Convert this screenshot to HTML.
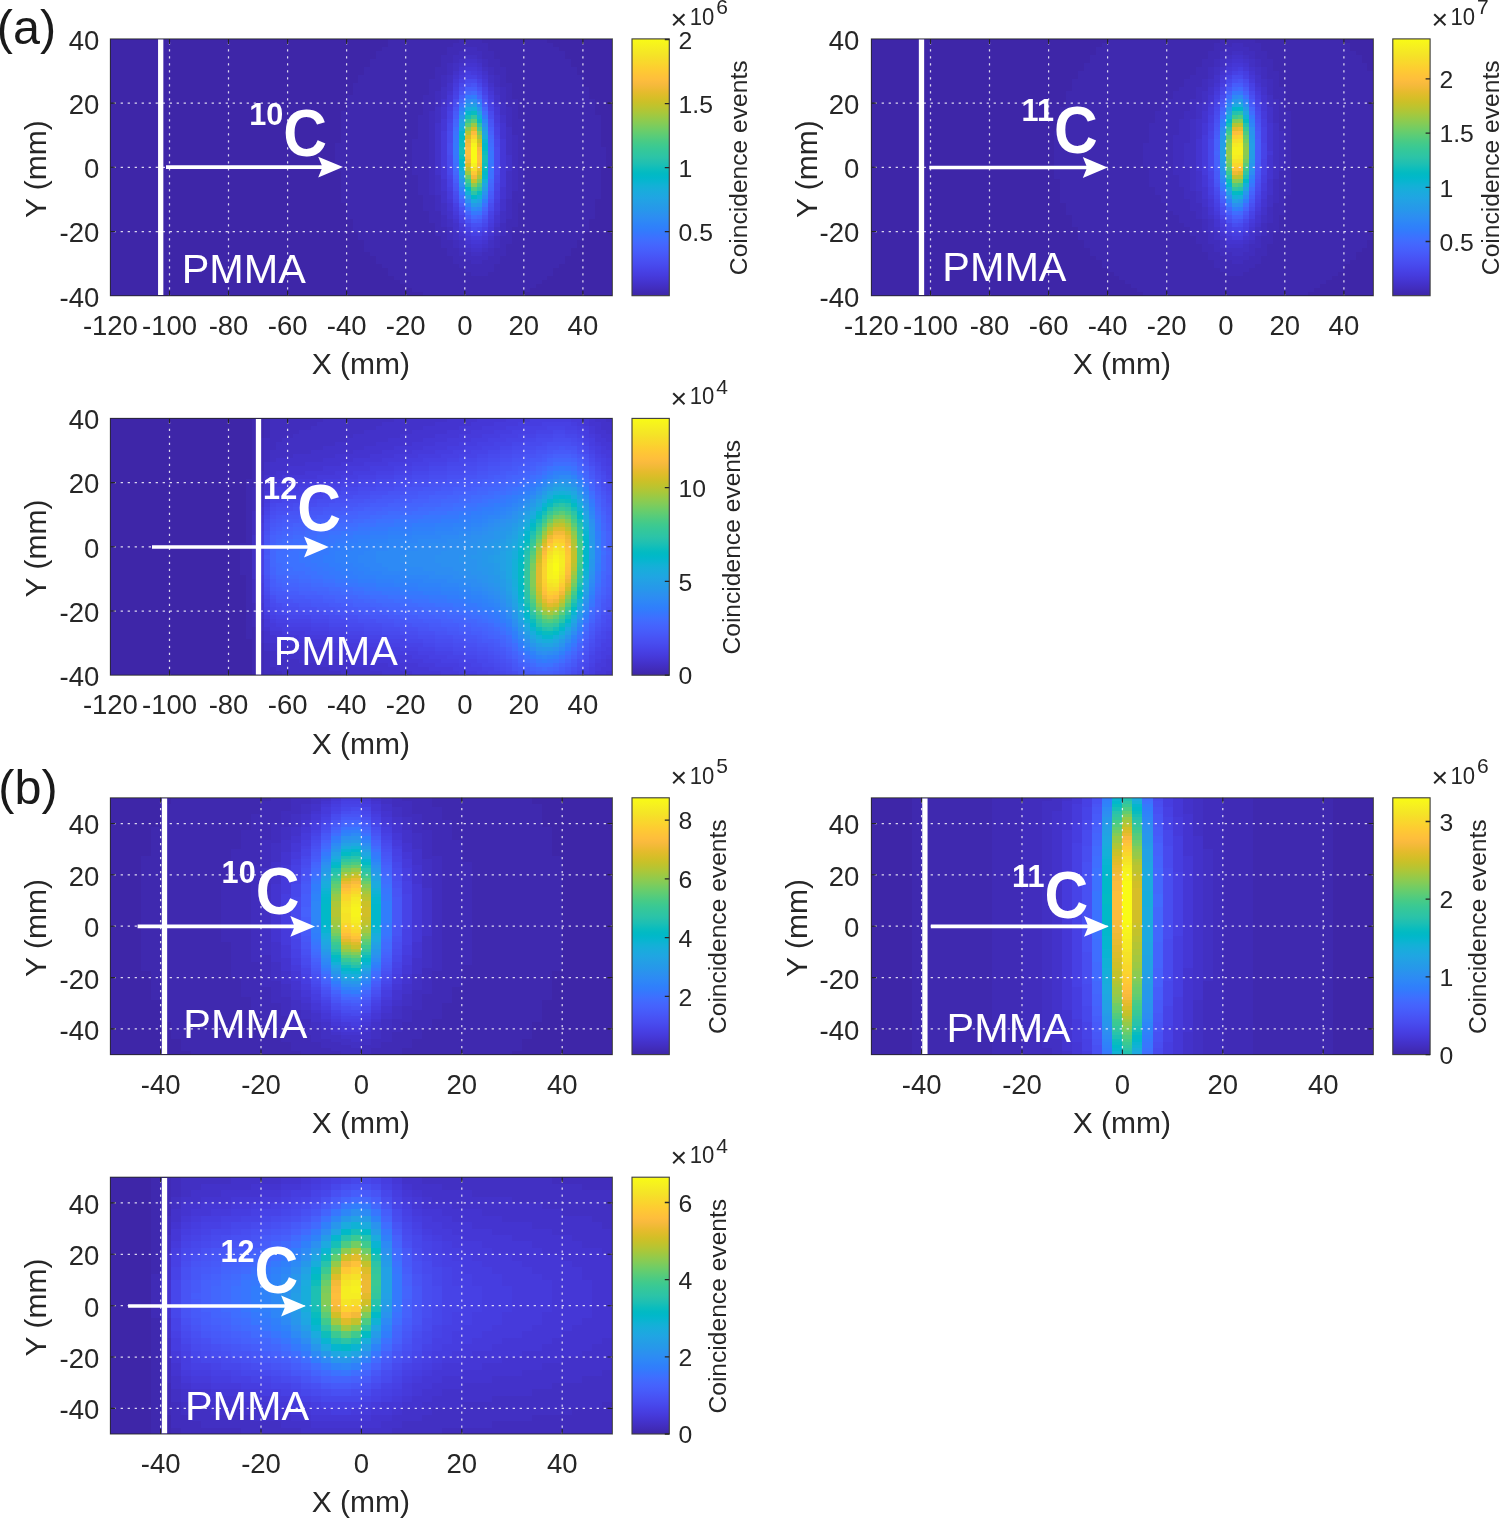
<!DOCTYPE html>
<html lang="en"><head><meta charset="utf-8"><title>PET images of 10C, 11C and 12C beams in PMMA</title>
<style>html,body{margin:0;padding:0;background:#fff}svg{display:block;font-family:'Liberation Sans', sans-serif}</style>
</head><body>
<svg width="1500" height="1519" viewBox="0 0 1500 1519">
<defs><linearGradient id="pg" x1="0" y1="1" x2="0" y2="0"><stop offset="0.0000" stop-color="#3e26a8"/><stop offset="0.0159" stop-color="#402ab4"/><stop offset="0.0317" stop-color="#422ec0"/><stop offset="0.0476" stop-color="#4332cb"/><stop offset="0.0635" stop-color="#4537d5"/><stop offset="0.0794" stop-color="#463cde"/><stop offset="0.0952" stop-color="#4741e5"/><stop offset="0.1111" stop-color="#4747eb"/><stop offset="0.1270" stop-color="#484df0"/><stop offset="0.1429" stop-color="#4852f4"/><stop offset="0.1587" stop-color="#4758f8"/><stop offset="0.1746" stop-color="#465efb"/><stop offset="0.1905" stop-color="#4563fd"/><stop offset="0.2063" stop-color="#4269fe"/><stop offset="0.2222" stop-color="#3e6fff"/><stop offset="0.2381" stop-color="#3875fe"/><stop offset="0.2540" stop-color="#327cfc"/><stop offset="0.2698" stop-color="#2f81fa"/><stop offset="0.2857" stop-color="#2e87f7"/><stop offset="0.3016" stop-color="#2d8cf3"/><stop offset="0.3175" stop-color="#2b91ef"/><stop offset="0.3333" stop-color="#2797eb"/><stop offset="0.3492" stop-color="#259be8"/><stop offset="0.3651" stop-color="#23a0e5"/><stop offset="0.3810" stop-color="#20a5e3"/><stop offset="0.3968" stop-color="#1ca9df"/><stop offset="0.4127" stop-color="#18addb"/><stop offset="0.4286" stop-color="#12b1d6"/><stop offset="0.4444" stop-color="#08b5d0"/><stop offset="0.4603" stop-color="#01b8ca"/><stop offset="0.4762" stop-color="#02bac3"/><stop offset="0.4921" stop-color="#0bbdbd"/><stop offset="0.5079" stop-color="#19bfb6"/><stop offset="0.5238" stop-color="#24c1ae"/><stop offset="0.5397" stop-color="#2cc4a7"/><stop offset="0.5556" stop-color="#31c69f"/><stop offset="0.5714" stop-color="#37c897"/><stop offset="0.5873" stop-color="#3fca8e"/><stop offset="0.6032" stop-color="#4acb84"/><stop offset="0.6190" stop-color="#57cc7a"/><stop offset="0.6349" stop-color="#64cd6f"/><stop offset="0.6508" stop-color="#72cd64"/><stop offset="0.6667" stop-color="#81cc59"/><stop offset="0.6825" stop-color="#8fcb4e"/><stop offset="0.6984" stop-color="#9dc943"/><stop offset="0.7143" stop-color="#abc739"/><stop offset="0.7302" stop-color="#b9c431"/><stop offset="0.7460" stop-color="#c5c22a"/><stop offset="0.7619" stop-color="#d1bf27"/><stop offset="0.7778" stop-color="#dcbd29"/><stop offset="0.7937" stop-color="#e6bb2d"/><stop offset="0.8095" stop-color="#f0ba36"/><stop offset="0.8254" stop-color="#f8ba3d"/><stop offset="0.8413" stop-color="#febe3c"/><stop offset="0.8571" stop-color="#fec338"/><stop offset="0.8730" stop-color="#fec934"/><stop offset="0.8889" stop-color="#fccf30"/><stop offset="0.9048" stop-color="#fad62d"/><stop offset="0.9206" stop-color="#f7dc2a"/><stop offset="0.9365" stop-color="#f5e327"/><stop offset="0.9524" stop-color="#f5e924"/><stop offset="0.9683" stop-color="#f6ef20"/><stop offset="0.9841" stop-color="#f7f51b"/><stop offset="1.0000" stop-color="#f9fb15"/></linearGradient></defs>
<rect width="1500" height="1519" fill="#fff"/>
<g id="p0">
<g shape-rendering="crispEdges">
<rect x="110.4" y="38.9" width="502" height="256.8" fill="#3e26a8"/>
<path fill="#3f29af" d="M388 38.9H459V43H388zM482 38.9H547V43H482zM388 43H453V47H388zM488 43H553V47H488zM382 47H447V51H382zM488 47H559V51H488zM376 51H447V55H376zM494 51H565V55H494zM376 55H441V59H376zM494 55H565V59H494zM370 59H441V63H370zM500 59H571V63H500zM370 63H441V67H370zM500 63H571V67H500zM364 67H435V71H364zM506 67H577V71H506zM364 71H435V75H364zM506 71H577V75H506zM358 75H435V79H358zM506 75H583V79H506zM358 79H429V83H358zM506 79H583V83H506zM353 83H429V87H353zM512 83H583V87H512zM353 87H429V91H353zM512 87H589V91H512zM353 91H429V95H353zM512 91H589V95H512zM347 95H423V99H347zM512 95H589V99H512zM347 99H423V103H347zM518 99H595V103H518zM347 103H423V107H347zM518 103H595V107H518zM347 107H423V111H347zM518 107H595V111H518zM341 111H423V115H341zM518 111H595V115H518zM341 115H418V119H341zM518 115H601V119H518zM341 119H418V123H341zM524 119H601V123H524zM341 123H418V127H341zM524 123H601V127H524zM341 127H418V131H341zM524 127H601V131H524zM341 131H418V135H341zM524 131H601V135H524zM341 135H418V139H341zM524 135H601V139H524zM341 139H412V143H341zM524 139H601V143H524zM335 143H412V147H335zM524 143H601V147H524zM335 147H412V151H335zM524 147H606V151H524zM335 151H412V155H335zM524 151H606V155H524zM335 155H412V159H335zM524 155H606V159H524zM335 159H412V163H335zM524 159H606V163H524zM335 163H412V167H335zM524 163H606V167H524zM335 167H412V171H335zM524 167H601V171H524zM341 171H412V175H341zM524 171H601V175H524zM341 175H418V179H341zM524 175H601V179H524zM341 179H418V183H341zM524 179H601V183H524zM341 183H418V187H341zM524 183H601V187H524zM341 187H418V191H341zM524 187H601V191H524zM341 191H418V195H341zM524 191H601V195H524zM341 195H423V199H341zM524 195H601V199H524zM341 199H423V203H341zM524 199H595V203H524zM347 203H423V207H347zM518 203H595V207H518zM347 207H423V211H347zM518 207H595V211H518zM347 211H429V215H347zM518 211H595V215H518zM347 215H429V219H347zM518 215H595V219H518zM353 219H429V223H353zM518 219H589V223H518zM353 223H435V227H353zM518 223H589V227H518zM353 227H435V232H353zM512 227H589V232H512zM358 232H435V236H358zM512 232H583V236H512zM358 236H441V240H358zM512 236H583V240H512zM364 240H441V244H364zM512 240H577V244H512zM364 244H441V248H364zM506 244H577V248H506zM364 248H447V252H364zM506 248H571V252H506zM370 252H447V256H370zM506 252H571V256H506zM376 256H453V260H376zM500 256H565V260H500zM376 260H453V264H376zM500 260H565V264H500zM382 264H459V268H382zM494 264H559V268H494zM388 268H465V272H388zM494 268H553V272H494zM388 272H471V276H388zM488 272H553V276H488zM394 276H547V280H394zM400 280H542V284H400zM406 284H536V288H406zM412 288H530V292H412zM423 292H524V295.7H423z"/>
<path fill="#402bb6" d="M459 38.9H482V43H459zM453 43H488V47H453zM447 47H465V51H447zM477 47H488V51H477zM447 51H459V55H447zM482 51H494V55H482zM441 55H453V59H441zM482 55H494V59H482zM441 59H453V63H441zM488 59H500V63H488zM441 63H447V67H441zM488 63H500V67H488zM435 67H447V71H435zM494 67H506V71H494zM435 71H447V75H435zM494 71H506V75H494zM435 75H441V79H435zM500 75H506V79H500zM429 79H441V83H429zM500 79H506V83H500zM429 83H441V87H429zM500 83H512V87H500zM429 87H441V91H429zM506 87H512V91H506zM429 91H435V95H429zM506 91H512V95H506zM423 95H435V99H423zM506 95H512V99H506zM423 99H435V103H423zM506 99H518V103H506zM423 103H435V107H423zM506 103H518V107H506zM423 107H435V111H423zM512 107H518V111H512zM423 111H429V115H423zM512 111H518V115H512zM418 115H429V119H418zM512 115H518V119H512zM418 119H429V123H418zM512 119H524V123H512zM418 123H429V127H418zM512 123H524V127H512zM418 127H429V131H418zM512 127H524V131H512zM418 131H429V135H418zM512 131H524V135H512zM418 135H429V139H418zM518 135H524V139H518zM412 139H429V143H412zM518 139H524V143H518zM412 143H429V147H412zM518 143H524V147H518zM412 147H429V151H412zM518 147H524V151H518zM412 151H429V155H412zM518 151H524V155H518zM412 155H429V159H412zM518 155H524V159H518zM412 159H429V163H412zM518 159H524V163H518zM412 163H429V167H412zM518 163H524V167H518zM412 167H429V171H412zM518 167H524V171H518zM412 171H429V175H412zM518 171H524V175H518zM418 175H429V179H418zM518 175H524V179H518zM418 179H429V183H418zM518 179H524V183H518zM418 183H429V187H418zM518 183H524V187H518zM418 187H429V191H418zM518 187H524V191H518zM418 191H429V195H418zM512 191H524V195H512zM423 195H435V199H423zM512 195H524V199H512zM423 199H435V203H423zM512 199H524V203H512zM423 203H435V207H423zM512 203H518V207H512zM423 207H435V211H423zM512 207H518V211H512zM429 211H441V215H429zM512 211H518V215H512zM429 215H441V219H429zM512 215H518V219H512zM429 219H441V223H429zM506 219H518V223H506zM435 223H441V227H435zM506 223H518V227H506zM435 227H447V232H435zM506 227H512V232H506zM435 232H447V236H435zM506 232H512V236H506zM441 236H447V240H441zM500 236H512V240H500zM441 240H453V244H441zM500 240H512V244H500zM441 244H453V248H441zM500 244H506V248H500zM447 248H459V252H447zM494 248H506V252H494zM447 252H459V256H447zM494 252H506V256H494zM453 256H465V260H453zM488 256H500V260H488zM453 260H471V264H453zM482 260H500V264H482zM459 264H494V268H459zM465 268H494V272H465zM471 272H488V276H471z"/>
<path fill="#412dbd" d="M465 47H477V51H465zM459 51H482V55H459zM453 55H465V59H453zM477 55H482V59H477zM453 59H459V63H453zM482 59H488V63H482zM447 63H453V67H447zM482 63H488V67H482zM447 67H453V71H447zM488 67H494V71H488zM447 71H453V75H447zM488 71H494V75H488zM441 75H447V79H441zM494 75H500V79H494zM441 79H447V83H441zM494 79H500V83H494zM441 83H447V87H441zM494 83H500V87H494zM500 87H506V91H500zM435 91H441V95H435zM500 91H506V95H500zM435 95H441V99H435zM500 95H506V99H500zM435 99H441V103H435zM500 99H506V103H500zM435 103H441V107H435zM506 107H512V111H506zM429 111H435V115H429zM506 111H512V115H506zM429 115H435V119H429zM506 115H512V119H506zM429 119H435V123H429zM506 119H512V123H506zM429 123H435V127H429zM506 123H512V127H506zM429 127H435V131H429zM429 131H435V135H429zM429 135H435V139H429zM512 135H518V139H512zM429 139H435V143H429zM512 139H518V143H512zM429 143H435V147H429zM512 143H518V147H512zM429 147H435V151H429zM512 147H518V151H512zM429 151H435V155H429zM512 151H518V155H512zM429 155H435V159H429zM512 155H518V159H512zM429 159H435V163H429zM512 159H518V163H512zM429 163H435V167H429zM512 163H518V167H512zM429 167H435V171H429zM512 167H518V171H512zM429 171H435V175H429zM512 171H518V175H512zM429 175H435V179H429zM512 175H518V179H512zM429 179H435V183H429zM512 179H518V183H512zM429 183H435V187H429zM512 183H518V187H512zM429 187H435V191H429zM512 187H518V191H512zM429 191H435V195H429zM435 195H441V199H435zM435 199H441V203H435zM506 199H512V203H506zM435 203H441V207H435zM506 203H512V207H506zM435 207H441V211H435zM506 207H512V211H506zM506 211H512V215H506zM441 215H447V219H441zM506 215H512V219H506zM441 219H447V223H441zM441 223H447V227H441zM500 223H506V227H500zM447 227H453V232H447zM500 227H506V232H500zM447 232H453V236H447zM500 232H506V236H500zM447 236H453V240H447zM494 236H500V240H494zM453 240H459V244H453zM494 240H500V244H494zM453 244H459V248H453zM494 244H500V248H494zM459 248H465V252H459zM488 248H494V252H488zM459 252H471V256H459zM482 252H494V256H482zM465 256H488V260H465zM471 260H482V264H471z"/>
<path fill="#4230c3" d="M465 55H477V59H465zM459 59H465V63H459zM477 59H482V63H477zM453 63H459V67H453zM453 67H459V71H453zM482 67H488V71H482zM447 75H453V79H447zM488 75H494V79H488zM447 79H453V83H447zM488 79H494V83H488zM441 87H447V91H441zM494 87H500V91H494zM441 91H447V95H441zM494 91H500V95H494zM441 95H447V99H441zM500 103H506V107H500zM435 107H441V111H435zM500 107H506V111H500zM435 111H441V115H435zM500 111H506V115H500zM435 115H441V119H435zM435 119H441V123H435zM506 127H512V131H506zM506 131H512V135H506zM506 135H512V139H506zM506 139H512V143H506zM506 143H512V147H506zM506 147H512V151H506zM506 151H512V155H506zM506 171H512V175H506zM435 175H441V179H435zM506 175H512V179H506zM435 179H441V183H435zM506 179H512V183H506zM435 183H441V187H435zM506 183H512V187H506zM435 187H441V191H435zM506 187H512V191H506zM435 191H441V195H435zM506 191H512V195H506zM506 195H512V199H506zM441 203H447V207H441zM441 207H447V211H441zM441 211H447V215H441zM500 211H506V215H500zM500 215H506V219H500zM447 219H453V223H447zM500 219H506V223H500zM447 223H453V227H447zM494 227H500V232H494zM453 232H459V236H453zM494 232H500V236H494zM453 236H459V240H453zM459 240H465V244H459zM488 240H494V244H488zM459 244H465V248H459zM488 244H494V248H488zM465 248H471V252H465zM482 248H488V252H482zM471 252H482V256H471z"/>
<path fill="#4332ca" d="M465 59H477V63H465zM459 63H465V67H459zM477 63H482V67H477zM453 71H459V75H453zM482 71H488V75H482zM447 83H453V87H447zM488 83H494V87H488zM447 87H453V91H447zM494 95H500V99H494zM441 99H447V103H441zM494 99H500V103H494zM441 103H447V107H441zM500 115H506V119H500zM500 119H506V123H500zM435 123H441V127H435zM435 127H441V131H435zM435 131H441V135H435zM435 135H441V139H435zM435 139H441V143H435zM435 143H441V147H435zM435 147H441V151H435zM435 151H441V155H435zM435 155H441V159H435zM506 155H512V159H506zM435 159H441V163H435zM506 159H512V163H506zM435 163H441V167H435zM506 163H512V167H506zM435 167H441V171H435zM506 167H512V171H506zM435 171H441V175H435zM441 191H447V195H441zM441 195H447V199H441zM441 199H447V203H441zM500 199H506V203H500zM500 203H506V207H500zM500 207H506V211H500zM447 211H453V215H447zM447 215H453V219H447zM453 223H459V227H453zM494 223H500V227H494zM453 227H459V232H453zM459 236H465V240H459zM488 236H494V240H488zM465 244H471V248H465zM482 244H488V248H482zM471 248H482V252H471z"/>
<path fill="#4434d0" d="M465 63H477V67H465zM459 67H465V71H459zM477 67H482V71H477zM453 75H459V79H453zM482 75H488V79H482zM488 87H494V91H488zM447 91H453V95H447zM494 103H500V107H494zM441 107H447V111H441zM441 111H447V115H441zM441 115H447V119H441zM500 123H506V127H500zM500 127H506V131H500zM500 131H506V135H500zM500 135H506V139H500zM441 179H447V183H441zM441 183H447V187H441zM441 187H447V191H441zM500 187H506V191H500zM500 191H506V195H500zM500 195H506V199H500zM447 203H453V207H447zM447 207H453V211H447zM494 215H500V219H494zM453 219H459V223H453zM494 219H500V223H494zM459 232H465V236H459zM488 232H494V236H488zM465 240H471V244H465zM482 240H488V244H482zM471 244H482V248H471z"/>
<path fill="#4537d6" d="M465 67H477V71H465zM459 71H465V75H459zM477 71H482V75H477zM453 79H459V83H453zM482 79H488V83H482zM488 91H494V95H488zM447 95H453V99H447zM447 99H453V103H447zM494 107H500V111H494zM494 111H500V115H494zM441 119H447V123H441zM441 123H447V127H441zM441 127H447V131H441zM500 139H506V143H500zM500 143H506V147H500zM500 147H506V151H500zM500 151H506V155H500zM500 155H506V159H500zM500 159H506V163H500zM500 163H506V167H500zM441 167H447V171H441zM500 167H506V171H500zM441 171H447V175H441zM500 171H506V175H500zM441 175H447V179H441zM500 175H506V179H500zM500 179H506V183H500zM500 183H506V187H500zM447 199H453V203H447zM494 211H500V215H494zM453 215H459V219H453zM459 227H465V232H459zM488 227H494V232H488zM465 236H471V240H465zM482 236H488V240H482zM471 240H482V244H471z"/>
<path fill="#463adb" d="M471 71H477V75H471zM459 75H465V79H459zM477 75H482V79H477zM453 83H459V87H453zM482 83H488V87H482zM488 95H494V99H488zM447 103H453V107H447zM494 115H500V119H494zM494 119H500V123H494zM441 131H447V135H441zM441 135H447V139H441zM441 139H447V143H441zM441 143H447V147H441zM441 147H447V151H441zM441 151H447V155H441zM441 155H447V159H441zM441 159H447V163H441zM441 163H447V167H441zM447 191H453V195H447zM447 195H453V199H447zM494 203H500V207H494zM494 207H500V211H494zM453 211H459V215H453zM459 223H465V227H459zM488 223H494V227H488zM465 232H471V236H465zM482 232H488V236H482zM471 236H482V240H471z"/>
<path fill="#463de0" d="M465 71H471V75H465zM453 87H459V91H453zM488 99H494V103H488zM447 107H453V111H447zM494 123H500V127H494zM447 187H453V191H447zM494 199H500V203H494zM453 207H459V211H453zM488 219H494V223H488z"/>
<path fill="#4740e4" d="M465 75H477V79H465zM459 79H465V83H459zM477 79H482V83H477zM482 87H488V91H482zM453 91H459V95H453zM488 103H494V107H488zM447 111H453V115H447zM447 115H453V119H447zM494 127H500V131H494zM494 131H500V135H494zM447 179H453V183H447zM447 183H453V187H447zM494 191H500V195H494zM494 195H500V199H494zM453 203H459V207H453zM488 215H494V219H488zM459 219H465V223H459zM465 227H471V232H465zM482 227H488V232H482zM471 232H482V236H471z"/>
<path fill="#4743e7" d="M482 91H488V95H482zM453 95H459V99H453zM488 107H494V111H488zM447 119H453V123H447zM494 135H500V139H494zM447 175H453V179H447zM494 183H500V187H494zM494 187H500V191H494zM488 211H494V215H488zM459 215H465V219H459z"/>
<path fill="#4747eb" d="M459 83H465V87H459zM477 83H482V87H477zM447 123H453V127H447zM447 127H453V131H447zM494 139H500V143H494zM494 143H500V147H494zM447 167H453V171H447zM447 171H453V175H447zM494 175H500V179H494zM494 179H500V183H494zM453 199H459V203H453zM465 223H471V227H465zM482 223H488V227H482zM477 227H482V232H477z"/>
<path fill="#484aee" d="M465 79H477V83H465zM482 95H488V99H482zM453 99H459V103H453zM488 111H494V115H488zM447 131H453V135H447zM447 135H453V139H447zM447 139H453V143H447zM494 147H500V151H494zM494 151H500V155H494zM447 155H453V159H447zM494 155H500V159H494zM447 159H453V163H447zM494 159H500V163H494zM447 163H453V167H447zM494 163H500V167H494zM494 167H500V171H494zM494 171H500V175H494zM453 195H459V199H453zM488 207H494V211H488zM459 211H465V215H459zM471 227H477V232H471z"/>
<path fill="#484df0" d="M459 87H465V91H459zM453 103H459V107H453zM488 115H494V119H488zM447 143H453V147H447zM447 147H453V151H447zM447 151H453V155H447zM453 191H459V195H453zM488 203H494V207H488zM482 219H488V223H482z"/>
<path fill="#4850f3" d="M465 83H471V87H465zM477 87H482V91H477zM482 99H488V103H482zM459 207H465V211H459zM465 219H471V223H465zM471 223H482V227H471z"/>
<path fill="#4854f5" d="M471 83H477V87H471zM459 91H465V95H459zM453 107H459V111H453zM488 119H494V123H488zM453 187H459V191H453zM488 199H494V203H488zM482 215H488V219H482z"/>
<path fill="#4757f7" d="M488 123H494V127H488zM453 183H459V187H453z"/>
<path fill="#475af9" d="M477 91H482V95H477zM482 103H488V107H482zM453 111H459V115H453zM488 195H494V199H488zM459 203H465V207H459zM465 215H471V219H465zM477 219H482V223H477z"/>
<path fill="#465dfb" d="M465 87H477V91H465zM459 95H465V99H459zM453 115H459V119H453zM488 127H494V131H488zM453 179H459V183H453zM488 191H494V195H488zM482 211H488V215H482zM471 219H477V223H471z"/>
<path fill="#4661fc" d="M488 131H494V135H488zM453 175H459V179H453z"/>
<path fill="#4464fd" d="M477 95H482V99H477zM482 107H488V111H482zM453 119H459V123H453zM488 187H494V191H488zM459 199H465V203H459zM465 211H471V215H465z"/>
<path fill="#4367fd" d="M465 91H471V95H465zM459 99H465V103H459zM453 123H459V127H453zM488 135H494V139H488zM453 171H459V175H453zM488 183H494V187H488zM482 207H488V211H482zM477 215H482V219H477z"/>
<path fill="#416bfe" d="M471 91H477V95H471zM488 139H494V143H488zM453 167H459V171H453zM488 179H494V183H488zM471 215H477V219H471z"/>
<path fill="#3f6eff" d="M482 111H488V115H482zM453 127H459V131H453zM488 143H494V147H488zM453 163H459V167H453zM459 195H465V199H459z"/>
<path fill="#3c72ff" d="M459 103H465V107H459zM453 131H459V135H453zM488 147H494V151H488zM453 159H459V163H453zM488 171H494V175H488zM488 175H494V179H488zM482 203H488V207H482zM465 207H471V211H465z"/>
<path fill="#3876fe" d="M477 99H482V103H477zM453 135H459V139H453zM453 139H459V143H453zM488 151H494V155H488zM453 155H459V159H453zM488 155H494V159H488zM488 163H494V167H488zM488 167H494V171H488zM477 211H482V215H477z"/>
<path fill="#3579fd" d="M465 95H471V99H465zM482 115H488V119H482zM453 143H459V147H453zM453 147H459V151H453zM453 151H459V155H453zM488 159H494V163H488zM459 191H465V195H459zM471 211H477V215H471z"/>
<path fill="#317dfc" d="M471 95H477V99H471zM482 199H488V203H482z"/>
<path fill="#3080fa" d="M459 107H465V111H459zM465 203H471V207H465z"/>
<path fill="#2e83f9" d="M477 103H482V107H477zM459 187H465V191H459z"/>
<path fill="#2e86f7" d="M482 119H488V123H482zM477 207H482V211H477z"/>
<path fill="#2d8af5" d="M465 99H471V103H465zM459 111H465V115H459zM482 195H488V199H482zM471 207H477V211H471z"/>
<path fill="#2d8df2" d="M471 99H477V103H471z"/>
<path fill="#2c90f0" d="M482 123H488V127H482zM459 183H465V187H459zM465 199H471V203H465z"/>
<path fill="#2a93ee" d="M477 107H482V111H477zM482 191H488V195H482z"/>
<path fill="#2896ec" d="M459 115H465V119H459zM477 203H482V207H477z"/>
<path fill="#2698ea" d="M465 103H471V107H465zM459 179H465V183H459z"/>
<path fill="#259be8" d="M482 127H488V131H482zM471 203H477V207H471z"/>
<path fill="#249ee6" d="M471 103H477V107H471zM482 187H488V191H482z"/>
<path fill="#23a1e5" d="M459 119H465V123H459zM465 195H471V199H465z"/>
<path fill="#21a3e3" d="M477 111H482V115H477zM482 131H488V135H482zM459 175H465V179H459zM477 199H482V203H477z"/>
<path fill="#1fa6e2" d="M482 183H488V187H482z"/>
<path fill="#1da9e0" d="M465 107H471V111H465zM459 123H465V127H459z"/>
<path fill="#1babde" d="M459 171H465V175H459zM471 199H477V203H471z"/>
<path fill="#18addb" d="M482 135H488V139H482z"/>
<path fill="#14b0d8" d="M471 107H477V111H471zM459 127H465V131H459zM482 179H488V183H482zM465 191H471V195H465z"/>
<path fill="#10b2d5" d="M477 115H482V119H477zM459 167H465V171H459zM477 195H482V199H477z"/>
<path fill="#0ab4d2" d="M482 139H488V143H482z"/>
<path fill="#05b6ce" d="M465 111H471V115H465zM459 131H465V135H459zM482 175H488V179H482z"/>
<path fill="#02b7cb" d="M482 143H488V147H482zM459 163H465V167H459z"/>
<path fill="#01b9c7" d="M482 171H488V175H482zM471 195H477V199H471z"/>
<path fill="#02bbc3" d="M459 135H465V139H459zM482 147H488V151H482zM459 159H465V163H459zM465 187H471V191H465z"/>
<path fill="#08bcbf" d="M471 111H477V115H471zM477 119H482V123H477zM459 139H465V143H459zM482 167H488V171H482zM477 191H482V195H477z"/>
<path fill="#0ebdbb" d="M459 143H465V147H459zM482 151H488V155H482zM459 155H465V159H459zM482 163H488V167H482z"/>
<path fill="#16bfb7" d="M465 115H471V119H465zM459 147H465V151H459zM459 151H465V155H459zM482 155H488V159H482zM482 159H488V163H482z"/>
<path fill="#28c3ab" d="M465 183H471V187H465z"/>
<path fill="#2cc4a6" d="M477 123H482V127H477zM471 191H477V195H471z"/>
<path fill="#30c5a2" d="M477 187H482V191H477z"/>
<path fill="#33c69d" d="M471 115H477V119H471z"/>
<path fill="#36c898" d="M465 119H471V123H465z"/>
<path fill="#3fca8e" d="M465 179H471V183H465z"/>
<path fill="#4ccb83" d="M477 127H482V131H477zM477 183H482V187H477zM471 187H477V191H471z"/>
<path fill="#5bcc77" d="M471 119H477V123H471zM465 123H471V127H465z"/>
<path fill="#6acd6a" d="M465 175H471V179H465z"/>
<path fill="#7bcc5d" d="M477 131H482V135H477zM477 179H482V183H477z"/>
<path fill="#8ccb50" d="M465 127H471V131H465zM471 183H477V187H471z"/>
<path fill="#9cc943" d="M471 123H477V127H471zM465 171H471V175H465z"/>
<path fill="#a4c83e" d="M477 135H482V139H477z"/>
<path fill="#acc738" d="M477 175H482V179H477z"/>
<path fill="#b4c533" d="M465 131H471V135H465z"/>
<path fill="#c3c22b" d="M465 167H471V171H465z"/>
<path fill="#cac129" d="M477 139H482V143H477zM471 179H477V183H471z"/>
<path fill="#d1bf27" d="M477 171H482V175H477z"/>
<path fill="#d7be28" d="M471 127H477V131H471zM465 135H471V139H465z"/>
<path fill="#ddbd29" d="M465 163H471V167H465z"/>
<path fill="#e3bb2c" d="M477 143H482V147H477z"/>
<path fill="#e9bb30" d="M477 167H482V171H477z"/>
<path fill="#eeba34" d="M465 139H471V143H465z"/>
<path fill="#f3ba39" d="M465 159H471V163H465zM471 175H477V179H471z"/>
<path fill="#f8ba3d" d="M465 143H471V147H465zM477 147H482V151H477zM477 163H482V167H477z"/>
<path fill="#fcbc3d" d="M471 131H477V135H471zM477 151H482V155H477zM465 155H471V159H465z"/>
<path fill="#febf3c" d="M465 147H471V151H465zM465 151H471V155H465zM477 155H482V159H477zM477 159H482V163H477z"/>
<path fill="#fec934" d="M471 171H477V175H471z"/>
<path fill="#fcd030" d="M471 135H477V139H471z"/>
<path fill="#f6df29" d="M471 167H477V171H471z"/>
<path fill="#f5e626" d="M471 139H477V143H471z"/>
<path fill="#f6f11f" d="M471 163H477V167H471z"/>
<path fill="#f7f41c" d="M471 143H477V147H471z"/>
<path fill="#f9fb15" d="M471 147H477V151H471zM471 151H477V155H471zM471 155H477V159H471zM471 159H477V163H471z"/>
</g>
<path d="M169.5 38.9V295.7M228.5 38.9V295.7M287.6 38.9V295.7M346.6 38.9V295.7M405.7 38.9V295.7M464.8 38.9V295.7M523.8 38.9V295.7M582.9 38.9V295.7M110.4 231.5H612.4M110.4 167.3H612.4M110.4 103.1H612.4" fill="none" stroke="#f2f0fa" stroke-opacity=".88" stroke-width="1.25" stroke-dasharray="2.3 4.7" stroke-dashoffset="3.75"/>
<path d="M169.5 295.7v-5M169.5 38.9v5M228.5 295.7v-5M228.5 38.9v5M287.6 295.7v-5M287.6 38.9v5M346.6 295.7v-5M346.6 38.9v5M405.7 295.7v-5M405.7 38.9v5M464.8 295.7v-5M464.8 38.9v5M523.8 295.7v-5M523.8 38.9v5M582.9 295.7v-5M582.9 38.9v5M110.4 231.5h5M612.4 231.5h-5M110.4 167.3h5M612.4 167.3h-5M110.4 103.1h5M612.4 103.1h-5" fill="none" stroke="#262626" stroke-width="1.1"/>
<rect x="110.4" y="38.9" width="502" height="256.8" fill="none" stroke="#262626" stroke-opacity=".8" stroke-width="1.1"/>
<g font-size="27.5" fill="#262626">
<text x="110.4" y="334.7" text-anchor="middle">-120</text>
<text x="169.5" y="334.7" text-anchor="middle">-100</text>
<text x="228.5" y="334.7" text-anchor="middle">-80</text>
<text x="287.6" y="334.7" text-anchor="middle">-60</text>
<text x="346.6" y="334.7" text-anchor="middle">-40</text>
<text x="405.7" y="334.7" text-anchor="middle">-20</text>
<text x="464.8" y="334.7" text-anchor="middle">0</text>
<text x="523.8" y="334.7" text-anchor="middle">20</text>
<text x="582.9" y="334.7" text-anchor="middle">40</text>
<text x="99.3" y="306.6" text-anchor="end">-40</text>
<text x="99.3" y="242.4" text-anchor="end">-20</text>
<text x="99.3" y="178.2" text-anchor="end">0</text>
<text x="99.3" y="114" text-anchor="end">20</text>
<text x="99.3" y="49.8" text-anchor="end">40</text>
</g>
<text x="360.9" y="374" text-anchor="middle" font-size="30" fill="#262626">X (mm)</text>
<text transform="translate(45.5 169.1) rotate(-90)" text-anchor="middle" font-size="30" fill="#262626">Y (mm)</text>
<path d="M160.7 39.6V295" stroke="#fff" stroke-width="5.3" fill="none"/>
<path d="M166 167.1H327.2" stroke="#fff" stroke-width="3.6" fill="none"/>
<path d="M343 167.1l-24.8 -10.4l4.3 10.4l-4.3 10.4z" fill="#fff"/>
<text transform="translate(283.3 156) scale(.92 1)" fill="#fff" font-weight="bold" font-size="65.8">C</text>
<text fill="#fff" font-weight="bold" font-size="31.6" text-anchor="end" transform="translate(283.3 124.6) scale(.97 1)">10</text>
<text x="181.7" y="283" fill="#fff" font-size="41.4">PMMA</text>
<rect x="632" y="38.9" width="37.3" height="256.8" fill="url(#pg)" stroke="#3c3c3c" stroke-width="1.1"/>
<g font-size="24.75" fill="#262626">
<text x="678.6" y="240.9">0.5</text>
<text x="678.6" y="176.8">1</text>
<text x="678.6" y="112.8">1.5</text>
<text x="678.6" y="48.7">2</text>
</g>
<path d="M669.3 231.7h-4.5M669.3 167.6h-4.5M669.3 103.6h-4.5M669.3 39.5h-4.5" fill="none" stroke="#262626" stroke-width="1.3"/>
<text fill="#262626" font-size="24"><tspan x="670.6" y="28.5" font-size="28.5">×</tspan><tspan x="689.7" y="24.8" textLength="24.6" lengthAdjust="spacingAndGlyphs">10</tspan><tspan x="716.3" y="14.3" font-size="21">6</tspan></text>
<text transform="translate(746.8 167.8) rotate(-90)" text-anchor="middle" font-size="24.6" fill="#262626">Coincidence events</text>
</g>
<g id="p1">
<g shape-rendering="crispEdges">
<rect x="871.4" y="38.9" width="502" height="256.8" fill="#3e26a8"/>
<path fill="#3f29af" d="M1108 38.9H1220V43H1108zM1255 38.9H1344V43H1255zM1102 43H1214V47H1102zM1261 43H1350V47H1261zM1096 47H1214V51H1096zM1261 47H1350V51H1261zM1096 51H1208V55H1096zM1267 51H1356V55H1267zM1090 55H1208V59H1090zM1267 55H1362V59H1267zM1090 59H1202V63H1090zM1273 59H1362V63H1273zM1084 63H1202V67H1084zM1273 63H1367V67H1273zM1084 67H1196V71H1084zM1273 67H1367V71H1273zM1078 71H1196V75H1078zM1279 71H1373.4V75H1279zM1078 75H1190V79H1078zM1279 75H1373.4V79H1279zM1072 79H1184V83H1072zM1279 79H1373.4V83H1279zM1072 83H1184V87H1072zM1279 83H1373.4V87H1279zM1072 87H1179V91H1072zM1285 87H1373.4V91H1285zM1066 91H1173V95H1066zM1285 91H1373.4V95H1285zM1066 95H1173V99H1066zM1285 95H1373.4V99H1285zM1066 99H1167V103H1066zM1285 99H1373.4V103H1285zM1066 103H1161V107H1066zM1285 103H1373.4V107H1285zM1060 107H1161V111H1060zM1285 107H1373.4V111H1285zM1060 111H1155V115H1060zM1291 111H1373.4V115H1291zM1060 115H1155V119H1060zM1291 115H1373.4V119H1291zM1060 119H1155V123H1060zM1291 119H1373.4V123H1291zM1060 123H1149V127H1060zM1291 123H1373.4V127H1291zM1060 127H1149V131H1060zM1291 127H1373.4V131H1291zM1054 131H1149V135H1054zM1291 131H1373.4V135H1291zM1054 135H1149V139H1054zM1291 135H1373.4V139H1291zM1054 139H1149V143H1054zM1291 139H1373.4V143H1291zM1054 143H1143V147H1054zM1291 143H1373.4V147H1291zM1054 147H1143V151H1054zM1291 147H1373.4V151H1291zM1054 151H1143V155H1054zM1291 151H1373.4V155H1291zM1054 155H1143V159H1054zM1291 155H1373.4V159H1291zM1054 159H1143V163H1054zM1291 159H1373.4V163H1291zM1054 163H1143V167H1054zM1291 163H1373.4V167H1291zM1054 167H1149V171H1054zM1291 167H1373.4V171H1291zM1054 171H1149V175H1054zM1291 171H1373.4V175H1291zM1054 175H1149V179H1054zM1291 175H1373.4V179H1291zM1060 179H1149V183H1060zM1291 179H1373.4V183H1291zM1060 183H1149V187H1060zM1291 183H1373.4V187H1291zM1060 187H1155V191H1060zM1291 187H1373.4V191H1291zM1060 191H1155V195H1060zM1291 191H1373.4V195H1291zM1060 195H1161V199H1060zM1285 195H1373.4V199H1285zM1060 199H1161V203H1060zM1285 199H1373.4V203H1285zM1066 203H1167V207H1066zM1285 203H1373.4V207H1285zM1066 207H1167V211H1066zM1285 207H1373.4V211H1285zM1066 211H1173V215H1066zM1285 211H1373.4V215H1285zM1072 215H1179V219H1072zM1279 215H1373.4V219H1279zM1072 219H1179V223H1072zM1279 219H1373.4V223H1279zM1072 223H1184V227H1072zM1279 223H1373.4V227H1279zM1078 227H1190V232H1078zM1279 227H1373.4V232H1279zM1078 232H1190V236H1078zM1273 232H1373.4V236H1273zM1078 236H1196V240H1078zM1273 236H1373.4V240H1273zM1084 240H1196V244H1084zM1273 240H1367V244H1273zM1084 244H1202V248H1084zM1267 244H1367V248H1267zM1090 248H1202V252H1090zM1267 248H1362V252H1267zM1090 252H1208V256H1090zM1267 252H1356V256H1267zM1096 256H1208V260H1096zM1261 256H1356V260H1261zM1102 260H1214V264H1102zM1261 260H1350V264H1261zM1102 264H1214V268H1102zM1255 264H1344V268H1255zM1108 268H1220V272H1108zM1249 268H1344V272H1249zM1114 272H1226V276H1114zM1243 272H1338V276H1243zM1119 276H1332V280H1119zM1125 280H1326V284H1125zM1131 284H1320V288H1131zM1137 288H1314V292H1137zM1143 292H1308V295.7H1143z"/>
<path fill="#402bb6" d="M1220 38.9H1255V43H1220zM1214 43H1232V47H1214zM1243 43H1261V47H1243zM1214 47H1226V51H1214zM1249 47H1261V51H1249zM1208 51H1220V55H1208zM1255 51H1267V55H1255zM1208 55H1220V59H1208zM1255 55H1267V59H1255zM1202 59H1214V63H1202zM1261 59H1273V63H1261zM1202 63H1214V67H1202zM1261 63H1273V67H1261zM1196 67H1208V71H1196zM1267 67H1273V71H1267zM1196 71H1208V75H1196zM1267 71H1279V75H1267zM1190 75H1208V79H1190zM1267 75H1279V79H1267zM1184 79H1202V83H1184zM1273 79H1279V83H1273zM1184 83H1202V87H1184zM1273 83H1279V87H1273zM1179 87H1196V91H1179zM1273 87H1285V91H1273zM1173 91H1196V95H1173zM1273 91H1285V95H1273zM1173 95H1196V99H1173zM1273 95H1285V99H1273zM1167 99H1190V103H1167zM1279 99H1285V103H1279zM1161 103H1190V107H1161zM1279 103H1285V107H1279zM1161 107H1190V111H1161zM1279 107H1285V111H1279zM1155 111H1184V115H1155zM1279 111H1291V115H1279zM1155 115H1184V119H1155zM1279 115H1291V119H1279zM1155 119H1179V123H1155zM1279 119H1291V123H1279zM1149 123H1179V127H1149zM1279 123H1291V127H1279zM1149 127H1179V131H1149zM1279 127H1291V131H1279zM1149 131H1179V135H1149zM1285 131H1291V135H1285zM1149 135H1173V139H1149zM1285 135H1291V139H1285zM1149 139H1173V143H1149zM1285 139H1291V143H1285zM1143 143H1173V147H1143zM1285 143H1291V147H1285zM1143 147H1173V151H1143zM1285 147H1291V151H1285zM1143 151H1173V155H1143zM1285 151H1291V155H1285zM1143 155H1173V159H1143zM1285 155H1291V159H1285zM1143 159H1173V163H1143zM1285 159H1291V163H1285zM1143 163H1173V167H1143zM1285 163H1291V167H1285zM1149 167H1173V171H1149zM1285 167H1291V171H1285zM1149 171H1173V175H1149zM1279 171H1291V175H1279zM1149 175H1179V179H1149zM1279 175H1291V179H1279zM1149 179H1179V183H1149zM1279 179H1291V183H1279zM1149 183H1179V187H1149zM1279 183H1291V187H1279zM1155 187H1184V191H1155zM1279 187H1291V191H1279zM1155 191H1184V195H1155zM1279 191H1291V195H1279zM1161 195H1184V199H1161zM1279 195H1285V199H1279zM1161 199H1190V203H1161zM1279 199H1285V203H1279zM1167 203H1190V207H1167zM1273 203H1285V207H1273zM1167 207H1190V211H1167zM1273 207H1285V211H1273zM1173 211H1196V215H1173zM1273 211H1285V215H1273zM1179 215H1196V219H1179zM1273 215H1279V219H1273zM1179 219H1202V223H1179zM1273 219H1279V223H1273zM1184 223H1202V227H1184zM1267 223H1279V227H1267zM1190 227H1202V232H1190zM1267 227H1279V232H1267zM1190 232H1208V236H1190zM1267 232H1273V236H1267zM1196 236H1208V240H1196zM1261 236H1273V240H1261zM1196 240H1208V244H1196zM1261 240H1273V244H1261zM1202 244H1214V248H1202zM1261 244H1267V248H1261zM1202 248H1214V252H1202zM1255 248H1267V252H1255zM1208 252H1220V256H1208zM1255 252H1267V256H1255zM1208 256H1226V260H1208zM1249 256H1261V260H1249zM1214 260H1232V264H1214zM1243 260H1261V264H1243zM1214 264H1255V268H1214zM1220 268H1249V272H1220zM1226 272H1243V276H1226z"/>
<path fill="#412dbd" d="M1232 43H1243V47H1232zM1226 47H1249V51H1226zM1220 51H1232V55H1220zM1243 51H1255V55H1243zM1220 55H1226V59H1220zM1249 55H1255V59H1249zM1214 59H1220V63H1214zM1255 59H1261V63H1255zM1214 63H1220V67H1214zM1255 63H1261V67H1255zM1208 67H1214V71H1208zM1261 67H1267V71H1261zM1208 71H1214V75H1208zM1261 71H1267V75H1261zM1208 75H1214V79H1208zM1261 75H1267V79H1261zM1202 79H1208V83H1202zM1267 79H1273V83H1267zM1202 83H1208V87H1202zM1267 83H1273V87H1267zM1196 87H1208V91H1196zM1267 87H1273V91H1267zM1196 91H1202V95H1196zM1267 91H1273V95H1267zM1196 95H1202V99H1196zM1190 99H1202V103H1190zM1273 99H1279V103H1273zM1190 103H1196V107H1190zM1273 103H1279V107H1273zM1190 107H1196V111H1190zM1273 107H1279V111H1273zM1184 111H1196V115H1184zM1273 111H1279V115H1273zM1184 115H1196V119H1184zM1273 115H1279V119H1273zM1179 119H1190V123H1179zM1273 119H1279V123H1273zM1179 123H1190V127H1179zM1179 127H1190V131H1179zM1179 131H1190V135H1179zM1279 131H1285V135H1279zM1173 135H1190V139H1173zM1279 135H1285V139H1279zM1173 139H1190V143H1173zM1279 139H1285V143H1279zM1173 143H1184V147H1173zM1279 143H1285V147H1279zM1173 147H1184V151H1173zM1279 147H1285V151H1279zM1173 151H1184V155H1173zM1279 151H1285V155H1279zM1173 155H1184V159H1173zM1279 155H1285V159H1279zM1173 159H1184V163H1173zM1279 159H1285V163H1279zM1173 163H1184V167H1173zM1279 163H1285V167H1279zM1173 167H1190V171H1173zM1279 167H1285V171H1279zM1173 171H1190V175H1173zM1179 175H1190V179H1179zM1179 179H1190V183H1179zM1273 179H1279V183H1273zM1179 183H1190V187H1179zM1273 183H1279V187H1273zM1184 187H1190V191H1184zM1273 187H1279V191H1273zM1184 191H1196V195H1184zM1273 191H1279V195H1273zM1184 195H1196V199H1184zM1273 195H1279V199H1273zM1190 199H1196V203H1190zM1273 199H1279V203H1273zM1190 203H1202V207H1190zM1190 207H1202V211H1190zM1267 207H1273V211H1267zM1196 211H1202V215H1196zM1267 211H1273V215H1267zM1196 215H1202V219H1196zM1267 215H1273V219H1267zM1202 219H1208V223H1202zM1267 219H1273V223H1267zM1202 223H1208V227H1202zM1261 223H1267V227H1261zM1202 227H1208V232H1202zM1261 227H1267V232H1261zM1208 232H1214V236H1208zM1261 232H1267V236H1261zM1208 236H1214V240H1208zM1255 236H1261V240H1255zM1208 240H1220V244H1208zM1255 240H1261V244H1255zM1214 244H1220V248H1214zM1249 244H1261V248H1249zM1214 248H1226V252H1214zM1249 248H1255V252H1249zM1220 252H1232V256H1220zM1243 252H1255V256H1243zM1226 256H1249V260H1226zM1232 260H1243V264H1232z"/>
<path fill="#4230c3" d="M1232 51H1243V55H1232zM1226 55H1232V59H1226zM1243 55H1249V59H1243zM1220 59H1226V63H1220zM1249 59H1255V63H1249zM1220 63H1226V67H1220zM1249 63H1255V67H1249zM1214 67H1220V71H1214zM1255 67H1261V71H1255zM1214 71H1220V75H1214zM1255 71H1261V75H1255zM1208 79H1214V83H1208zM1261 79H1267V83H1261zM1208 83H1214V87H1208zM1261 83H1267V87H1261zM1202 91H1208V95H1202zM1202 95H1208V99H1202zM1267 95H1273V99H1267zM1202 99H1208V103H1202zM1267 99H1273V103H1267zM1196 103H1202V107H1196zM1267 103H1273V107H1267zM1196 107H1202V111H1196zM1196 111H1202V115H1196zM1196 115H1202V119H1196zM1190 119H1196V123H1190zM1190 123H1196V127H1190zM1273 123H1279V127H1273zM1190 127H1196V131H1190zM1273 127H1279V131H1273zM1190 131H1196V135H1190zM1273 131H1279V135H1273zM1190 135H1196V139H1190zM1273 135H1279V139H1273zM1190 139H1196V143H1190zM1273 139H1279V143H1273zM1184 143H1196V147H1184zM1273 143H1279V147H1273zM1184 147H1196V151H1184zM1273 147H1279V151H1273zM1184 151H1196V155H1184zM1273 151H1279V155H1273zM1184 155H1196V159H1184zM1273 155H1279V159H1273zM1184 159H1196V163H1184zM1273 159H1279V163H1273zM1184 163H1196V167H1184zM1273 163H1279V167H1273zM1190 167H1196V171H1190zM1273 167H1279V171H1273zM1190 171H1196V175H1190zM1273 171H1279V175H1273zM1190 175H1196V179H1190zM1273 175H1279V179H1273zM1190 179H1196V183H1190zM1190 183H1196V187H1190zM1190 187H1196V191H1190zM1196 191H1202V195H1196zM1196 195H1202V199H1196zM1267 195H1273V199H1267zM1196 199H1202V203H1196zM1267 199H1273V203H1267zM1267 203H1273V207H1267zM1202 207H1208V211H1202zM1202 211H1208V215H1202zM1202 215H1208V219H1202zM1261 215H1267V219H1261zM1208 219H1214V223H1208zM1261 219H1267V223H1261zM1208 223H1214V227H1208zM1208 227H1214V232H1208zM1255 227H1261V232H1255zM1214 232H1220V236H1214zM1255 232H1261V236H1255zM1214 236H1220V240H1214zM1220 240H1226V244H1220zM1249 240H1255V244H1249zM1220 244H1226V248H1220zM1243 244H1249V248H1243zM1226 248H1249V252H1226zM1232 252H1243V256H1232z"/>
<path fill="#4332ca" d="M1232 55H1243V59H1232zM1226 59H1232V63H1226zM1243 59H1249V63H1243zM1220 67H1226V71H1220zM1249 67H1255V71H1249zM1214 75H1220V79H1214zM1255 75H1261V79H1255zM1214 79H1220V83H1214zM1255 79H1261V83H1255zM1208 87H1214V91H1208zM1261 87H1267V91H1261zM1208 91H1214V95H1208zM1261 91H1267V95H1261zM1202 103H1208V107H1202zM1202 107H1208V111H1202zM1267 107H1273V111H1267zM1267 111H1273V115H1267zM1267 115H1273V119H1267zM1196 119H1202V123H1196zM1267 119H1273V123H1267zM1196 123H1202V127H1196zM1196 127H1202V131H1196zM1196 131H1202V135H1196zM1196 135H1202V139H1196zM1196 171H1202V175H1196zM1196 175H1202V179H1196zM1196 179H1202V183H1196zM1267 179H1273V183H1267zM1196 183H1202V187H1196zM1267 183H1273V187H1267zM1196 187H1202V191H1196zM1267 187H1273V191H1267zM1267 191H1273V195H1267zM1202 199H1208V203H1202zM1202 203H1208V207H1202zM1261 207H1267V211H1261zM1261 211H1267V215H1261zM1208 215H1214V219H1208zM1255 223H1261V227H1255zM1214 227H1220V232H1214zM1249 232H1255V236H1249zM1220 236H1226V240H1220zM1249 236H1255V240H1249zM1243 240H1249V244H1243zM1226 244H1243V248H1226z"/>
<path fill="#4434d0" d="M1232 59H1243V63H1232zM1226 63H1232V67H1226zM1243 63H1249V67H1243zM1220 71H1226V75H1220zM1249 71H1255V75H1249zM1214 83H1220V87H1214zM1255 83H1261V87H1255zM1208 95H1214V99H1208zM1261 95H1267V99H1261zM1208 99H1214V103H1208zM1261 99H1267V103H1261zM1202 111H1208V115H1202zM1202 115H1208V119H1202zM1202 119H1208V123H1202zM1267 123H1273V127H1267zM1267 127H1273V131H1267zM1267 131H1273V135H1267zM1267 135H1273V139H1267zM1196 139H1202V143H1196zM1267 139H1273V143H1267zM1196 143H1202V147H1196zM1267 143H1273V147H1267zM1196 147H1202V151H1196zM1267 147H1273V151H1267zM1196 151H1202V155H1196zM1196 155H1202V159H1196zM1267 155H1273V159H1267zM1196 159H1202V163H1196zM1267 159H1273V163H1267zM1196 163H1202V167H1196zM1267 163H1273V167H1267zM1196 167H1202V171H1196zM1267 167H1273V171H1267zM1267 171H1273V175H1267zM1267 175H1273V179H1267zM1202 187H1208V191H1202zM1202 191H1208V195H1202zM1202 195H1208V199H1202zM1261 199H1267V203H1261zM1261 203H1267V207H1261zM1208 207H1214V211H1208zM1208 211H1214V215H1208zM1255 215H1261V219H1255zM1214 219H1220V223H1214zM1255 219H1261V223H1255zM1214 223H1220V227H1214zM1249 227H1255V232H1249zM1220 232H1226V236H1220zM1243 236H1249V240H1243zM1226 240H1243V244H1226z"/>
<path fill="#4537d6" d="M1232 63H1243V67H1232zM1226 67H1232V71H1226zM1243 67H1249V71H1243zM1220 75H1226V79H1220zM1249 75H1255V79H1249zM1214 87H1220V91H1214zM1255 87H1261V91H1255zM1208 103H1214V107H1208zM1261 103H1267V107H1261zM1261 107H1267V111H1261zM1202 123H1208V127H1202zM1202 127H1208V131H1202zM1202 131H1208V135H1202zM1267 151H1273V155H1267zM1202 175H1208V179H1202zM1202 179H1208V183H1202zM1202 183H1208V187H1202zM1261 191H1267V195H1261zM1261 195H1267V199H1261zM1208 199H1214V203H1208zM1208 203H1214V207H1208zM1255 211H1261V215H1255zM1214 215H1220V219H1214zM1249 223H1255V227H1249zM1220 227H1226V232H1220zM1243 232H1249V236H1243zM1226 236H1232V240H1226z"/>
<path fill="#463adb" d="M1232 67H1238V71H1232zM1226 71H1232V75H1226zM1220 79H1226V83H1220zM1249 79H1255V83H1249zM1214 91H1220V95H1214zM1255 91H1261V95H1255zM1208 107H1214V111H1208zM1208 111H1214V115H1208zM1261 111H1267V115H1261zM1261 115H1267V119H1261zM1202 135H1208V139H1202zM1202 139H1208V143H1202zM1202 143H1208V147H1202zM1202 147H1208V151H1202zM1202 151H1208V155H1202zM1202 155H1208V159H1202zM1202 159H1208V163H1202zM1202 163H1208V167H1202zM1202 167H1208V171H1202zM1202 171H1208V175H1202zM1261 183H1267V187H1261zM1261 187H1267V191H1261zM1208 195H1214V199H1208zM1255 207H1261V211H1255zM1214 211H1220V215H1214zM1249 219H1255V223H1249zM1220 223H1226V227H1220zM1226 232H1232V236H1226zM1232 236H1243V240H1232z"/>
<path fill="#463de0" d="M1238 67H1243V71H1238zM1243 71H1249V75H1243zM1220 83H1226V87H1220zM1214 95H1220V99H1214zM1255 95H1261V99H1255zM1208 115H1214V119H1208zM1208 119H1214V123H1208zM1261 119H1267V123H1261zM1261 123H1267V127H1261zM1261 175H1267V179H1261zM1261 179H1267V183H1261zM1208 187H1214V191H1208zM1208 191H1214V195H1208zM1255 203H1261V207H1255zM1214 207H1220V211H1214zM1220 219H1226V223H1220zM1243 227H1249V232H1243zM1232 232H1243V236H1232z"/>
<path fill="#4740e4" d="M1232 71H1238V75H1232zM1226 75H1232V79H1226zM1243 75H1249V79H1243zM1249 83H1255V87H1249zM1214 99H1220V103H1214zM1255 99H1261V103H1255zM1208 123H1214V127H1208zM1208 127H1214V131H1208zM1261 127H1267V131H1261zM1261 131H1267V135H1261zM1261 135H1267V139H1261zM1261 139H1267V143H1261zM1261 159H1267V163H1261zM1261 163H1267V167H1261zM1261 167H1267V171H1261zM1261 171H1267V175H1261zM1208 179H1214V183H1208zM1208 183H1214V187H1208zM1255 199H1261V203H1255zM1214 203H1220V207H1214zM1249 215H1255V219H1249zM1243 223H1249V227H1243zM1226 227H1232V232H1226z"/>
<path fill="#4743e7" d="M1238 71H1243V75H1238zM1220 87H1226V91H1220zM1249 87H1255V91H1249zM1214 103H1220V107H1214zM1255 103H1261V107H1255zM1208 131H1214V135H1208zM1208 135H1214V139H1208zM1261 143H1267V147H1261zM1261 147H1267V151H1261zM1261 151H1267V155H1261zM1261 155H1267V159H1261zM1208 171H1214V175H1208zM1208 175H1214V179H1208zM1255 195H1261V199H1255zM1214 199H1220V203H1214zM1249 211H1255V215H1249zM1220 215H1226V219H1220zM1226 223H1232V227H1226zM1232 227H1243V232H1232z"/>
<path fill="#4747eb" d="M1226 79H1232V83H1226zM1220 91H1226V95H1220zM1214 107H1220V111H1214zM1255 107H1261V111H1255zM1208 139H1214V143H1208zM1208 143H1214V147H1208zM1208 147H1214V151H1208zM1208 151H1214V155H1208zM1208 155H1214V159H1208zM1208 159H1214V163H1208zM1208 163H1214V167H1208zM1208 167H1214V171H1208zM1255 191H1261V195H1255zM1214 195H1220V199H1214zM1243 219H1249V223H1243z"/>
<path fill="#484aee" d="M1232 75H1243V79H1232zM1243 79H1249V83H1243zM1249 91H1255V95H1249zM1214 111H1220V115H1214zM1255 111H1261V115H1255zM1255 187H1261V191H1255zM1214 191H1220V195H1214zM1249 207H1255V211H1249zM1220 211H1226V215H1220zM1238 223H1243V227H1238z"/>
<path fill="#484df0" d="M1226 83H1232V87H1226zM1220 95H1226V99H1220zM1214 115H1220V119H1214zM1255 115H1261V119H1255zM1255 183H1261V187H1255zM1214 187H1220V191H1214zM1220 207H1226V211H1220zM1226 219H1232V223H1226zM1232 223H1238V227H1232z"/>
<path fill="#4850f3" d="M1232 79H1238V83H1232zM1243 83H1249V87H1243zM1249 95H1255V99H1249zM1214 119H1220V123H1214zM1255 119H1261V123H1255zM1255 179H1261V183H1255zM1249 203H1255V207H1249zM1243 215H1249V219H1243z"/>
<path fill="#4854f5" d="M1238 79H1243V83H1238zM1220 99H1226V103H1220zM1214 123H1220V127H1214zM1255 123H1261V127H1255zM1255 175H1261V179H1255zM1214 183H1220V187H1214zM1220 203H1226V207H1220zM1226 215H1232V219H1226zM1238 219H1243V223H1238z"/>
<path fill="#4757f7" d="M1226 87H1232V91H1226zM1249 99H1255V103H1249zM1214 127H1220V131H1214zM1255 127H1261V131H1255zM1255 171H1261V175H1255zM1214 179H1220V183H1214zM1249 199H1255V203H1249zM1243 211H1249V215H1243zM1232 219H1238V223H1232z"/>
<path fill="#475af9" d="M1243 87H1249V91H1243zM1220 103H1226V107H1220zM1214 131H1220V135H1214zM1255 131H1261V135H1255zM1255 135H1261V139H1255zM1255 163H1261V167H1255zM1255 167H1261V171H1255zM1214 171H1220V175H1214zM1214 175H1220V179H1214z"/>
<path fill="#465dfb" d="M1232 83H1243V87H1232zM1249 103H1255V107H1249zM1214 135H1220V139H1214zM1255 139H1261V143H1255zM1255 143H1261V147H1255zM1255 147H1261V151H1255zM1255 151H1261V155H1255zM1255 155H1261V159H1255zM1255 159H1261V163H1255zM1214 167H1220V171H1214zM1249 195H1255V199H1249zM1220 199H1226V203H1220zM1226 211H1232V215H1226z"/>
<path fill="#4661fc" d="M1226 91H1232V95H1226zM1214 139H1220V143H1214zM1214 143H1220V147H1214zM1214 147H1220V151H1214zM1214 155H1220V159H1214zM1214 159H1220V163H1214zM1214 163H1220V167H1214zM1232 215H1243V219H1232z"/>
<path fill="#4464fd" d="M1243 91H1249V95H1243zM1220 107H1226V111H1220zM1214 151H1220V155H1214zM1249 191H1255V195H1249zM1220 195H1226V199H1220zM1243 207H1249V211H1243z"/>
<path fill="#4367fd" d="M1232 87H1238V91H1232zM1249 107H1255V111H1249zM1226 207H1232V211H1226z"/>
<path fill="#416bfe" d="M1238 87H1243V91H1238zM1226 95H1232V99H1226zM1220 111H1226V115H1220zM1249 187H1255V191H1249zM1220 191H1226V195H1220zM1238 211H1243V215H1238z"/>
<path fill="#3f6eff" d="M1249 111H1255V115H1249zM1243 203H1249V207H1243zM1232 211H1238V215H1232z"/>
<path fill="#3c72ff" d="M1243 95H1249V99H1243zM1220 115H1226V119H1220z"/>
<path fill="#3876fe" d="M1249 183H1255V187H1249zM1220 187H1226V191H1220zM1226 203H1232V207H1226z"/>
<path fill="#3579fd" d="M1232 91H1243V95H1232zM1226 99H1232V103H1226zM1249 115H1255V119H1249z"/>
<path fill="#317dfc" d="M1220 119H1226V123H1220zM1249 179H1255V183H1249zM1220 183H1226V187H1220zM1243 199H1249V203H1243zM1238 207H1243V211H1238z"/>
<path fill="#3080fa" d="M1243 99H1249V103H1243zM1249 119H1255V123H1249zM1232 207H1238V211H1232z"/>
<path fill="#2e83f9" d="M1220 123H1226V127H1220zM1249 175H1255V179H1249zM1226 199H1232V203H1226z"/>
<path fill="#2e86f7" d="M1226 103H1232V107H1226zM1249 123H1255V127H1249zM1220 179H1226V183H1220z"/>
<path fill="#2d8af5" d="M1232 95H1238V99H1232zM1243 195H1249V199H1243z"/>
<path fill="#2d8df2" d="M1238 95H1243V99H1238zM1243 103H1249V107H1243zM1220 127H1226V131H1220zM1249 171H1255V175H1249zM1220 175H1226V179H1220zM1238 203H1243V207H1238z"/>
<path fill="#2c90f0" d="M1249 127H1255V131H1249zM1226 195H1232V199H1226zM1232 203H1238V207H1232z"/>
<path fill="#2a93ee" d="M1220 131H1226V135H1220zM1249 131H1255V135H1249zM1249 167H1255V171H1249zM1220 171H1226V175H1220z"/>
<path fill="#2896ec" d="M1226 107H1232V111H1226zM1249 163H1255V167H1249zM1243 191H1249V195H1243z"/>
<path fill="#2698ea" d="M1232 99H1238V103H1232zM1220 135H1226V139H1220zM1249 135H1255V139H1249zM1220 167H1226V171H1220z"/>
<path fill="#259be8" d="M1238 99H1243V103H1238zM1243 107H1249V111H1243zM1220 139H1226V143H1220zM1249 139H1255V143H1249zM1249 159H1255V163H1249zM1220 163H1226V167H1220zM1238 199H1243V203H1238z"/>
<path fill="#249ee6" d="M1220 143H1226V147H1220zM1249 143H1255V147H1249zM1249 147H1255V151H1249zM1249 151H1255V155H1249zM1249 155H1255V159H1249zM1220 159H1226V163H1220zM1226 191H1232V195H1226z"/>
<path fill="#23a1e5" d="M1226 111H1232V115H1226zM1220 147H1226V151H1220zM1220 151H1226V155H1220zM1220 155H1226V159H1220zM1232 199H1238V203H1232z"/>
<path fill="#21a3e3" d="M1243 187H1249V191H1243z"/>
<path fill="#1fa6e2" d="M1243 111H1249V115H1243z"/>
<path fill="#1da9e0" d="M1232 103H1238V107H1232z"/>
<path fill="#1babde" d="M1238 103H1243V107H1238zM1226 187H1232V191H1226z"/>
<path fill="#18addb" d="M1226 115H1232V119H1226zM1238 195H1243V199H1238z"/>
<path fill="#14b0d8" d="M1243 183H1249V187H1243zM1232 195H1238V199H1232z"/>
<path fill="#10b2d5" d="M1243 115H1249V119H1243z"/>
<path fill="#05b6ce" d="M1226 183H1232V187H1226z"/>
<path fill="#02b7cb" d="M1232 107H1238V111H1232zM1226 119H1232V123H1226z"/>
<path fill="#01b9c7" d="M1238 107H1243V111H1238zM1243 179H1249V183H1243zM1238 191H1243V195H1238z"/>
<path fill="#02bbc3" d="M1243 119H1249V123H1243zM1232 191H1238V195H1232z"/>
<path fill="#0ebdbb" d="M1226 179H1232V183H1226z"/>
<path fill="#16bfb7" d="M1226 123H1232V127H1226z"/>
<path fill="#1dc0b3" d="M1243 175H1249V179H1243z"/>
<path fill="#23c1af" d="M1232 111H1238V115H1232zM1243 123H1249V127H1243z"/>
<path fill="#28c3ab" d="M1238 111H1243V115H1238zM1226 175H1232V179H1226zM1238 187H1243V191H1238z"/>
<path fill="#30c5a2" d="M1226 127H1232V131H1226zM1243 171H1249V175H1243zM1232 187H1238V191H1232z"/>
<path fill="#36c898" d="M1243 127H1249V131H1243z"/>
<path fill="#3ac993" d="M1226 171H1232V175H1226z"/>
<path fill="#3fca8e" d="M1232 115H1238V119H1232zM1226 131H1232V135H1226zM1243 167H1249V171H1243z"/>
<path fill="#45cb88" d="M1238 183H1243V187H1238z"/>
<path fill="#4ccb83" d="M1238 115H1243V119H1238zM1243 131H1249V135H1243z"/>
<path fill="#53cc7d" d="M1226 167H1232V171H1226zM1232 183H1238V187H1232z"/>
<path fill="#5bcc77" d="M1226 135H1232V139H1226zM1243 163H1249V167H1243z"/>
<path fill="#62cd70" d="M1243 135H1249V139H1243z"/>
<path fill="#6acd6a" d="M1226 163H1232V167H1226z"/>
<path fill="#72cd63" d="M1226 139H1232V143H1226zM1243 139H1249V143H1243zM1243 159H1249V163H1243z"/>
<path fill="#7bcc5d" d="M1232 119H1238V123H1232zM1226 159H1232V163H1226z"/>
<path fill="#83cc57" d="M1238 119H1243V123H1238zM1226 143H1232V147H1226zM1243 143H1249V147H1243zM1243 155H1249V159H1243zM1238 179H1243V183H1238z"/>
<path fill="#8ccb50" d="M1226 147H1232V151H1226zM1243 147H1249V151H1243zM1243 151H1249V155H1243zM1226 155H1232V159H1226zM1232 179H1238V183H1232z"/>
<path fill="#94ca4a" d="M1226 151H1232V155H1226z"/>
<path fill="#b4c533" d="M1232 123H1238V127H1232z"/>
<path fill="#bcc42f" d="M1238 123H1243V127H1238zM1238 175H1243V179H1238z"/>
<path fill="#c3c22b" d="M1232 175H1238V179H1232z"/>
<path fill="#e3bb2c" d="M1232 127H1238V131H1232zM1238 171H1243V175H1238z"/>
<path fill="#e9bb30" d="M1238 127H1243V131H1238z"/>
<path fill="#eeba34" d="M1232 171H1238V175H1232z"/>
<path fill="#febf3c" d="M1232 131H1238V135H1232zM1238 167H1243V171H1238z"/>
<path fill="#fec239" d="M1238 131H1243V135H1238z"/>
<path fill="#fec537" d="M1232 167H1238V171H1232z"/>
<path fill="#fcd030" d="M1232 135H1238V139H1232z"/>
<path fill="#fbd42e" d="M1238 135H1243V139H1238zM1238 163H1243V167H1238z"/>
<path fill="#f9d72c" d="M1232 163H1238V167H1232z"/>
<path fill="#f6df29" d="M1232 139H1238V143H1232z"/>
<path fill="#f5e227" d="M1238 139H1243V143H1238zM1232 159H1243V163H1232z"/>
<path fill="#f5ea24" d="M1232 143H1238V147H1232zM1238 155H1243V159H1238z"/>
<path fill="#f5ed22" d="M1238 143H1243V147H1238zM1232 155H1238V159H1232z"/>
<path fill="#f6f11f" d="M1232 147H1243V151H1232zM1232 151H1243V155H1232z"/>
</g>
<path d="M930.5 38.9V295.7M989.5 38.9V295.7M1048.6 38.9V295.7M1107.6 38.9V295.7M1166.7 38.9V295.7M1225.8 38.9V295.7M1284.8 38.9V295.7M1343.9 38.9V295.7M871.4 231.5H1373.4M871.4 167.3H1373.4M871.4 103.1H1373.4" fill="none" stroke="#f2f0fa" stroke-opacity=".88" stroke-width="1.25" stroke-dasharray="2.3 4.7" stroke-dashoffset="3.75"/>
<path d="M930.5 295.7v-5M930.5 38.9v5M989.5 295.7v-5M989.5 38.9v5M1048.6 295.7v-5M1048.6 38.9v5M1107.6 295.7v-5M1107.6 38.9v5M1166.7 295.7v-5M1166.7 38.9v5M1225.8 295.7v-5M1225.8 38.9v5M1284.8 295.7v-5M1284.8 38.9v5M1343.9 295.7v-5M1343.9 38.9v5M871.4 231.5h5M1373.4 231.5h-5M871.4 167.3h5M1373.4 167.3h-5M871.4 103.1h5M1373.4 103.1h-5" fill="none" stroke="#262626" stroke-width="1.1"/>
<rect x="871.4" y="38.9" width="502" height="256.8" fill="none" stroke="#262626" stroke-opacity=".8" stroke-width="1.1"/>
<g font-size="27.5" fill="#262626">
<text x="871.4" y="334.7" text-anchor="middle">-120</text>
<text x="930.5" y="334.7" text-anchor="middle">-100</text>
<text x="989.5" y="334.7" text-anchor="middle">-80</text>
<text x="1048.6" y="334.7" text-anchor="middle">-60</text>
<text x="1107.6" y="334.7" text-anchor="middle">-40</text>
<text x="1166.7" y="334.7" text-anchor="middle">-20</text>
<text x="1225.8" y="334.7" text-anchor="middle">0</text>
<text x="1284.8" y="334.7" text-anchor="middle">20</text>
<text x="1343.9" y="334.7" text-anchor="middle">40</text>
<text x="859.3" y="306.6" text-anchor="end">-40</text>
<text x="859.3" y="242.4" text-anchor="end">-20</text>
<text x="859.3" y="178.2" text-anchor="end">0</text>
<text x="859.3" y="114" text-anchor="end">20</text>
<text x="859.3" y="49.8" text-anchor="end">40</text>
</g>
<text x="1121.9" y="374" text-anchor="middle" font-size="30" fill="#262626">X (mm)</text>
<text transform="translate(816.9 169.1) rotate(-90)" text-anchor="middle" font-size="30" fill="#262626">Y (mm)</text>
<path d="M921.5 39.6V295" stroke="#fff" stroke-width="5.3" fill="none"/>
<path d="M929.3 167.5H1091.8" stroke="#fff" stroke-width="3.6" fill="none"/>
<path d="M1107.6 167.5l-24.8 -10.4l4.3 10.4l-4.3 10.4z" fill="#fff"/>
<text transform="translate(1054 152.8) scale(.92 1)" fill="#fff" font-weight="bold" font-size="65.8">C</text>
<text fill="#fff" font-weight="bold" font-size="31.6" text-anchor="end" transform="translate(1054 121.4) scale(.97 1)">11</text>
<text x="942.3" y="280.6" fill="#fff" font-size="41.4">PMMA</text>
<rect x="1392.8" y="38.9" width="37.3" height="256.8" fill="url(#pg)" stroke="#3c3c3c" stroke-width="1.1"/>
<g font-size="24.75" fill="#262626">
<text x="1439.4" y="250.7">0.5</text>
<text x="1439.4" y="196.5">1</text>
<text x="1439.4" y="142.3">1.5</text>
<text x="1439.4" y="88.1">2</text>
</g>
<path d="M1430.1 241.5h-4.5M1430.1 187.3h-4.5M1430.1 133.1h-4.5M1430.1 78.9h-4.5" fill="none" stroke="#262626" stroke-width="1.3"/>
<text fill="#262626" font-size="24"><tspan x="1431.4" y="28.5" font-size="28.5">×</tspan><tspan x="1450.5" y="24.8" textLength="24.6" lengthAdjust="spacingAndGlyphs">10</tspan><tspan x="1477.1" y="14.3" font-size="21">7</tspan></text>
<text transform="translate(1498.7 167.8) rotate(-90)" text-anchor="middle" font-size="24.6" fill="#262626">Coincidence events</text>
</g>
<g id="p2">
<g shape-rendering="crispEdges">
<rect x="110.4" y="418.4" width="502" height="256.8" fill="#3e26a8"/>
<path fill="#3f29af" d="M252 418.4H264V422H252zM252 422H264V426H252zM252 426H264V430H252zM252 430H264V434H252zM252 434H264V438H252zM252 438H258V442H252zM252 442H258V446H252zM252 446H258V450H252zM252 450H258V454H252zM252 454H258V458H252zM252 458H258V462H252zM252 462H258V466H252zM252 466H258V471H252zM252 471H258V475H252zM252 475H258V479H252zM246 479H258V483H246zM246 483H258V487H246zM246 487H252V491H246zM246 491H252V495H246zM246 495H252V499H246zM246 499H252V503H246zM246 503H252V507H246zM246 507H252V511H246zM246 511H252V515H246zM246 515H252V519H246zM246 519H252V523H246zM246 523H252V527H246zM246 527H252V531H246zM246 531H252V535H246zM246 535H252V539H246zM246 539H252V543H246zM240 543H252V547H240zM240 547H252V551H240zM240 551H252V555H240zM240 555H252V559H240zM240 559H252V563H240zM240 563H252V567H240zM240 567H252V571H240zM240 571H252V575H240zM246 575H252V579H246zM246 579H252V583H246zM246 583H252V587H246zM246 587H252V591H246zM246 591H252V595H246zM246 595H252V599H246zM246 599H252V603H246zM246 603H252V607H246zM246 607H252V611H246zM246 611H252V615H246zM246 615H252V619H246zM246 619H252V623H246zM246 623H252V627H246zM246 627H258V631H246zM246 631H258V635H246zM246 635H258V639H246zM252 639H258V643H252zM252 643H258V647H252zM252 647H258V651H252zM252 651H258V655H252zM252 655H258V659H252zM252 659H258V663H252zM252 663H258V667H252zM252 667H258V671H252zM252 671H258V675.2H252z"/>
<path fill="#402bb6" d="M264 418.4H270V422H264zM264 422H270V426H264zM264 426H270V430H264zM264 430H270V434H264zM264 434H270V438H264zM258 438H264V442H258zM258 442H264V446H258zM258 446H264V450H258zM258 450H264V454H258zM258 454H264V458H258zM258 458H264V462H258zM258 462H264V466H258zM258 466H264V471H258zM252 487H258V491H252zM252 491H258V495H252zM252 495H258V499H252zM252 499H258V503H252zM252 503H258V507H252zM252 507H258V511H252zM252 603H258V607H252zM252 607H258V611H252zM252 611H258V615H252zM252 615H258V619H252zM252 619H258V623H252zM252 623H258V627H252zM258 643H264V647H258zM258 647H264V651H258zM258 651H264V655H258zM258 655H264V659H258zM258 659H264V663H258zM258 663H264V667H258zM258 667H264V671H258zM258 671H264V675.2H258z"/>
<path fill="#412dbd" d="M270 418.4H323V422H270zM270 422H317V426H270zM270 426H311V430H270zM270 430H299V434H270zM270 434H293V438H270zM264 438H282V442H264zM264 442H276V446H264zM264 446H276V450H264zM264 450H270V454H264zM264 454H270V458H264zM264 458H270V462H264zM258 471H264V475H258zM258 475H264V479H258zM258 479H264V483H258zM258 483H264V487H258zM252 511H258V515H252zM252 515H258V519H252zM252 519H258V523H252zM252 523H258V527H252zM252 527H258V531H252zM252 531H258V535H252zM252 579H258V583H252zM252 583H258V587H252zM252 587H258V591H252zM252 591H258V595H252zM252 595H258V599H252zM252 599H258V603H252zM258 631H264V635H258zM258 635H264V639H258zM258 639H264V643H258zM264 651H270V655H264zM264 655H270V659H264zM264 659H270V663H264zM264 663H270V667H264zM264 667H276V671H264zM264 671H282V675.2H264z"/>
<path fill="#4230c3" d="M323 418.4H394V422H323zM606 418.4H612.4V422H606zM317 422H382V426H317zM311 426H376V430H311zM299 430H364V434H299zM293 434H353V438H293zM282 438H347V442H282zM276 442H335V446H276zM276 446H323V450H276zM270 450H311V454H270zM270 454H293V458H270zM270 458H276V462H270zM264 462H270V466H264zM264 466H270V471H264zM264 471H270V475H264zM258 487H264V491H258zM258 491H264V495H258zM258 495H264V499H258zM252 535H258V539H252zM252 539H258V543H252zM252 543H258V547H252zM252 547H258V551H252zM252 551H258V555H252zM252 555H258V559H252zM252 559H258V563H252zM252 563H258V567H252zM252 567H258V571H252zM252 571H258V575H252zM252 575H258V579H252zM258 619H264V623H258zM258 623H264V627H258zM258 627H264V631H258zM264 643H270V647H264zM264 647H270V651H264zM270 651H276V655H270zM270 655H282V659H270zM270 659H299V663H270zM270 663H317V667H270zM276 667H329V671H276zM282 671H341V675.2H282z"/>
<path fill="#4332ca" d="M394 418.4H447V422H394zM595 418.4H606V422H595zM382 422H435V426H382zM601 422H612.4V426H601zM376 426H423V430H376zM601 426H612.4V430H601zM364 430H412V434H364zM606 430H612.4V434H606zM353 434H400V438H353zM347 438H388V442H347zM335 442H376V446H335zM323 446H364V450H323zM311 450H353V454H311zM293 454H335V458H293zM276 458H323V462H276zM270 462H305V466H270zM270 466H288V471H270zM270 471H276V475H270zM264 475H270V479H264zM264 479H270V483H264zM258 499H264V503H258zM258 503H264V507H258zM258 611H264V615H258zM258 615H264V619H258zM264 631H270V635H264zM264 635H270V639H264zM264 639H270V643H264zM270 643H276V647H270zM270 647H293V651H270zM276 651H311V655H276zM282 655H329V659H282zM299 659H341V663H299zM317 663H353V667H317zM329 667H370V671H329zM341 671H382V675.2H341z"/>
<path fill="#4434d0" d="M447 418.4H477V422H447zM589 418.4H595V422H589zM435 422H471V426H435zM589 422H601V426H589zM423 426H459V430H423zM595 426H601V430H595zM412 430H447V434H412zM595 430H606V434H595zM400 434H435V438H400zM601 434H612.4V438H601zM388 438H423V442H388zM606 438H612.4V442H606zM376 442H412V446H376zM364 446H394V450H364zM353 450H382V454H353zM335 454H370V458H335zM323 458H353V462H323zM305 462H341V466H305zM288 466H323V471H288zM276 471H305V475H276zM270 475H282V479H270zM270 479H276V483H270zM264 483H270V487H264zM264 487H270V491H264zM258 507H264V511H258zM258 511H264V515H258zM258 603H264V607H258zM258 607H264V611H258zM264 627H270V631H264zM270 635H276V639H270zM270 639H288V643H270zM276 643H311V647H276zM293 647H329V651H293zM311 651H347V655H311zM329 655H358V659H329zM341 659H376V663H341zM353 663H388V667H353zM370 667H400V671H370zM382 671H412V675.2H382zM606 671H612.4V675.2H606z"/>
<path fill="#4537d6" d="M477 418.4H506V422H477zM583 418.4H589V422H583zM471 422H494V426H471zM583 422H589V426H583zM459 426H482V430H459zM589 426H595V430H589zM447 430H471V434H447zM589 430H595V434H589zM435 434H459V438H435zM595 434H601V438H595zM423 438H447V442H423zM595 438H606V442H595zM412 442H435V446H412zM601 442H612.4V446H601zM394 446H423V450H394zM606 446H612.4V450H606zM382 450H412V454H382zM370 454H394V458H370zM353 458H382V462H353zM341 462H364V466H341zM323 466H347V471H323zM305 471H335V475H305zM282 475H317V479H282zM276 479H293V483H276zM270 483H276V487H270zM264 491H270V495H264zM258 515H264V519H258zM258 519H264V523H258zM258 595H264V599H258zM258 599H264V603H258zM264 619H270V623H264zM264 623H270V627H264zM270 631H282V635H270zM276 635H299V639H276zM288 639H323V643H288zM311 643H341V647H311zM329 647H353V651H329zM347 651H370V655H347zM358 655H388V659H358zM376 659H400V663H376zM606 659H612.4V663H606zM388 663H418V667H388zM606 663H612.4V667H606zM400 667H429V671H400zM601 667H612.4V671H601zM412 671H441V675.2H412zM595 671H606V675.2H595z"/>
<path fill="#463adb" d="M506 418.4H530V422H506zM571 418.4H583V422H571zM494 422H518V426H494zM577 422H583V426H577zM482 426H506V430H482zM583 426H589V430H583zM471 430H494V434H471zM459 434H482V438H459zM589 434H595V438H589zM447 438H471V442H447zM435 442H459V446H435zM595 442H601V446H595zM423 446H447V450H423zM601 446H606V450H601zM412 450H435V454H412zM601 450H612.4V454H601zM394 454H418V458H394zM606 454H612.4V458H606zM382 458H406V462H382zM364 462H388V466H364zM347 466H370V471H347zM335 471H353V475H335zM317 475H341V479H317zM293 479H323V483H293zM276 483H299V487H276zM270 487H276V491H270zM264 495H270V499H264zM264 499H270V503H264zM258 523H264V527H258zM258 527H264V531H258zM258 583H264V587H258zM258 587H264V591H258zM258 591H264V595H258zM264 615H270V619H264zM270 623H276V627H270zM270 627H282V631H270zM282 631H305V635H282zM299 635H329V639H299zM323 639H347V643H323zM341 643H364V647H341zM353 647H376V651H353zM370 651H394V655H370zM388 655H412V659H388zM606 655H612.4V659H606zM400 659H423V663H400zM601 659H606V663H601zM418 663H435V667H418zM595 663H606V667H595zM429 667H453V671H429zM595 667H601V671H595zM441 671H459V675.2H441z"/>
<path fill="#463de0" d="M530 418.4H571V422H530zM518 422H542V426H518zM571 422H577V426H571zM506 426H524V430H506zM577 426H583V430H577zM494 430H512V434H494zM583 430H589V434H583zM482 434H500V438H482zM583 434H589V438H583zM471 438H488V442H471zM589 438H595V442H589zM459 442H477V446H459zM589 442H595V446H589zM447 446H465V450H447zM595 446H601V450H595zM435 450H453V454H435zM595 450H601V454H595zM418 454H441V458H418zM601 454H606V458H601zM406 458H423V462H406zM606 458H612.4V462H606zM388 462H412V466H388zM606 462H612.4V466H606zM370 466H394V471H370zM353 471H376V475H353zM341 475H358V479H341zM323 479H341V483H323zM299 483H323V487H299zM276 487H299V491H276zM270 491H282V495H270zM264 503H270V507H264zM258 531H264V535H258zM258 535H264V539H258zM258 539H264V543H258zM258 575H264V579H258zM258 579H264V583H258zM264 611H270V615H264zM270 619H276V623H270zM276 623H288V627H276zM282 627H311V631H282zM305 631H329V635H305zM329 635H347V639H329zM347 639H364V643H347zM364 643H382V647H364zM376 647H400V651H376zM606 647H612.4V651H606zM394 651H418V655H394zM601 651H612.4V655H601zM412 655H429V659H412zM601 655H606V659H601zM423 659H441V663H423zM595 659H601V663H595zM435 663H459V667H435zM453 667H465V671H453zM589 667H595V671H589zM459 671H477V675.2H459zM589 671H595V675.2H589z"/>
<path fill="#4740e4" d="M542 422H571V426H542zM524 426H547V430H524zM565 426H577V430H565zM512 430H536V434H512zM577 430H583V434H577zM500 434H518V438H500zM488 438H506V442H488zM583 438H589V442H583zM477 442H494V446H477zM465 446H482V450H465zM589 446H595V450H589zM453 450H471V454H453zM441 454H459V458H441zM595 454H601V458H595zM423 458H447V462H423zM601 458H606V462H601zM412 462H429V466H412zM601 462H606V466H601zM394 466H412V471H394zM606 466H612.4V471H606zM376 471H394V475H376zM606 471H612.4V475H606zM358 475H376V479H358zM341 479H358V483H341zM323 483H341V487H323zM299 487H323V491H299zM282 491H305V495H282zM270 495H282V499H270zM264 507H270V511H264zM258 543H264V547H258zM258 547H264V551H258zM258 551H264V555H258zM258 555H264V559H258zM258 559H264V563H258zM258 563H264V567H258zM258 567H264V571H258zM258 571H264V575H258zM264 607H270V611H264zM270 615H276V619H270zM276 619H288V623H276zM288 623H311V627H288zM311 627H329V631H311zM329 631H347V635H329zM347 635H364V639H347zM364 639H382V643H364zM606 639H612.4V643H606zM382 643H400V647H382zM601 643H612.4V647H601zM400 647H418V651H400zM601 647H606V651H601zM418 651H435V655H418zM595 651H601V655H595zM429 655H447V659H429zM595 655H601V659H595zM441 659H459V663H441zM459 663H471V667H459zM589 663H595V667H589zM465 667H482V671H465zM477 671H488V675.2H477zM583 671H589V675.2H583z"/>
<path fill="#4743e7" d="M547 426H565V430H547zM536 430H553V434H536zM565 430H577V434H565zM518 434H536V438H518zM577 434H583V438H577zM506 438H524V442H506zM494 442H512V446H494zM583 442H589V446H583zM482 446H500V450H482zM471 450H488V454H471zM589 450H595V454H589zM459 454H477V458H459zM447 458H459V462H447zM595 458H601V462H595zM429 462H447V466H429zM412 466H429V471H412zM601 466H606V471H601zM394 471H412V475H394zM376 475H394V479H376zM606 475H612.4V479H606zM358 479H376V483H358zM341 483H358V487H341zM323 487H341V491H323zM305 491H323V495H305zM282 495H299V499H282zM270 499H282V503H270zM264 511H270V515H264zM264 599H270V603H264zM264 603H270V607H264zM270 611H276V615H270zM276 615H288V619H276zM288 619H311V623H288zM311 623H329V627H311zM329 627H347V631H329zM347 631H364V635H347zM606 631H612.4V635H606zM364 635H388V639H364zM606 635H612.4V639H606zM382 639H406V643H382zM601 639H606V643H601zM400 643H423V647H400zM418 647H435V651H418zM595 647H601V651H595zM435 651H453V655H435zM447 655H465V659H447zM589 655H595V659H589zM459 659H477V663H459zM589 659H595V663H589zM471 663H482V667H471zM482 667H494V671H482zM583 667H589V671H583zM488 671H500V675.2H488z"/>
<path fill="#4747eb" d="M553 430H565V434H553zM536 434H553V438H536zM565 434H577V438H565zM524 438H536V442H524zM577 438H583V442H577zM512 442H524V446H512zM500 446H512V450H500zM583 446H589V450H583zM488 450H500V454H488zM477 454H488V458H477zM589 454H595V458H589zM459 458H477V462H459zM447 462H465V466H447zM595 462H601V466H595zM429 466H447V471H429zM412 471H429V475H412zM601 471H606V475H601zM394 475H412V479H394zM376 479H394V483H376zM606 479H612.4V483H606zM358 483H376V487H358zM341 487H358V491H341zM323 491H341V495H323zM299 495H323V499H299zM282 499H299V503H282zM270 503H276V507H270zM264 515H270V519H264zM264 595H270V599H264zM270 607H276V611H270zM276 611H282V615H276zM288 615H311V619H288zM311 619H329V623H311zM329 623H347V627H329zM347 627H364V631H347zM606 627H612.4V631H606zM364 631H382V635H364zM601 631H606V635H601zM388 635H406V639H388zM601 635H606V639H601zM406 639H423V643H406zM595 639H601V643H595zM423 643H435V647H423zM595 643H601V647H595zM435 647H453V651H435zM453 651H465V655H453zM589 651H595V655H589zM465 655H477V659H465zM477 659H488V663H477zM482 663H494V667H482zM583 663H589V667H583zM494 667H500V671H494zM500 671H506V675.2H500zM577 671H583V675.2H577z"/>
<path fill="#484aee" d="M553 434H565V438H553zM536 438H553V442H536zM571 438H577V442H571zM524 442H542V446H524zM577 442H583V446H577zM512 446H524V450H512zM500 450H512V454H500zM583 450H589V454H583zM488 454H500V458H488zM477 458H488V462H477zM589 458H595V462H589zM465 462H477V466H465zM447 466H465V471H447zM595 466H601V471H595zM429 471H447V475H429zM412 475H429V479H412zM601 475H606V479H601zM394 479H412V483H394zM601 479H606V483H601zM376 483H394V487H376zM606 483H612.4V487H606zM358 487H376V491H358zM606 487H612.4V491H606zM341 491H358V495H341zM323 495H335V499H323zM299 499H317V503H299zM276 503H293V507H276zM270 507H276V511H270zM264 519H270V523H264zM264 591H270V595H264zM270 603H276V607H270zM276 607H282V611H276zM282 611H305V615H282zM311 615H329V619H311zM329 619H347V623H329zM606 619H612.4V623H606zM347 623H364V627H347zM606 623H612.4V627H606zM364 627H382V631H364zM601 627H606V631H601zM382 631H400V635H382zM406 635H418V639H406zM595 635H601V639H595zM423 639H435V643H423zM435 643H453V647H435zM453 647H465V651H453zM589 647H595V651H589zM465 651H477V655H465zM477 655H488V659H477zM488 659H494V663H488zM583 659H589V663H583zM494 663H500V667H494zM500 667H506V671H500zM577 667H583V671H577zM506 671H512V675.2H506z"/>
<path fill="#484df0" d="M553 438H571V442H553zM542 442H547V446H542zM571 442H577V446H571zM524 446H536V450H524zM577 446H583V450H577zM512 450H524V454H512zM500 454H512V458H500zM488 458H500V462H488zM477 462H488V466H477zM589 462H595V466H589zM465 466H477V471H465zM447 471H465V475H447zM595 471H601V475H595zM429 475H447V479H429zM412 479H429V483H412zM394 483H412V487H394zM601 483H606V487H601zM376 487H394V491H376zM358 491H370V495H358zM606 491H612.4V495H606zM335 495H353V499H335zM317 499H335V503H317zM293 503H317V507H293zM276 507H293V511H276zM270 511H276V515H270zM264 523H270V527H264zM264 527H270V531H264zM264 587H270V591H264zM270 599H276V603H270zM276 603H282V607H276zM282 607H299V611H282zM305 611H323V615H305zM329 615H341V619H329zM606 615H612.4V619H606zM347 619H358V623H347zM364 623H382V627H364zM601 623H606V627H601zM382 627H400V631H382zM400 631H418V635H400zM595 631H601V635H595zM418 635H435V639H418zM435 639H453V643H435zM453 643H465V647H453zM589 643H595V647H589zM465 647H477V651H465zM477 651H488V655H477zM488 655H494V659H488zM583 655H589V659H583zM494 659H500V663H494zM500 663H506V667H500zM577 663H583V667H577zM506 667H512V671H506zM512 671H518V675.2H512zM571 671H577V675.2H571z"/>
<path fill="#4850f3" d="M547 442H571V446H547zM536 446H547V450H536zM524 450H536V454H524zM577 450H583V454H577zM512 454H524V458H512zM583 454H589V458H583zM500 458H512V462H500zM488 462H500V466H488zM477 466H488V471H477zM465 471H477V475H465zM447 475H465V479H447zM595 475H601V479H595zM429 479H447V483H429zM412 483H429V487H412zM394 487H406V491H394zM601 487H606V491H601zM370 491H388V495H370zM353 495H370V499H353zM606 495H612.4V499H606zM335 499H347V503H335zM606 499H612.4V503H606zM317 503H329V507H317zM293 507H311V511H293zM276 511H288V515H276zM270 515H276V519H270zM264 531H270V535H264zM264 579H270V583H264zM264 583H270V587H264zM270 595H276V599H270zM282 603H299V607H282zM299 607H317V611H299zM606 607H612.4V611H606zM323 611H335V615H323zM606 611H612.4V615H606zM341 615H358V619H341zM601 615H606V619H601zM358 619H376V623H358zM601 619H606V623H601zM382 623H394V627H382zM400 627H418V631H400zM595 627H601V631H595zM418 631H435V635H418zM435 635H453V639H435zM453 639H465V643H453zM589 639H595V643H589zM465 643H477V647H465zM477 647H488V651H477zM488 651H494V655H488zM583 651H589V655H583zM494 655H500V659H494zM500 659H506V663H500zM577 659H583V663H577zM506 663H512V667H506zM571 667H577V671H571z"/>
<path fill="#4854f5" d="M547 446H559V450H547zM565 446H577V450H565zM536 450H547V454H536zM524 454H536V458H524zM512 458H524V462H512zM583 458H589V462H583zM500 462H512V466H500zM488 466H500V471H488zM589 466H595V471H589zM477 471H488V475H477zM465 475H477V479H465zM447 479H459V483H447zM595 479H601V483H595zM429 483H441V487H429zM406 487H423V491H406zM388 491H406V495H388zM601 491H606V495H601zM370 495H382V499H370zM347 499H364V503H347zM329 503H347V507H329zM606 503H612.4V507H606zM311 507H323V511H311zM288 511H305V515H288zM276 515H282V519H276zM270 519H276V523H270zM264 535H270V539H264zM264 539H270V543H264zM264 575H270V579H264zM276 599H293V603H276zM606 599H612.4V603H606zM299 603H311V607H299zM606 603H612.4V607H606zM317 607H335V611H317zM335 611H353V615H335zM601 611H606V615H601zM358 615H370V619H358zM376 619H394V623H376zM394 623H412V627H394zM595 623H601V627H595zM418 627H429V631H418zM435 631H447V635H435zM453 635H465V639H453zM589 635H595V639H589zM465 639H477V643H465zM477 643H488V647H477zM488 647H494V651H488zM583 647H589V651H583zM494 651H500V655H494zM500 655H506V659H500zM506 659H512V663H506zM512 667H518V671H512zM518 671H524V675.2H518zM565 671H571V675.2H565z"/>
<path fill="#4757f7" d="M559 446H565V450H559zM547 450H553V454H547zM571 450H577V454H571zM536 454H542V458H536zM577 454H583V458H577zM524 458H530V462H524zM512 462H524V466H512zM583 462H589V466H583zM500 466H512V471H500zM488 471H500V475H488zM589 471H595V475H589zM477 475H488V479H477zM459 479H471V483H459zM441 483H459V487H441zM595 483H601V487H595zM423 487H441V491H423zM406 491H418V495H406zM382 495H400V499H382zM601 495H606V499H601zM364 499H376V503H364zM347 503H358V507H347zM323 507H341V511H323zM606 507H612.4V511H606zM305 511H323V515H305zM606 511H612.4V515H606zM282 515H299V519H282zM276 519H282V523H276zM270 523H276V527H270zM264 543H270V547H264zM264 547H270V551H264zM264 551H270V555H264zM264 559H270V563H264zM264 563H270V567H264zM264 567H270V571H264zM264 571H270V575H264zM270 591H276V595H270zM276 595H288V599H276zM606 595H612.4V599H606zM293 599H311V603H293zM311 603H329V607H311zM601 603H606V607H601zM335 607H347V611H335zM601 607H606V611H601zM353 611H364V615H353zM370 615H388V619H370zM394 619H406V623H394zM595 619H601V623H595zM412 623H429V627H412zM429 627H447V631H429zM447 631H459V635H447zM589 631H595V635H589zM465 635H477V639H465zM477 639H482V643H477zM488 643H494V647H488zM583 643H589V647H583zM494 647H500V651H494zM500 651H506V655H500zM577 655H583V659H577zM512 663H518V667H512zM571 663H577V667H571zM518 667H524V671H518zM565 667H571V671H565z"/>
<path fill="#475af9" d="M553 450H571V454H553zM542 454H547V458H542zM530 458H542V462H530zM524 462H530V466H524zM512 466H518V471H512zM500 471H506V475H500zM488 475H494V479H488zM589 475H595V479H589zM471 479H482V483H471zM459 483H471V487H459zM441 487H453V491H441zM595 487H601V491H595zM418 491H435V495H418zM400 495H418V499H400zM376 499H394V503H376zM601 499H606V503H601zM358 503H370V507H358zM601 503H606V507H601zM341 507H353V511H341zM323 511H335V515H323zM299 515H317V519H299zM606 515H612.4V519H606zM282 519H299V523H282zM606 519H612.4V523H606zM276 523H282V527H276zM270 527H276V531H270zM264 555H270V559H264zM270 587H276V591H270zM606 587H612.4V591H606zM276 591H288V595H276zM606 591H612.4V595H606zM288 595H305V599H288zM311 599H323V603H311zM601 599H606V603H601zM329 603H341V607H329zM347 607H358V611H347zM364 611H382V615H364zM388 615H400V619H388zM595 615H601V619H595zM406 619H423V623H406zM429 623H441V627H429zM447 627H459V631H447zM589 627H595V631H589zM459 631H471V635H459zM477 635H482V639H477zM482 639H494V643H482zM583 639H589V643H583zM494 643H500V647H494zM500 647H506V651H500zM577 651H583V655H577zM506 655H512V659H506zM512 659H518V663H512zM571 659H577V663H571zM524 671H530V675.2H524zM559 671H565V675.2H559z"/>
<path fill="#465dfb" d="M547 454H553V458H547zM571 454H577V458H571zM542 458H547V462H542zM577 458H583V462H577zM530 462H536V466H530zM518 466H530V471H518zM583 466H589V471H583zM506 471H518V475H506zM494 475H506V479H494zM482 479H494V483H482zM471 483H482V487H471zM453 487H471V491H453zM435 491H453V495H435zM595 491H601V495H595zM418 495H429V499H418zM394 499H412V503H394zM370 503H388V507H370zM353 507H364V511H353zM601 507H606V511H601zM335 511H347V515H335zM317 515H329V519H317zM299 519H311V523H299zM282 523H293V527H282zM606 523H612.4V527H606zM276 527H282V531H276zM606 527H612.4V531H606zM270 531H276V535H270zM606 575H612.4V579H606zM270 579H276V583H270zM606 579H612.4V583H606zM270 583H276V587H270zM606 583H612.4V587H606zM276 587H282V591H276zM288 591H299V595H288zM305 595H323V599H305zM601 595H606V599H601zM323 599H335V603H323zM341 603H353V607H341zM358 607H376V611H358zM382 611H394V615H382zM595 611H601V615H595zM400 615H418V619H400zM423 619H441V623H423zM441 623H459V627H441zM589 623H595V627H589zM459 627H471V631H459zM471 631H482V635H471zM482 635H488V639H482zM494 639H500V643H494zM506 651H512V655H506zM518 663H524V667H518zM565 663H571V667H565zM524 667H530V671H524zM559 667H565V671H559zM530 671H536V675.2H530zM553 671H559V675.2H553z"/>
<path fill="#4661fc" d="M553 454H571V458H553zM536 462H542V466H536zM577 462H583V466H577zM530 466H536V471H530zM518 471H524V475H518zM506 475H512V479H506zM494 479H506V483H494zM589 479H595V483H589zM482 483H494V487H482zM471 487H477V491H471zM453 491H465V495H453zM429 495H447V499H429zM595 495H601V499H595zM412 499H429V503H412zM388 503H406V507H388zM364 507H382V511H364zM347 511H358V515H347zM601 511H606V515H601zM329 515H341V519H329zM311 519H329V523H311zM293 523H311V527H293zM282 527H293V531H282zM276 531H282V535H276zM606 531H612.4V535H606zM270 535H276V539H270zM606 535H612.4V539H606zM270 539H276V543H270zM606 539H612.4V543H606zM606 543H612.4V547H606zM606 547H612.4V551H606zM606 555H612.4V559H606zM606 559H612.4V563H606zM606 563H612.4V567H606zM606 567H612.4V571H606zM606 571H612.4V575H606zM270 575H276V579H270zM276 583H282V587H276zM282 587H299V591H282zM601 587H606V591H601zM299 591H317V595H299zM601 591H606V595H601zM323 595H335V599H323zM335 599H353V603H335zM353 603H370V607H353zM376 607H388V611H376zM595 607H601V611H595zM394 611H412V615H394zM418 615H435V619H418zM441 619H453V623H441zM459 623H471V627H459zM471 627H482V631H471zM482 631H488V635H482zM488 635H494V639H488zM583 635H589V639H583zM500 643H506V647H500zM506 647H512V651H506zM577 647H583V651H577zM512 655H518V659H512zM571 655H577V659H571zM536 671H553V675.2H536z"/>
<path fill="#4464fd" d="M547 458H553V462H547zM571 458H577V462H571zM542 462H547V466H542zM524 471H530V475H524zM583 471H589V475H583zM512 475H524V479H512zM506 479H512V483H506zM494 483H500V487H494zM589 483H595V487H589zM477 487H488V491H477zM465 491H477V495H465zM447 495H459V499H447zM429 499H441V503H429zM595 499H601V503H595zM406 503H423V507H406zM382 507H400V511H382zM358 511H376V515H358zM341 515H358V519H341zM601 515H606V519H601zM329 519H341V523H329zM601 519H606V523H601zM311 523H323V527H311zM293 527H305V531H293zM282 531H293V535H282zM276 535H282V539H276zM270 543H276V547H270zM606 551H612.4V555H606zM270 567H276V571H270zM270 571H276V575H270zM276 579H282V583H276zM601 579H606V583H601zM282 583H299V587H282zM601 583H606V587H601zM299 587H311V591H299zM317 591H329V595H317zM335 595H347V599H335zM353 599H364V603H353zM595 599H601V603H595zM370 603H382V607H370zM595 603H601V607H595zM388 607H406V611H388zM412 611H429V615H412zM435 615H447V619H435zM453 619H465V623H453zM589 619H595V623H589zM471 623H477V627H471zM482 627H488V631H482zM488 631H494V635H488zM583 631H589V635H583zM494 635H500V639H494zM500 639H506V643H500zM577 643H583V647H577zM512 651H518V655H512zM518 659H524V663H518zM565 659H571V663H565zM524 663H530V667H524zM559 663H565V667H559zM530 667H536V671H530zM553 667H559V671H553z"/>
<path fill="#4367fd" d="M553 458H571V462H553zM547 462H553V466H547zM536 466H542V471H536zM577 466H583V471H577zM530 471H536V475H530zM524 475H530V479H524zM583 475H589V479H583zM512 479H518V483H512zM500 483H506V487H500zM488 487H500V491H488zM589 487H595V491H589zM477 491H488V495H477zM459 495H471V499H459zM441 499H459V503H441zM423 503H441V507H423zM595 503H601V507H595zM400 507H418V511H400zM376 511H388V515H376zM358 515H370V519H358zM341 519H353V523H341zM323 523H335V527H323zM601 523H606V527H601zM305 527H323V531H305zM601 527H606V531H601zM293 531H305V535H293zM282 535H293V539H282zM276 539H282V543H276zM270 547H276V551H270zM270 551H276V555H270zM270 555H276V559H270zM270 559H276V563H270zM270 563H276V567H270zM601 571H606V575H601zM276 575H288V579H276zM601 575H606V579H601zM282 579H299V583H282zM299 583H311V587H299zM311 587H329V591H311zM329 591H341V595H329zM347 595H358V599H347zM595 595H601V599H595zM364 599H376V603H364zM382 603H400V607H382zM406 607H423V611H406zM429 611H447V615H429zM447 615H465V619H447zM589 615H595V619H589zM465 619H477V623H465zM477 623H488V627H477zM488 627H494V631H488zM494 631H500V635H494zM500 635H506V639H500zM506 643H512V647H506zM571 651H577V655H571zM518 655H524V659H518zM536 667H542V671H536zM547 667H553V671H547z"/>
<path fill="#416bfe" d="M571 462H577V466H571zM542 466H547V471H542zM536 471H542V475H536zM518 479H524V483H518zM506 483H518V487H506zM500 487H506V491H500zM488 491H494V495H488zM471 495H482V499H471zM459 499H471V503H459zM441 503H453V507H441zM418 507H435V511H418zM595 507H601V511H595zM388 511H412V515H388zM370 515H382V519H370zM353 519H364V523H353zM335 523H347V527H335zM323 527H335V531H323zM305 531H317V535H305zM601 531H606V535H601zM293 535H305V539H293zM601 535H606V539H601zM282 539H293V543H282zM601 539H606V543H601zM276 543H288V547H276zM601 543H606V547H601zM276 547H282V551H276zM601 547H606V551H601zM601 555H606V559H601zM601 559H606V563H601zM276 563H282V567H276zM601 563H606V567H601zM276 567H282V571H276zM601 567H606V571H601zM276 571H288V575H276zM288 575H299V579H288zM299 579H311V583H299zM311 583H323V587H311zM329 587H341V591H329zM341 591H353V595H341zM595 591H601V595H595zM358 595H370V599H358zM376 599H394V603H376zM400 603H418V607H400zM423 607H441V611H423zM447 611H459V615H447zM589 611H595V615H589zM465 615H471V619H465zM477 619H482V623H477zM488 623H494V627H488zM494 627H500V631H494zM583 627H589V631H583zM506 639H512V643H506zM577 639H583V643H577zM512 647H518V651H512zM565 655H571V659H565zM524 659H530V663H524zM530 663H536V667H530zM553 663H559V667H553zM542 667H547V671H542z"/>
<path fill="#3f6eff" d="M553 462H571V466H553zM577 471H583V475H577zM530 475H536V479H530zM524 479H530V483H524zM583 479H589V483H583zM518 483H524V487H518zM506 487H512V491H506zM494 491H506V495H494zM589 491H595V495H589zM482 495H494V499H482zM471 499H482V503H471zM453 503H465V507H453zM435 507H453V511H435zM412 511H429V515H412zM595 511H601V515H595zM382 515H400V519H382zM364 519H376V523H364zM347 523H358V527H347zM335 527H347V531H335zM317 531H329V535H317zM305 535H317V539H305zM293 539H311V543H293zM288 543H299V547H288zM282 547H293V551H282zM276 551H288V555H276zM601 551H606V555H601zM276 555H288V559H276zM276 559H288V563H276zM282 563H288V567H282zM282 567H293V571H282zM288 571H305V575H288zM299 575H311V579H299zM311 579H323V583H311zM323 583H335V587H323zM341 587H353V591H341zM595 587H601V591H595zM353 591H364V595H353zM370 595H388V599H370zM394 599H412V603H394zM418 603H435V607H418zM441 607H453V611H441zM589 607H595V611H589zM459 611H471V615H459zM471 615H482V619H471zM482 619H488V623H482zM583 623H589V627H583zM500 631H506V635H500zM506 635H512V639H506zM512 643H518V647H512zM571 647H577V651H571zM518 651H524V655H518zM559 659H565V663H559z"/>
<path fill="#3c72ff" d="M547 466H553V471H547zM571 466H577V471H571zM542 471H547V475H542zM536 475H542V479H536zM530 479H536V483H530zM512 487H518V491H512zM506 491H512V495H506zM494 495H500V499H494zM589 495H595V499H589zM482 499H488V503H482zM465 503H477V507H465zM453 507H465V511H453zM429 511H447V515H429zM400 515H423V519H400zM595 515H601V519H595zM376 519H394V523H376zM358 523H376V527H358zM347 527H358V531H347zM329 531H341V535H329zM317 535H329V539H317zM311 539H323V543H311zM299 543H311V547H299zM293 547H305V551H293zM288 551H299V555H288zM288 555H299V559H288zM288 559H299V563H288zM288 563H305V567H288zM293 567H311V571H293zM305 571H317V575H305zM311 575H323V579H311zM323 579H335V583H323zM335 583H347V587H335zM595 583H601V587H595zM353 587H364V591H353zM364 591H382V595H364zM388 595H406V599H388zM412 599H429V603H412zM435 603H453V607H435zM453 607H465V611H453zM471 611H477V615H471zM482 615H488V619H482zM488 619H494V623H488zM494 623H500V627H494zM500 627H506V631H500zM577 635H583V639H577zM565 651H571V655H565zM524 655H530V659H524zM530 659H536V663H530zM536 663H553V667H536z"/>
<path fill="#3876fe" d="M553 466H559V471H553zM565 466H571V471H565zM577 475H583V479H577zM524 483H530V487H524zM583 483H589V487H583zM518 487H524V491H518zM512 491H518V495H512zM500 495H506V499H500zM488 499H500V503H488zM477 503H488V507H477zM465 507H477V511H465zM447 511H459V515H447zM423 515H441V519H423zM394 519H418V523H394zM595 519H601V523H595zM376 523H394V527H376zM358 527H370V531H358zM341 531H353V535H341zM329 535H341V539H329zM323 539H335V543H323zM311 543H323V547H311zM305 547H317V551H305zM299 551H317V555H299zM299 555H311V559H299zM299 559H311V563H299zM305 563H317V567H305zM311 567H323V571H311zM317 571H329V575H317zM323 575H335V579H323zM595 575H601V579H595zM335 579H347V583H335zM595 579H601V583H595zM347 583H358V587H347zM364 587H376V591H364zM382 591H400V595H382zM406 595H429V599H406zM429 599H447V603H429zM453 603H465V607H453zM589 603H595V607H589zM465 607H477V611H465zM477 611H488V615H477zM488 615H494V619H488zM494 619H500V623H494zM583 619H589V623H583zM500 623H506V627H500zM506 631H512V635H506zM512 639H518V643H512zM571 643H577V647H571zM518 647H524V651H518zM559 655H565V659H559zM553 659H559V663H553z"/>
<path fill="#3579fd" d="M559 466H565V471H559zM547 471H553V475H547zM571 471H577V475H571zM542 475H547V479H542zM536 479H542V483H536zM530 483H536V487H530zM524 487H530V491H524zM518 491H524V495H518zM506 495H512V499H506zM500 499H506V503H500zM589 499H595V503H589zM488 503H494V507H488zM477 507H482V511H477zM459 511H471V515H459zM441 515H459V519H441zM418 519H441V523H418zM394 523H412V527H394zM595 523H601V527H595zM370 527H388V531H370zM595 527H601V531H595zM353 531H370V535H353zM341 535H353V539H341zM335 539H347V543H335zM323 543H335V547H323zM317 547H329V551H317zM317 551H329V555H317zM311 555H323V559H311zM311 559H323V563H311zM317 563H329V567H317zM323 567H335V571H323zM329 571H341V575H329zM595 571H601V575H595zM335 575H347V579H335zM347 579H358V583H347zM358 583H376V587H358zM376 587H400V591H376zM400 591H423V595H400zM429 595H447V599H429zM447 599H465V603H447zM589 599H595V603H589zM465 603H477V607H465zM477 607H482V611H477zM488 611H494V615H488zM494 615H500V619H494zM506 627H512V631H506zM577 631H583V635H577zM524 651H530V655H524zM536 659H542V663H536zM547 659H553V663H547z"/>
<path fill="#317dfc" d="M583 487H589V491H583zM512 495H518V499H512zM506 499H512V503H506zM494 503H506V507H494zM589 503H595V507H589zM482 507H494V511H482zM471 511H482V515H471zM459 515H471V519H459zM441 519H459V523H441zM412 523H435V527H412zM388 527H412V531H388zM370 531H388V535H370zM595 531H601V535H595zM353 535H370V539H353zM595 535H601V539H595zM347 539H358V543H347zM335 543H347V547H335zM329 547H341V551H329zM329 551H335V555H329zM323 555H335V559H323zM323 559H335V563H323zM329 563H341V567H329zM595 563H601V567H595zM335 567H347V571H335zM595 567H601V571H595zM341 571H353V575H341zM347 575H358V579H347zM358 579H376V583H358zM376 583H394V587H376zM400 587H418V591H400zM423 591H441V595H423zM447 595H459V599H447zM589 595H595V599H589zM465 599H471V603H465zM477 603H482V607H477zM482 607H494V611H482zM494 611H500V615H494zM583 615H589V619H583zM500 619H506V623H500zM512 635H518V639H512zM571 639H577V643H571zM518 643H524V647H518zM565 647H571V651H565zM530 655H536V659H530zM542 659H547V663H542z"/>
<path fill="#3080fa" d="M553 471H571V475H553zM547 475H553V479H547zM577 479H583V483H577zM536 483H542V487H536zM530 487H536V491H530zM524 491H530V495H524zM518 495H524V499H518zM512 499H518V503H512zM506 503H512V507H506zM494 507H500V511H494zM482 511H494V515H482zM471 515H482V519H471zM459 519H471V523H459zM435 523H453V527H435zM412 527H435V531H412zM388 531H412V535H388zM370 535H388V539H370zM358 539H370V543H358zM595 539H601V543H595zM347 543H358V547H347zM595 543H601V547H595zM341 547H353V551H341zM595 547H601V551H595zM335 551H347V555H335zM595 551H601V555H595zM335 555H347V559H335zM595 555H601V559H595zM335 559H347V563H335zM595 559H601V563H595zM341 563H353V567H341zM347 567H358V571H347zM353 571H364V575H353zM358 575H376V579H358zM376 579H394V583H376zM394 583H418V587H394zM418 587H441V591H418zM441 591H459V595H441zM459 595H471V599H459zM471 599H482V603H471zM482 603H488V607H482zM500 615H506V619H500zM506 623H512V627H506zM577 627H583V631H577zM512 631H518V635H512zM559 651H565V655H559zM553 655H559V659H553z"/>
<path fill="#2e83f9" d="M571 475H577V479H571zM542 479H547V483H542zM583 491H589V495H583zM500 507H506V511H500zM589 507H595V511H589zM494 511H500V515H494zM482 515H488V519H482zM471 519H482V523H471zM453 523H471V527H453zM435 527H453V531H435zM412 531H435V535H412zM388 535H412V539H388zM370 539H388V543H370zM358 543H376V547H358zM353 547H370V551H353zM347 551H364V555H347zM347 555H358V559H347zM347 559H358V563H347zM353 563H364V567H353zM358 567H370V571H358zM364 571H382V575H364zM376 575H400V579H376zM394 579H423V583H394zM418 583H441V587H418zM441 587H459V591H441zM459 591H471V595H459zM589 591H595V595H589zM471 595H482V599H471zM482 599H488V603H482zM488 603H494V607H488zM494 607H500V611H494zM500 611H506V615H500zM583 611H589V615H583zM506 619H512V623H506zM571 635H577V639H571zM518 639H524V643H518zM565 643H571V647H565zM524 647H530V651H524zM530 651H536V655H530zM536 655H542V659H536zM547 655H553V659H547z"/>
<path fill="#2e86f7" d="M553 475H559V479H553zM577 483H583V487H577zM530 491H536V495H530zM524 495H530V499H524zM518 499H524V503H518zM512 503H518V507H512zM506 507H512V511H506zM500 511H506V515H500zM589 511H595V515H589zM488 515H500V519H488zM482 519H488V523H482zM471 523H482V527H471zM453 527H471V531H453zM435 531H459V535H435zM412 535H441V539H412zM388 539H418V543H388zM376 543H400V547H376zM370 547H388V551H370zM364 551H376V555H364zM358 555H376V559H358zM358 559H376V563H358zM364 563H382V567H364zM370 567H388V571H370zM382 571H406V575H382zM400 575H429V579H400zM423 579H447V583H423zM441 583H459V587H441zM459 587H471V591H459zM589 587H595V591H589zM471 591H482V595H471zM482 595H488V599H482zM488 599H494V603H488zM494 603H500V607H494zM577 623H583V627H577zM512 627H518V631H512zM542 655H547V659H542z"/>
<path fill="#2d8af5" d="M559 475H571V479H559zM547 479H553V483H547zM542 483H547V487H542zM536 487H542V491H536zM583 495H589V499H583zM518 503H524V507H518zM512 507H518V511H512zM506 511H512V515H506zM500 515H506V519H500zM589 515H595V519H589zM488 519H494V523H488zM482 523H488V527H482zM471 527H482V531H471zM459 531H471V535H459zM441 535H459V539H441zM418 539H447V543H418zM400 543H429V547H400zM388 547H418V551H388zM376 551H406V555H376zM376 555H400V559H376zM376 559H400V563H376zM382 563H406V567H382zM388 567H423V571H388zM406 571H435V575H406zM429 575H453V579H429zM447 579H465V583H447zM459 583H471V587H459zM589 583H595V587H589zM471 587H482V591H471zM482 591H488V595H482zM488 595H494V599H488zM494 599H500V603H494zM500 607H506V611H500zM583 607H589V611H583zM506 615H512V619H506zM518 635H524V639H518zM524 643H530V647H524zM559 647H565V651H559zM553 651H559V655H553z"/>
<path fill="#2d8df2" d="M571 479H577V483H571zM530 495H536V499H530zM524 499H530V503H524zM506 515H512V519H506zM494 519H500V523H494zM488 523H494V527H488zM482 527H488V531H482zM471 531H482V535H471zM459 535H471V539H459zM447 539H465V543H447zM429 543H459V547H429zM418 547H447V551H418zM406 551H441V555H406zM400 555H435V559H400zM400 559H435V563H400zM406 563H441V567H406zM423 567H453V571H423zM435 571H459V575H435zM453 575H465V579H453zM465 579H477V583H465zM589 579H595V583H589zM471 583H482V587H471zM482 587H488V591H482zM488 591H494V595H488zM494 595H500V599H494zM500 603H506V607H500zM583 603H589V607H583zM506 611H512V615H506zM577 619H583V623H577zM512 623H518V627H512zM571 631H577V635H571zM565 639H571V643H565zM530 647H536V651H530zM536 651H542V655H536zM547 651H553V655H547z"/>
<path fill="#2c90f0" d="M553 479H559V483H553zM577 487H583V491H577zM536 491H542V495H536zM583 499H589V503H583zM518 507H524V511H518zM512 511H518V515H512zM500 519H506V523H500zM589 519H595V523H589zM494 523H500V527H494zM488 527H494V531H488zM482 531H488V535H482zM471 535H482V539H471zM465 539H477V543H465zM459 543H471V547H459zM447 547H465V551H447zM441 551H465V555H441zM435 555H459V559H435zM435 559H459V563H435zM441 563H465V567H441zM453 567H465V571H453zM459 571H471V575H459zM465 575H477V579H465zM589 575H595V579H589zM477 579H482V583H477zM482 583H488V587H482zM488 587H494V591H488zM494 591H500V595H494zM500 599H506V603H500zM506 607H512V611H506zM512 619H518V623H512zM518 631H524V635H518zM524 639H530V643H524zM542 651H547V655H542z"/>
<path fill="#2a93ee" d="M559 479H571V483H559zM547 483H553V487H547zM571 483H577V487H571zM542 487H547V491H542zM524 503H530V507H524zM512 515H518V519H512zM506 519H512V523H506zM500 523H506V527H500zM589 523H595V527H589zM494 527H500V531H494zM488 531H494V535H488zM482 535H494V539H482zM477 539H488V543H477zM471 543H482V547H471zM465 547H477V551H465zM465 551H477V555H465zM459 555H471V559H459zM459 559H477V563H459zM465 563H477V567H465zM465 567H477V571H465zM471 571H482V575H471zM589 571H595V575H589zM477 575H488V579H477zM482 579H488V583H482zM488 583H494V587H488zM494 587H500V591H494zM500 595H506V599H500zM583 599H589V603H583zM559 643H565V647H559zM553 647H559V651H553z"/>
<path fill="#2896ec" d="M577 491H583V495H577zM530 499H536V503H530zM583 503H589V507H583zM518 511H524V515H518zM512 519H518V523H512zM506 523H512V527H506zM500 527H506V531H500zM589 527H595V531H589zM494 531H500V535H494zM589 531H595V535H589zM494 535H500V539H494zM488 539H494V543H488zM482 543H488V547H482zM477 547H488V551H477zM477 551H482V555H477zM471 555H482V559H471zM477 559H482V563H477zM477 563H482V567H477zM477 567H488V571H477zM589 567H595V571H589zM482 571H488V575H482zM488 575H494V579H488zM488 579H494V583H488zM494 583H500V587H494zM500 591H506V595H500zM506 603H512V607H506zM512 615H518V619H512zM577 615H583V619H577zM518 627H524V631H518zM571 627H577V631H571zM565 635H571V639H565zM530 643H536V647H530zM536 647H542V651H536z"/>
<path fill="#2698ea" d="M536 495H542V499H536zM524 507H530V511H524zM518 515H524V519H518zM506 527H512V531H506zM500 531H506V535H500zM500 535H506V539H500zM589 535H595V539H589zM494 539H500V543H494zM589 539H595V543H589zM488 543H494V547H488zM488 547H494V551H488zM482 551H494V555H482zM482 555H488V559H482zM482 559H488V563H482zM589 559H595V563H589zM482 563H494V567H482zM589 563H595V567H589zM488 567H494V571H488zM488 571H494V575H488zM494 575H500V579H494zM494 579H500V583H494zM500 587H506V591H500zM583 595H589V599H583zM506 599H512V603H506zM512 611H518V615H512zM524 635H530V639H524zM542 647H553V651H542z"/>
<path fill="#259be8" d="M553 483H559V487H553zM565 483H571V487H565zM547 487H553V491H547zM542 491H547V495H542zM530 503H536V507H530zM583 507H589V511H583zM512 523H518V527H512zM506 531H512V535H506zM500 539H506V543H500zM494 543H500V547H494zM589 543H595V547H589zM494 547H500V551H494zM589 547H595V551H589zM494 551H500V555H494zM589 551H595V555H589zM488 555H494V559H488zM589 555H595V559H589zM488 559H494V563H488zM494 563H500V567H494zM494 567H500V571H494zM494 571H500V575H494zM500 579H506V583H500zM500 583H506V587H500zM506 595H512V599H506zM577 611H583V615H577zM518 623H524V627H518zM559 639H565V643H559z"/>
<path fill="#249ee6" d="M559 483H565V487H559zM571 487H577V491H571zM577 495H583V499H577zM524 511H530V515H524zM518 519H524V523H518zM512 527H518V531H512zM506 535H512V539H506zM500 543H506V547H500zM500 547H506V551H500zM494 555H500V559H494zM494 559H500V563H494zM500 571H506V575H500zM500 575H506V579H500zM506 591H512V595H506zM583 591H589V595H583zM512 607H518V611H512zM571 623H577V627H571zM524 631H530V635H524zM530 639H536V643H530zM536 643H542V647H536zM553 643H559V647H553z"/>
<path fill="#23a1e5" d="M536 499H542V503H536zM530 507H536V511H530zM583 511H589V515H583zM518 523H524V527H518zM512 531H518V535H512zM506 539H512V543H506zM500 551H506V555H500zM500 555H506V559H500zM500 559H506V563H500zM500 563H506V567H500zM500 567H506V571H500zM506 583H512V587H506zM506 587H512V591H506zM512 603H518V607H512zM518 619H524V623H518zM565 631H571V635H565z"/>
<path fill="#21a3e3" d="M553 487H559V491H553zM565 487H571V491H565zM542 495H547V499H542zM524 515H530V519H524zM512 535H518V539H512zM506 543H512V547H506zM506 547H512V551H506zM506 579H512V583H506zM583 587H589V591H583zM512 599H518V603H512zM577 607H583V611H577zM542 643H553V647H542z"/>
<path fill="#1fa6e2" d="M559 487H565V491H559zM547 491H553V495H547zM571 491H577V495H571zM577 499H583V503H577zM536 503H542V507H536zM583 515H589V519H583zM518 527H524V531H518zM512 539H518V543H512zM506 551H512V555H506zM506 555H512V559H506zM506 559H512V563H506zM506 563H512V567H506zM506 567H512V571H506zM506 571H512V575H506zM506 575H512V579H506zM512 595H518V599H512zM518 615H524V619H518zM571 619H577V623H571zM524 627H530V631H524zM530 635H536V639H530zM559 635H565V639H559zM553 639H559V643H553z"/>
<path fill="#1da9e0" d="M530 511H536V515H530zM524 519H530V523H524zM512 543H518V547H512zM583 583H589V587H583zM512 591H518V595H512zM518 611H524V615H518zM565 627H571V631H565zM536 639H542V643H536z"/>
<path fill="#1babde" d="M542 499H547V503H542zM583 519H589V523H583zM518 531H524V535H518zM512 547H518V551H512zM583 579H589V583H583zM512 587H518V591H512zM577 603H583V607H577zM524 623H530V627H524z"/>
<path fill="#18addb" d="M553 491H559V495H553zM565 491H571V495H565zM547 495H553V499H547zM571 495H577V499H571zM577 503H583V507H577zM536 507H542V511H536zM530 515H536V519H530zM524 523H530V527H524zM583 523H589V527H583zM518 535H524V539H518zM512 551H518V555H512zM512 555H518V559H512zM512 579H518V583H512zM512 583H518V587H512zM518 607H524V611H518zM571 615H577V619H571zM530 631H536V635H530zM542 639H553V643H542z"/>
<path fill="#14b0d8" d="M559 491H565V495H559zM518 539H524V543H518zM512 559H518V563H512zM512 563H518V567H512zM512 567H518V571H512zM512 571H518V575H512zM512 575H518V579H512zM583 575H589V579H583zM577 599H583V603H577zM518 603H524V607H518zM559 631H565V635H559zM536 635H542V639H536zM553 635H559V639H553z"/>
<path fill="#10b2d5" d="M577 507H583V511H577zM524 527H530V531H524zM583 527H589V531H583zM518 543H524V547H518zM583 571H589V575H583zM524 619H530V623H524zM565 623H571V627H565z"/>
<path fill="#0ab4d2" d="M571 499H577V503H571zM542 503H547V507H542zM530 519H536V523H530zM583 531H589V535H583zM583 567H589V571H583zM518 599H524V603H518zM571 611H577V615H571zM530 627H536V631H530z"/>
<path fill="#05b6ce" d="M553 495H559V499H553zM565 495H571V499H565zM547 499H553V503H547zM536 511H542V515H536zM524 531H530V535H524zM583 535H589V539H583zM518 547H524V551H518zM583 563H589V567H583zM518 595H524V599H518zM577 595H583V599H577zM524 615H530V619H524zM542 635H553V639H542z"/>
<path fill="#02b7cb" d="M559 495H565V499H559zM577 511H583V515H577zM524 535H530V539H524zM583 539H589V543H583zM583 543H589V547H583zM583 547H589V551H583zM518 551H524V555H518zM583 551H589V555H583zM518 555H524V559H518zM583 555H589V559H583zM583 559H589V563H583zM518 591H524V595H518zM559 627H565V631H559zM536 631H542V635H536z"/>
<path fill="#01b9c7" d="M542 507H547V511H542zM530 523H536V527H530zM518 559H524V563H518zM518 583H524V587H518zM518 587H524V591H518zM577 591H583V595H577zM524 611H530V615H524zM565 619H571V623H565zM530 623H536V627H530zM553 631H559V635H553z"/>
<path fill="#02bbc3" d="M571 503H577V507H571zM536 515H542V519H536zM577 515H583V519H577zM524 539H530V543H524zM518 563H524V567H518zM518 567H524V571H518zM518 571H524V575H518zM518 575H524V579H518zM518 579H524V583H518zM571 607H577V611H571z"/>
<path fill="#08bcbf" d="M553 499H559V503H553zM565 499H571V503H565zM547 503H553V507H547zM530 527H536V531H530zM524 607H530V611H524zM542 631H553V635H542z"/>
<path fill="#0ebdbb" d="M559 499H565V503H559zM524 543H530V547H524zM577 587H583V591H577zM530 619H536V623H530zM559 623H565V627H559zM536 627H542V631H536z"/>
<path fill="#16bfb7" d="M571 507H577V511H571zM542 511H547V515H542zM536 519H542V523H536zM577 519H583V523H577zM524 603H530V607H524zM571 603H577V607H571zM565 615H571V619H565zM553 627H559V631H553z"/>
<path fill="#1dc0b3" d="M530 531H536V535H530zM524 547H530V551H524zM577 583H583V587H577z"/>
<path fill="#23c1af" d="M553 503H559V507H553zM565 503H571V507H565zM547 507H553V511H547zM577 523H583V527H577zM524 551H530V555H524zM524 599H530V603H524zM530 615H536V619H530zM542 627H547V631H542z"/>
<path fill="#28c3ab" d="M536 523H542V527H536zM530 535H536V539H530zM524 555H530V559H524zM577 579H583V583H577zM524 595H530V599H524zM571 599H577V603H571zM536 623H542V627H536zM547 627H553V631H547z"/>
<path fill="#2cc4a6" d="M559 503H565V507H559zM571 511H577V515H571zM542 515H547V519H542zM577 527H583V531H577zM524 559H530V563H524zM524 591H530V595H524zM565 611H571V615H565zM559 619H565V623H559z"/>
<path fill="#30c5a2" d="M524 563H530V567H524zM577 575H583V579H577zM524 587H530V591H524zM530 611H536V615H530zM553 623H559V627H553z"/>
<path fill="#33c69d" d="M565 507H571V511H565zM577 531H583V535H577zM530 539H536V543H530zM524 567H530V571H524zM524 571H530V575H524zM577 571H583V575H577zM524 575H530V579H524zM524 579H530V583H524zM524 583H530V587H524zM536 619H542V623H536z"/>
<path fill="#36c898" d="M553 507H559V511H553zM547 511H553V515H547zM571 515H577V519H571zM536 527H542V531H536zM577 535H583V539H577zM571 595H577V599H571zM542 623H553V627H542z"/>
<path fill="#3ac993" d="M559 507H565V511H559zM542 519H547V523H542zM530 543H536V547H530zM577 567H583V571H577zM530 607H536V611H530zM565 607H571V611H565zM559 615H565V619H559z"/>
<path fill="#3fca8e" d="M577 539H583V543H577zM577 563H583V567H577z"/>
<path fill="#45cb88" d="M565 511H571V515H565zM571 519H577V523H571zM536 531H542V535H536zM577 543H583V547H577zM530 547H536V551H530zM577 547H583V551H577zM577 551H583V555H577zM577 555H583V559H577zM577 559H583V563H577zM571 591H577V595H571zM530 603H536V607H530zM536 615H542V619H536zM553 619H559V623H553z"/>
<path fill="#4ccb83" d="M553 511H559V515H553zM547 515H553V519H547zM542 619H547V623H542z"/>
<path fill="#53cc7d" d="M542 523H547V527H542zM530 551H536V555H530zM530 599H536V603H530zM565 603H571V607H565zM547 619H553V623H547z"/>
<path fill="#5bcc77" d="M559 511H565V515H559zM571 523H577V527H571zM536 535H542V539H536zM571 587H577V591H571zM536 611H542V615H536zM559 611H565V615H559z"/>
<path fill="#62cd70" d="M565 515H571V519H565zM530 555H536V559H530zM530 595H536V599H530zM553 615H559V619H553z"/>
<path fill="#6acd6a" d="M547 519H553V523H547zM530 559H536V563H530zM542 615H547V619H542z"/>
<path fill="#72cd63" d="M553 515H559V519H553zM542 527H547V531H542zM571 527H577V531H571zM536 539H542V543H536zM571 583H577V587H571zM530 591H536V595H530zM565 599H571V603H565z"/>
<path fill="#7bcc5d" d="M559 515H565V519H559zM530 563H536V567H530zM530 567H536V571H530zM530 587H536V591H530zM536 607H542V611H536zM559 607H565V611H559zM547 615H553V619H547z"/>
<path fill="#83cc57" d="M565 519H571V523H565zM530 571H536V575H530zM530 575H536V579H530zM530 579H536V583H530zM571 579H577V583H571zM530 583H536V587H530z"/>
<path fill="#8ccb50" d="M571 531H577V535H571zM536 543H542V547H536zM565 595H571V599H565zM553 611H559V615H553z"/>
<path fill="#94ca4a" d="M547 523H553V527H547zM542 531H547V535H542zM571 575H577V579H571zM536 603H542V607H536zM542 611H547V615H542z"/>
<path fill="#9cc943" d="M553 519H559V523H553zM571 535H577V539H571z"/>
<path fill="#a4c83e" d="M559 519H565V523H559zM565 523H571V527H565zM536 547H542V551H536zM571 571H577V575H571zM559 603H565V607H559zM547 611H553V615H547z"/>
<path fill="#acc738" d="M542 535H547V539H542zM571 539H577V543H571zM565 591H571V595H565zM536 599H542V603H536z"/>
<path fill="#b4c533" d="M547 527H553V531H547zM571 543H577V547H571zM536 551H542V555H536zM571 567H577V571H571zM542 607H547V611H542zM553 607H559V611H553z"/>
<path fill="#bcc42f" d="M553 523H559V527H553zM565 527H571V531H565zM571 547H577V551H571zM571 563H577V567H571zM536 595H542V599H536z"/>
<path fill="#c3c22b" d="M559 523H565V527H559zM571 551H577V555H571zM536 555H542V559H536zM571 555H577V559H571zM571 559H577V563H571zM559 599H565V603H559zM547 607H553V611H547z"/>
<path fill="#cac129" d="M542 539H547V543H542zM565 587H571V591H565zM536 591H542V595H536zM542 603H547V607H542z"/>
<path fill="#d1bf27" d="M547 531H553V535H547zM536 559H542V563H536z"/>
<path fill="#d7be28" d="M565 531H571V535H565zM536 587H542V591H536zM553 603H559V607H553z"/>
<path fill="#ddbd29" d="M553 527H565V531H553zM542 543H547V547H542zM536 563H542V567H536zM536 583H542V587H536zM565 583H571V587H565zM559 595H565V599H559z"/>
<path fill="#e3bb2c" d="M536 567H542V571H536zM536 571H542V575H536zM536 575H542V579H536zM536 579H542V583H536zM542 599H547V603H542zM547 603H553V607H547z"/>
<path fill="#e9bb30" d="M565 535H571V539H565z"/>
<path fill="#eeba34" d="M547 535H553V539H547zM565 579H571V583H565zM553 599H559V603H553z"/>
<path fill="#f3ba39" d="M553 531H565V535H553zM565 539H571V543H565zM542 547H547V551H542zM559 591H565V595H559zM542 595H547V599H542z"/>
<path fill="#f8ba3d" d="M565 575H571V579H565zM547 599H553V603H547z"/>
<path fill="#fcbc3d" d="M547 539H553V543H547zM565 543H571V547H565zM542 551H547V555H542z"/>
<path fill="#febf3c" d="M565 571H571V575H565zM542 591H547V595H542zM553 595H559V599H553z"/>
<path fill="#fec239" d="M553 535H565V539H553zM565 547H571V551H565zM565 567H571V571H565zM559 587H565V591H559z"/>
<path fill="#fec537" d="M565 551H571V555H565zM542 555H547V559H542zM565 563H571V567H565zM542 587H547V591H542zM547 595H553V599H547z"/>
<path fill="#fec934" d="M547 543H553V547H547zM565 555H571V559H565zM565 559H571V563H565z"/>
<path fill="#fdcc32" d="M559 539H565V543H559zM542 559H547V563H542zM542 583H547V587H542zM559 583H565V587H559zM553 591H559V595H553z"/>
<path fill="#fcd030" d="M553 539H559V543H553zM542 563H547V567H542zM542 579H547V583H542zM547 591H553V595H547z"/>
<path fill="#fbd42e" d="M547 547H553V551H547zM542 567H547V571H542zM542 571H547V575H542zM542 575H547V579H542z"/>
<path fill="#f9d72c" d="M559 543H565V547H559zM559 579H565V583H559z"/>
<path fill="#f7db2b" d="M553 543H559V547H553zM547 587H559V591H547z"/>
<path fill="#f6df29" d="M559 547H565V551H559zM547 551H553V555H547zM559 575H565V579H559z"/>
<path fill="#f5e227" d="M547 583H553V587H547z"/>
<path fill="#f5e626" d="M553 547H559V551H553zM559 551H565V555H559zM547 555H553V559H547zM559 571H565V575H559zM553 583H559V587H553z"/>
<path fill="#f5ea24" d="M559 555H565V559H559zM559 567H565V571H559zM547 579H553V583H547z"/>
<path fill="#f5ed22" d="M553 551H559V555H553zM547 559H553V563H547zM559 559H565V563H559zM559 563H565V567H559zM553 579H559V583H553z"/>
<path fill="#f6f11f" d="M547 563H553V567H547zM547 567H553V571H547zM547 571H553V575H547zM547 575H553V579H547z"/>
<path fill="#f7f41c" d="M553 555H559V559H553zM553 575H559V579H553z"/>
<path fill="#f8f718" d="M553 559H559V563H553zM553 571H559V575H553z"/>
<path fill="#f9fb15" d="M553 563H559V567H553zM553 567H559V571H553z"/>
</g>
<path d="M169.5 418.4V675.2M228.5 418.4V675.2M287.6 418.4V675.2M346.6 418.4V675.2M405.7 418.4V675.2M464.8 418.4V675.2M523.8 418.4V675.2M582.9 418.4V675.2M110.4 611H612.4M110.4 546.8H612.4M110.4 482.6H612.4" fill="none" stroke="#f2f0fa" stroke-opacity=".88" stroke-width="1.25" stroke-dasharray="2.3 4.7" stroke-dashoffset="3.75"/>
<path d="M169.5 675.2v-5M169.5 418.4v5M228.5 675.2v-5M228.5 418.4v5M287.6 675.2v-5M287.6 418.4v5M346.6 675.2v-5M346.6 418.4v5M405.7 675.2v-5M405.7 418.4v5M464.8 675.2v-5M464.8 418.4v5M523.8 675.2v-5M523.8 418.4v5M582.9 675.2v-5M582.9 418.4v5M110.4 611h5M612.4 611h-5M110.4 546.8h5M612.4 546.8h-5M110.4 482.6h5M612.4 482.6h-5" fill="none" stroke="#262626" stroke-width="1.1"/>
<rect x="110.4" y="418.4" width="502" height="256.8" fill="none" stroke="#262626" stroke-opacity=".8" stroke-width="1.1"/>
<g font-size="27.5" fill="#262626">
<text x="110.4" y="714.2" text-anchor="middle">-120</text>
<text x="169.5" y="714.2" text-anchor="middle">-100</text>
<text x="228.5" y="714.2" text-anchor="middle">-80</text>
<text x="287.6" y="714.2" text-anchor="middle">-60</text>
<text x="346.6" y="714.2" text-anchor="middle">-40</text>
<text x="405.7" y="714.2" text-anchor="middle">-20</text>
<text x="464.8" y="714.2" text-anchor="middle">0</text>
<text x="523.8" y="714.2" text-anchor="middle">20</text>
<text x="582.9" y="714.2" text-anchor="middle">40</text>
<text x="99.3" y="686.1" text-anchor="end">-40</text>
<text x="99.3" y="621.9" text-anchor="end">-20</text>
<text x="99.3" y="557.6" text-anchor="end">0</text>
<text x="99.3" y="493.4" text-anchor="end">20</text>
<text x="99.3" y="429.2" text-anchor="end">40</text>
</g>
<text x="360.9" y="753.5" text-anchor="middle" font-size="30" fill="#262626">X (mm)</text>
<text transform="translate(45.5 548.5) rotate(-90)" text-anchor="middle" font-size="30" fill="#262626">Y (mm)</text>
<path d="M258.5 419.1V674.5" stroke="#fff" stroke-width="5.3" fill="none"/>
<path d="M152 547H313" stroke="#fff" stroke-width="3.6" fill="none"/>
<path d="M328.8 547l-24.8 -10.4l4.3 10.4l-4.3 10.4z" fill="#fff"/>
<text transform="translate(297.2 530.8) scale(.92 1)" fill="#fff" font-weight="bold" font-size="65.8">C</text>
<text fill="#fff" font-weight="bold" font-size="31.6" text-anchor="end" transform="translate(297.2 499.4) scale(.97 1)">12</text>
<text x="273.7" y="665.4" fill="#fff" font-size="41.4">PMMA</text>
<rect x="632" y="418.4" width="37.3" height="256.8" fill="url(#pg)" stroke="#3c3c3c" stroke-width="1.1"/>
<g font-size="24.75" fill="#262626">
<text x="678.6" y="684.4">0</text>
<text x="678.6" y="590.6">5</text>
<text x="678.6" y="496.8">10</text>
</g>
<path d="M669.3 675.2h-4.5M669.3 581.4h-4.5M669.3 487.6h-4.5" fill="none" stroke="#262626" stroke-width="1.3"/>
<text fill="#262626" font-size="24"><tspan x="670.6" y="408" font-size="28.5">×</tspan><tspan x="689.7" y="404.2" textLength="24.6" lengthAdjust="spacingAndGlyphs">10</tspan><tspan x="716.3" y="393.8" font-size="21">4</tspan></text>
<text transform="translate(739.7 547.2) rotate(-90)" text-anchor="middle" font-size="24.6" fill="#262626">Coincidence events</text>
</g>
<g id="p3">
<g shape-rendering="crispEdges">
<rect x="110.4" y="797.8" width="502" height="256.8" fill="#3f29af"/>
<path fill="#3e26a8" d="M110.4 797.8H171V801H110.4zM532 797.8H612.4V801H532zM110.4 801H171V804H110.4zM532 801H612.4V804H532zM110.4 804H161V807H110.4zM542 804H612.4V807H542zM110.4 807H161V811H110.4zM542 807H612.4V811H542zM110.4 811H161V814H110.4zM542 811H612.4V814H542zM110.4 814H161V817H110.4zM542 814H612.4V817H542zM110.4 817H161V820H110.4zM542 817H612.4V820H542zM110.4 820H161V823H110.4zM542 820H612.4V823H542zM110.4 823H161V827H110.4zM542 823H612.4V827H542zM110.4 827H151V830H110.4zM552 827H612.4V830H552zM110.4 830H151V833H110.4zM552 830H612.4V833H552zM110.4 833H151V836H110.4zM552 833H612.4V836H552zM110.4 836H151V840H110.4zM552 836H612.4V840H552zM110.4 840H151V843H110.4zM552 840H612.4V843H552zM110.4 843H151V846H110.4zM552 843H612.4V846H552zM110.4 846H151V849H110.4zM552 846H612.4V849H552zM110.4 849H151V852H110.4zM552 849H612.4V852H552zM110.4 852H151V856H110.4zM552 852H612.4V856H552zM110.4 856H141V859H110.4zM562 856H612.4V859H562zM110.4 859H141V862H110.4zM562 859H612.4V862H562zM110.4 862H141V865H110.4zM562 862H612.4V865H562zM110.4 865H141V868H110.4zM562 865H612.4V868H562zM110.4 868H141V872H110.4zM562 868H612.4V872H562zM110.4 872H141V875H110.4zM562 872H612.4V875H562zM110.4 875H141V878H110.4zM562 875H612.4V878H562zM110.4 878H141V881H110.4zM562 878H612.4V881H562zM110.4 881H141V884H110.4zM562 881H612.4V884H562zM110.4 884H141V888H110.4zM562 884H612.4V888H562zM110.4 888H141V891H110.4zM562 888H612.4V891H562zM110.4 891H141V894H110.4zM562 891H612.4V894H562zM110.4 894H141V897H110.4zM562 894H612.4V897H562zM110.4 897H141V901H110.4zM562 897H612.4V901H562zM110.4 901H141V904H110.4zM562 901H612.4V904H562zM110.4 904H141V907H110.4zM562 904H612.4V907H562zM110.4 907H141V910H110.4zM562 907H612.4V910H562zM110.4 910H141V913H110.4zM562 910H612.4V913H562zM110.4 913H141V917H110.4zM562 913H612.4V917H562zM110.4 917H141V920H110.4zM562 917H612.4V920H562zM110.4 920H141V923H110.4zM562 920H612.4V923H562zM110.4 923H141V926H110.4zM562 923H612.4V926H562zM110.4 926H141V929H110.4zM562 926H612.4V929H562zM110.4 929H141V933H110.4zM562 929H612.4V933H562zM110.4 933H141V936H110.4zM562 933H612.4V936H562zM110.4 936H141V939H110.4zM562 936H612.4V939H562zM110.4 939H141V942H110.4zM562 939H612.4V942H562zM110.4 942H141V945H110.4zM562 942H612.4V945H562zM110.4 945H141V949H110.4zM562 945H612.4V949H562zM110.4 949H141V952H110.4zM562 949H612.4V952H562zM110.4 952H141V955H110.4zM562 952H612.4V955H562zM110.4 955H141V958H110.4zM562 955H612.4V958H562zM110.4 958H141V962H110.4zM562 958H612.4V962H562zM110.4 962H141V965H110.4zM562 962H612.4V965H562zM110.4 965H141V968H110.4zM562 965H612.4V968H562zM110.4 968H141V971H110.4zM562 968H612.4V971H562zM110.4 971H151V974H110.4zM552 971H612.4V974H552zM110.4 974H151V978H110.4zM552 974H612.4V978H552zM110.4 978H151V981H110.4zM552 978H612.4V981H552zM110.4 981H151V984H110.4zM552 981H612.4V984H552zM110.4 984H151V987H110.4zM552 984H612.4V987H552zM110.4 987H151V990H110.4zM552 987H612.4V990H552zM110.4 990H151V994H110.4zM552 990H612.4V994H552zM110.4 994H151V997H110.4zM552 994H612.4V997H552zM110.4 997H151V1000H110.4zM552 997H612.4V1000H552zM110.4 1000H161V1003H110.4zM542 1000H612.4V1003H542zM110.4 1003H161V1006H110.4zM542 1003H612.4V1006H542zM110.4 1006H161V1010H110.4zM542 1006H612.4V1010H542zM110.4 1010H161V1013H110.4zM542 1010H612.4V1013H542zM110.4 1013H161V1016H110.4zM542 1013H612.4V1016H542zM110.4 1016H161V1019H110.4zM542 1016H612.4V1019H542zM110.4 1019H161V1022H110.4zM542 1019H612.4V1022H542zM110.4 1022H171V1026H110.4zM532 1022H612.4V1026H532zM110.4 1026H171V1029H110.4zM532 1026H612.4V1029H532zM110.4 1029H171V1032H110.4zM532 1029H612.4V1032H532zM110.4 1032H171V1035H110.4zM532 1032H612.4V1035H532zM110.4 1035H171V1039H110.4zM532 1035H612.4V1039H532zM110.4 1039H181V1042H110.4zM522 1039H612.4V1042H522zM110.4 1042H181V1045H110.4zM522 1042H612.4V1045H522zM110.4 1045H181V1048H110.4zM522 1045H612.4V1048H522zM110.4 1048H181V1051H110.4zM522 1048H612.4V1051H522zM110.4 1051H191V1054.6H110.4zM512 1051H612.4V1054.6H512z"/>
<path fill="#402bb6" d="M271 797.8H291V801H271zM402 797.8H432V801H402zM261 801H291V804H261zM412 801H432V804H412zM261 804H291V807H261zM412 804H432V807H412zM261 807H291V811H261zM412 807H442V811H412zM261 811H281V814H261zM412 811H442V814H412zM251 814H281V817H251zM422 814H442V817H422zM251 817H281V820H251zM422 817H442V820H422zM251 820H281V823H251zM422 820H452V823H422zM251 823H271V827H251zM422 823H452V827H422zM251 827H271V830H251zM422 827H452V830H422zM241 830H271V833H241zM432 830H452V833H432zM241 833H271V836H241zM432 833H452V836H432zM241 836H271V840H241zM432 836H452V840H432zM241 840H261V843H241zM432 840H462V843H432zM241 843H261V846H241zM432 843H462V846H432zM241 846H261V849H241zM432 846H462V849H432zM231 849H261V852H231zM432 849H462V852H432zM231 852H261V856H231zM432 852H462V856H432zM231 856H261V859H231zM442 856H462V859H442zM231 859H261V862H231zM442 859H462V862H442zM231 862H261V865H231zM442 862H472V865H442zM231 865H251V868H231zM442 865H472V868H442zM231 868H251V872H231zM442 868H472V872H442zM231 872H251V875H231zM442 872H472V875H442zM231 875H251V878H231zM442 875H472V878H442zM231 878H251V881H231zM442 878H472V881H442zM231 881H251V884H231zM442 881H472V884H442zM221 884H251V888H221zM442 884H472V888H442zM221 888H251V891H221zM442 888H472V891H442zM221 891H251V894H221zM442 891H472V894H442zM221 894H251V897H221zM442 894H472V897H442zM221 897H251V901H221zM442 897H472V901H442zM221 901H251V904H221zM442 901H472V904H442zM221 904H251V907H221zM442 904H472V907H442zM221 907H251V910H221zM442 907H472V910H442zM221 910H251V913H221zM442 910H472V913H442zM221 913H251V917H221zM442 913H472V917H442zM221 917H251V920H221zM442 917H472V920H442zM221 920H251V923H221zM442 920H472V923H442zM221 923H251V926H221zM442 923H472V926H442zM221 926H251V929H221zM442 926H472V929H442zM221 929H251V933H221zM442 929H472V933H442zM221 933H251V936H221zM442 933H472V936H442zM221 936H251V939H221zM442 936H472V939H442zM221 939H251V942H221zM442 939H472V942H442zM231 942H251V945H231zM442 942H472V945H442zM231 945H251V949H231zM442 945H472V949H442zM231 949H251V952H231zM442 949H472V952H442zM231 952H251V955H231zM442 952H472V955H442zM231 955H251V958H231zM442 955H472V958H442zM231 958H251V962H231zM442 958H472V962H442zM231 962H261V965H231zM442 962H472V965H442zM231 965H261V968H231zM442 965H462V968H442zM231 968H261V971H231zM442 968H462V971H442zM231 971H261V974H231zM432 971H462V974H432zM231 974H261V978H231zM432 974H462V978H432zM241 978H261V981H241zM432 978H462V981H432zM241 981H261V984H241zM432 981H462V984H432zM241 984H261V987H241zM432 984H462V987H432zM241 987H271V990H241zM432 987H452V990H432zM241 990H271V994H241zM432 990H452V994H432zM241 994H271V997H241zM422 994H452V997H422zM251 997H271V1000H251zM422 997H452V1000H422zM251 1000H271V1003H251zM422 1000H452V1003H422zM251 1003H281V1006H251zM422 1003H442V1006H422zM251 1006H281V1010H251zM422 1006H442V1010H422zM251 1010H281V1013H251zM412 1010H442V1013H412zM261 1013H281V1016H261zM412 1013H442V1016H412zM261 1016H291V1019H261zM412 1016H442V1019H412zM261 1019H291V1022H261zM412 1019H432V1022H412zM261 1022H291V1026H261zM402 1022H432V1026H402zM271 1026H301V1029H271zM402 1026H432V1029H402zM271 1029H301V1032H271zM402 1029H422V1032H402zM271 1032H301V1035H271zM392 1032H422V1035H392zM281 1035H311V1039H281zM392 1035H422V1039H392zM281 1039H311V1042H281zM392 1039H412V1042H392zM291 1042H321V1045H291zM381 1042H412V1045H381zM291 1045H321V1048H291zM381 1045H412V1048H381zM291 1048H331V1051H291zM371 1048H402V1051H371zM301 1051H341V1054.6H301zM371 1051H402V1054.6H371z"/>
<path fill="#412dbd" d="M291 797.8H311V801H291zM392 797.8H402V801H392zM291 801H311V804H291zM392 801H412V804H392zM291 804H301V807H291zM392 804H412V807H392zM291 807H301V811H291zM402 807H412V811H402zM281 811H301V814H281zM402 811H412V814H402zM281 814H291V817H281zM402 814H422V817H402zM281 817H291V820H281zM412 817H422V820H412zM281 820H291V823H281zM412 820H422V823H412zM271 823H291V827H271zM412 823H422V827H412zM271 827H281V830H271zM412 827H422V830H412zM271 830H281V833H271zM412 830H432V833H412zM271 833H281V836H271zM422 833H432V836H422zM271 836H281V840H271zM422 836H432V840H422zM261 840H281V843H261zM422 840H432V843H422zM261 843H271V846H261zM422 843H432V846H422zM261 846H271V849H261zM422 846H432V849H422zM261 849H271V852H261zM422 849H432V852H422zM261 852H271V856H261zM422 852H432V856H422zM261 856H271V859H261zM422 856H442V859H422zM261 859H271V862H261zM432 859H442V862H432zM261 862H271V865H261zM432 862H442V865H432zM251 865H271V868H251zM432 865H442V868H432zM251 868H261V872H251zM432 868H442V872H432zM251 872H261V875H251zM432 872H442V875H432zM251 875H261V878H251zM432 875H442V878H432zM251 878H261V881H251zM432 878H442V881H432zM251 881H261V884H251zM432 881H442V884H432zM251 884H261V888H251zM432 884H442V888H432zM251 888H261V891H251zM432 888H442V891H432zM251 891H261V894H251zM432 891H442V894H432zM251 894H261V897H251zM432 894H442V897H432zM251 897H261V901H251zM432 897H442V901H432zM251 901H261V904H251zM432 901H442V904H432zM251 904H261V907H251zM432 904H442V907H432zM251 907H261V910H251zM432 907H442V910H432zM251 910H261V913H251zM432 910H442V913H432zM251 913H261V917H251zM432 913H442V917H432zM251 917H261V920H251zM432 917H442V920H432zM251 920H261V923H251zM432 920H442V923H432zM251 923H261V926H251zM432 923H442V926H432zM251 926H261V929H251zM432 926H442V929H432zM251 929H261V933H251zM432 929H442V933H432zM251 933H261V936H251zM432 933H442V936H432zM251 936H261V939H251zM432 936H442V939H432zM251 939H261V942H251zM432 939H442V942H432zM251 942H261V945H251zM432 942H442V945H432zM251 945H261V949H251zM432 945H442V949H432zM251 949H261V952H251zM432 949H442V952H432zM251 952H261V955H251zM432 952H442V955H432zM251 955H271V958H251zM432 955H442V958H432zM251 958H271V962H251zM432 958H442V962H432zM261 962H271V965H261zM432 962H442V965H432zM261 965H271V968H261zM432 965H442V968H432zM261 968H271V971H261zM422 968H442V971H422zM261 971H271V974H261zM422 971H432V974H422zM261 974H271V978H261zM422 974H432V978H422zM261 978H271V981H261zM422 978H432V981H422zM261 981H281V984H261zM422 981H432V984H422zM261 984H281V987H261zM422 984H432V987H422zM271 987H281V990H271zM422 987H432V990H422zM271 990H281V994H271zM412 990H432V994H412zM271 994H281V997H271zM412 994H422V997H412zM271 997H291V1000H271zM412 997H422V1000H412zM271 1000H291V1003H271zM412 1000H422V1003H412zM281 1003H291V1006H281zM412 1003H422V1006H412zM281 1006H291V1010H281zM402 1006H422V1010H402zM281 1010H301V1013H281zM402 1010H412V1013H402zM281 1013H301V1016H281zM402 1013H412V1016H402zM291 1016H301V1019H291zM402 1016H412V1019H402zM291 1019H311V1022H291zM392 1019H412V1022H392zM291 1022H311V1026H291zM392 1022H402V1026H392zM301 1026H311V1029H301zM392 1026H402V1029H392zM301 1029H321V1032H301zM381 1029H402V1032H381zM301 1032H321V1035H301zM381 1032H392V1035H381zM311 1035H321V1039H311zM381 1035H392V1039H381zM311 1039H331V1042H311zM371 1039H392V1042H371zM321 1042H341V1045H321zM371 1042H381V1045H371zM321 1045H351V1048H321zM361 1045H381V1048H361zM331 1048H371V1051H331zM341 1051H371V1054.6H341z"/>
<path fill="#4230c3" d="M311 797.8H321V801H311zM381 797.8H392V801H381zM311 801H321V804H311zM381 801H392V804H381zM301 804H311V807H301zM301 807H311V811H301zM392 807H402V811H392zM301 811H311V814H301zM392 811H402V814H392zM291 814H301V817H291zM392 814H402V817H392zM291 817H301V820H291zM402 817H412V820H402zM291 820H301V823H291zM402 820H412V823H402zM291 823H301V827H291zM402 823H412V827H402zM281 827H291V830H281zM402 827H412V830H402zM281 830H291V833H281zM281 833H291V836H281zM412 833H422V836H412zM281 836H291V840H281zM412 836H422V840H412zM412 840H422V843H412zM271 843H281V846H271zM412 843H422V846H412zM271 846H281V849H271zM412 846H422V849H412zM271 849H281V852H271zM271 852H281V856H271zM271 856H281V859H271zM271 859H281V862H271zM422 859H432V862H422zM422 862H432V865H422zM422 865H432V868H422zM261 868H271V872H261zM422 868H432V872H422zM261 872H271V875H261zM422 872H432V875H422zM261 875H271V878H261zM422 875H432V878H422zM261 878H271V881H261zM422 878H432V881H422zM261 881H271V884H261zM422 881H432V884H422zM261 884H271V888H261zM422 884H432V888H422zM261 888H271V891H261zM261 891H271V894H261zM261 894H271V897H261zM261 897H271V901H261zM261 901H271V904H261zM261 904H271V907H261zM261 907H271V910H261zM261 910H271V913H261zM261 913H271V917H261zM261 917H271V920H261zM261 920H271V923H261zM261 923H271V926H261zM261 926H271V929H261zM261 929H271V933H261zM261 933H271V936H261zM261 936H271V939H261zM422 936H432V939H422zM261 939H271V942H261zM422 939H432V942H422zM261 942H271V945H261zM422 942H432V945H422zM261 945H271V949H261zM422 945H432V949H422zM261 949H271V952H261zM422 949H432V952H422zM261 952H271V955H261zM422 952H432V955H422zM422 955H432V958H422zM422 958H432V962H422zM271 962H281V965H271zM422 962H432V965H422zM271 965H281V968H271zM422 965H432V968H422zM271 968H281V971H271zM271 971H281V974H271zM271 974H281V978H271zM412 974H422V978H412zM271 978H281V981H271zM412 978H422V981H412zM412 981H422V984H412zM281 984H291V987H281zM412 984H422V987H412zM281 987H291V990H281zM412 987H422V990H412zM281 990H291V994H281zM281 994H291V997H281zM402 994H412V997H402zM402 997H412V1000H402zM291 1000H301V1003H291zM402 1000H412V1003H402zM291 1003H301V1006H291zM402 1003H412V1006H402zM291 1006H301V1010H291zM392 1006H402V1010H392zM301 1010H311V1013H301zM392 1010H402V1013H392zM301 1013H311V1016H301zM392 1013H402V1016H392zM301 1016H311V1019H301zM392 1016H402V1019H392zM381 1019H392V1022H381zM311 1022H321V1026H311zM381 1022H392V1026H381zM311 1026H321V1029H311zM381 1026H392V1029H381zM321 1029H331V1032H321zM371 1029H381V1032H371zM321 1032H331V1035H321zM371 1032H381V1035H371zM321 1035H341V1039H321zM371 1035H381V1039H371zM331 1039H351V1042H331zM361 1039H371V1042H361zM341 1042H371V1045H341zM351 1045H361V1048H351z"/>
<path fill="#4332ca" d="M321 797.8H331V801H321zM371 797.8H381V801H371zM311 804H321V807H311zM381 804H392V807H381zM311 807H321V811H311zM381 807H392V811H381zM301 814H311V817H301zM301 817H311V820H301zM392 817H402V820H392zM392 820H402V823H392zM291 827H301V830H291zM291 830H301V833H291zM402 830H412V833H402zM291 833H301V836H291zM402 833H412V836H402zM402 836H412V840H402zM281 840H291V843H281zM402 840H412V843H402zM281 843H291V846H281zM281 846H291V849H281zM281 849H291V852H281zM412 849H422V852H412zM412 852H422V856H412zM412 856H422V859H412zM412 859H422V862H412zM271 862H281V865H271zM412 862H422V865H412zM271 865H281V868H271zM271 868H281V872H271zM271 872H281V875H271zM271 875H281V878H271zM271 878H281V881H271zM271 881H281V884H271zM422 888H432V891H422zM422 891H432V894H422zM422 894H432V897H422zM422 897H432V901H422zM422 901H432V904H422zM422 904H432V907H422zM422 907H432V910H422zM422 910H432V913H422zM422 913H432V917H422zM422 917H432V920H422zM422 920H432V923H422zM422 923H432V926H422zM422 926H432V929H422zM422 929H432V933H422zM422 933H432V936H422zM271 942H281V945H271zM271 945H281V949H271zM271 949H281V952H271zM271 952H281V955H271zM271 955H281V958H271zM271 958H281V962H271zM412 958H422V962H412zM412 962H422V965H412zM412 965H422V968H412zM412 968H422V971H412zM281 971H291V974H281zM412 971H422V974H412zM281 974H291V978H281zM281 978H291V981H281zM281 981H291V984H281zM402 984H412V987H402zM402 987H412V990H402zM291 990H301V994H291zM402 990H412V994H402zM291 994H301V997H291zM291 997H301V1000H291zM392 1000H402V1003H392zM301 1003H311V1006H301zM392 1003H402V1006H392zM301 1006H311V1010H301zM311 1013H321V1016H311zM381 1013H392V1016H381zM311 1016H321V1019H311zM381 1016H392V1019H381zM311 1019H321V1022H311zM321 1022H331V1026H321zM371 1022H381V1026H371zM321 1026H331V1029H321zM371 1026H381V1029H371zM331 1032H341V1035H331zM361 1032H371V1035H361zM341 1035H371V1039H341zM351 1039H361V1042H351z"/>
<path fill="#4434d0" d="M321 801H331V804H321zM371 801H381V804H371zM311 811H321V814H311zM381 811H392V814H381zM381 814H392V817H381zM301 820H311V823H301zM301 823H311V827H301zM392 823H402V827H392zM392 827H402V830H392zM392 830H402V833H392zM291 836H301V840H291zM291 840H301V843H291zM402 843H412V846H402zM402 846H412V849H402zM402 849H412V852H402zM281 852H291V856H281zM281 856H291V859H281zM281 859H291V862H281zM281 862H291V865H281zM412 865H422V868H412zM412 868H422V872H412zM412 872H422V875H412zM412 875H422V878H412zM412 878H422V881H412zM412 881H422V884H412zM271 884H281V888H271zM271 888H281V891H271zM271 891H281V894H271zM271 894H281V897H271zM271 897H281V901H271zM271 901H281V904H271zM271 904H281V907H271zM271 907H281V910H271zM271 910H281V913H271zM271 913H281V917H271zM271 917H281V920H271zM271 920H281V923H271zM271 923H281V926H271zM271 926H281V929H271zM271 929H281V933H271zM271 933H281V936H271zM271 936H281V939H271zM271 939H281V942H271zM412 942H422V945H412zM412 945H422V949H412zM412 949H422V952H412zM412 952H422V955H412zM412 955H422V958H412zM281 958H291V962H281zM281 962H291V965H281zM281 965H291V968H281zM281 968H291V971H281zM402 974H412V978H402zM402 978H412V981H402zM291 981H301V984H291zM402 981H412V984H402zM291 984H301V987H291zM291 987H301V990H291zM392 990H402V994H392zM392 994H402V997H392zM301 997H311V1000H301zM392 997H402V1000H392zM301 1000H311V1003H301zM381 1006H392V1010H381zM311 1010H321V1013H311zM381 1010H392V1013H381zM321 1019H331V1022H321zM371 1019H381V1022H371zM331 1026H341V1029H331zM361 1026H371V1029H361zM331 1029H341V1032H331zM361 1029H371V1032H361zM341 1032H361V1035H341z"/>
<path fill="#4537d6" d="M331 797.8H341V801H331zM361 797.8H371V801H361zM321 804H331V807H321zM371 804H381V807H371zM371 807H381V811H371zM311 814H321V817H311zM311 817H321V820H311zM381 817H392V820H381zM381 820H392V823H381zM301 827H311V830H301zM301 830H311V833H301zM392 833H402V836H392zM392 836H402V840H392zM291 843H301V846H291zM291 846H301V849H291zM291 849H301V852H291zM402 852H412V856H402zM402 856H412V859H402zM281 865H291V868H281zM281 868H291V872H281zM281 872H291V875H281zM281 875H291V878H281zM412 884H422V888H412zM412 888H422V891H412zM412 891H422V894H412zM412 894H422V897H412zM412 897H422V901H412zM412 901H422V904H412zM412 904H422V907H412zM412 907H422V910H412zM412 910H422V913H412zM412 913H422V917H412zM412 917H422V920H412zM412 920H422V923H412zM412 923H422V926H412zM412 926H422V929H412zM412 929H422V933H412zM412 933H422V936H412zM412 936H422V939H412zM412 939H422V942H412zM281 945H291V949H281zM281 949H291V952H281zM281 952H291V955H281zM281 955H291V958H281zM402 965H412V968H402zM402 968H412V971H402zM291 971H301V974H291zM402 971H412V974H402zM291 974H301V978H291zM291 978H301V981H291zM392 984H402V987H392zM392 987H402V990H392zM301 990H311V994H301zM301 994H311V997H301zM381 1000H392V1003H381zM311 1003H321V1006H311zM381 1003H392V1006H381zM311 1006H321V1010H311zM321 1013H331V1016H321zM371 1013H381V1016H371zM321 1016H331V1019H321zM371 1016H381V1019H371zM331 1022H341V1026H331zM361 1022H371V1026H361zM341 1026H351V1029H341zM341 1029H361V1032H341z"/>
<path fill="#463adb" d="M331 801H341V804H331zM361 801H371V804H361zM321 807H331V811H321zM321 811H331V814H321zM371 811H381V814H371zM311 820H321V823H311zM381 823H392V827H381zM301 833H311V836H301zM301 836H311V840H301zM392 840H402V843H392zM392 843H402V846H392zM291 852H301V856H291zM291 856H301V859H291zM402 859H412V862H402zM402 862H412V865H402zM402 865H412V868H402zM281 878H291V881H281zM281 881H291V884H281zM281 884H291V888H281zM281 888H291V891H281zM281 891H291V894H281zM281 929H291V933H281zM281 933H291V936H281zM281 936H291V939H281zM281 939H291V942H281zM281 942H291V945H281zM402 955H412V958H402zM402 958H412V962H402zM402 962H412V965H402zM291 965H301V968H291zM291 968H301V971H291zM392 978H402V981H392zM392 981H402V984H392zM301 984H311V987H301zM301 987H311V990H301zM381 997H392V1000H381zM311 1000H321V1003H311zM321 1010H331V1013H321zM371 1010H381V1013H371zM331 1019H341V1022H331zM361 1019H371V1022H361zM341 1022H351V1026H341zM351 1026H361V1029H351z"/>
<path fill="#463de0" d="M341 797.8H361V801H341zM331 804H341V807H331zM361 804H371V807H361zM321 814H331V817H321zM371 814H381V817H371zM311 823H321V827H311zM311 827H321V830H311zM381 827H392V830H381zM381 830H392V833H381zM301 840H311V843H301zM301 843H311V846H301zM392 846H402V849H392zM291 859H301V862H291zM291 862H301V865H291zM402 868H412V872H402zM402 872H412V875H402zM402 875H412V878H402zM402 878H412V881H402zM281 894H291V897H281zM281 897H291V901H281zM281 901H291V904H281zM281 904H291V907H281zM281 907H291V910H281zM281 910H291V913H281zM281 913H291V917H281zM281 917H291V920H281zM281 920H291V923H281zM281 923H291V926H281zM281 926H291V929H281zM402 945H412V949H402zM402 949H412V952H402zM402 952H412V955H402zM291 958H301V962H291zM291 962H301V965H291zM392 974H402V978H392zM301 978H311V981H301zM301 981H311V984H301zM381 990H392V994H381zM311 994H321V997H311zM381 994H392V997H381zM311 997H321V1000H311zM321 1006H331V1010H321zM371 1006H381V1010H371zM331 1016H341V1019H331zM361 1016H371V1019H361zM351 1022H361V1026H351z"/>
<path fill="#4740e4" d="M341 801H361V804H341zM331 807H341V811H331zM321 817H331V820H321zM371 817H381V820H371zM311 830H321V833H311zM381 833H392V836H381zM301 846H311V849H301zM392 849H402V852H392zM392 852H402V856H392zM291 865H301V868H291zM291 868H301V872H291zM291 872H301V875H291zM402 881H412V884H402zM402 884H412V888H402zM402 888H412V891H402zM402 891H412V894H402zM402 929H412V933H402zM402 933H412V936H402zM402 936H412V939H402zM402 939H412V942H402zM402 942H412V945H402zM291 949H301V952H291zM291 952H301V955H291zM291 955H301V958H291zM392 968H402V971H392zM392 971H402V974H392zM301 974H311V978H301zM381 987H392V990H381zM311 990H321V994H311zM321 1003H331V1006H321zM371 1003H381V1006H371zM331 1013H341V1016H331zM361 1013H371V1016H361zM341 1019H361V1022H341z"/>
<path fill="#4743e7" d="M341 804H361V807H341zM361 807H371V811H361zM331 811H341V814H331zM321 820H331V823H321zM371 820H381V823H371zM311 833H321V836H311zM381 836H392V840H381zM301 849H311V852H301zM301 852H311V856H301zM392 856H402V859H392zM392 859H402V862H392zM291 875H301V878H291zM291 878H301V881H291zM291 881H301V884H291zM402 894H412V897H402zM402 897H412V901H402zM402 901H412V904H402zM402 904H412V907H402zM402 907H412V910H402zM402 910H412V913H402zM402 913H412V917H402zM402 917H412V920H402zM402 920H412V923H402zM402 923H412V926H402zM402 926H412V929H402zM291 939H301V942H291zM291 942H301V945H291zM291 945H301V949H291zM392 962H402V965H392zM392 965H402V968H392zM301 968H311V971H301zM301 971H311V974H301zM381 984H392V987H381zM311 987H321V990H311zM321 1000H331V1003H321zM371 1000H381V1003H371zM331 1010H341V1013H331zM341 1016H361V1019H341z"/>
<path fill="#4747eb" d="M341 807H351V811H341zM361 811H371V814H361zM371 823H381V827H371zM311 836H321V840H311zM381 840H392V843H381zM301 856H311V859H301zM392 862H402V865H392zM392 865H402V868H392zM291 884H301V888H291zM291 888H301V891H291zM291 891H301V894H291zM291 894H301V897H291zM291 929H301V933H291zM291 933H301V936H291zM291 936H301V939H291zM392 955H402V958H392zM392 958H402V962H392zM301 965H311V968H301zM381 981H392V984H381zM311 984H321V987H311zM321 997H331V1000H321zM371 997H381V1000H371zM361 1010H371V1013H361zM341 1013H351V1016H341z"/>
<path fill="#484aee" d="M351 807H361V811H351zM331 814H341V817H331zM361 814H371V817H361zM321 823H331V827H321zM311 840H321V843H311zM381 843H392V846H381zM301 859H311V862H301zM301 862H311V865H301zM392 868H402V872H392zM392 872H402V875H392zM291 897H301V901H291zM291 901H301V904H291zM291 904H301V907H291zM291 907H301V910H291zM291 910H301V913H291zM291 913H301V917H291zM291 917H301V920H291zM291 920H301V923H291zM291 923H301V926H291zM291 926H301V929H291zM392 949H402V952H392zM392 952H402V955H392zM301 958H311V962H301zM301 962H311V965H301zM381 978H392V981H381zM311 981H321V984H311zM331 1006H341V1010H331zM361 1006H371V1010H361zM351 1013H361V1016H351z"/>
<path fill="#484df0" d="M341 811H351V814H341zM331 817H341V820H331zM321 827H331V830H321zM371 827H381V830H371zM311 843H321V846H311zM381 846H392V849H381zM301 865H311V868H301zM392 875H402V878H392zM392 878H402V881H392zM392 942H402V945H392zM392 945H402V949H392zM301 955H311V958H301zM381 974H392V978H381zM311 978H321V981H311zM321 994H331V997H321zM371 994H381V997H371zM331 1003H341V1006H331zM341 1010H361V1013H341z"/>
<path fill="#4850f3" d="M351 811H361V814H351zM361 817H371V820H361zM321 830H331V833H321zM371 830H381V833H371zM311 846H321V849H311zM381 849H392V852H381zM301 868H311V872H301zM301 872H311V875H301zM392 881H402V884H392zM392 884H402V888H392zM392 936H402V939H392zM392 939H402V942H392zM301 949H311V952H301zM301 952H311V955H301zM381 971H392V974H381zM311 974H321V978H311zM321 990H331V994H321zM371 990H381V994H371zM361 1003H371V1006H361zM341 1006H351V1010H341z"/>
<path fill="#4854f5" d="M341 814H361V817H341zM331 820H341V823H331zM371 833H381V836H371zM311 849H321V852H311zM381 852H392V856H381zM301 875H311V878H301zM301 878H311V881H301zM392 888H402V891H392zM392 891H402V894H392zM392 894H402V897H392zM392 926H402V929H392zM392 929H402V933H392zM392 933H402V936H392zM301 942H311V945H301zM301 945H311V949H301zM381 968H392V971H381zM311 971H321V974H311zM321 987H331V990H321zM371 987H381V990H371zM331 1000H341V1003H331zM361 1000H371V1003H361zM351 1006H361V1010H351z"/>
<path fill="#4757f7" d="M361 820H371V823H361zM321 833H331V836H321zM311 852H321V856H311zM381 856H392V859H381zM301 881H311V884H301zM392 897H402V901H392zM392 901H402V904H392zM392 904H402V907H392zM392 907H402V910H392zM392 910H402V913H392zM392 913H402V917H392zM392 917H402V920H392zM392 920H402V923H392zM392 923H402V926H392zM301 936H311V939H301zM301 939H311V942H301zM381 965H392V968H381zM311 968H321V971H311zM331 997H341V1000H331zM341 1003H351V1006H341z"/>
<path fill="#475af9" d="M341 817H361V820H341zM331 823H341V827H331zM321 836H331V840H321zM371 836H381V840H371zM311 856H321V859H311zM381 859H392V862H381zM301 884H311V888H301zM301 888H311V891H301zM301 891H311V894H301zM301 929H311V933H301zM301 933H311V936H301zM381 962H392V965H381zM311 965H321V968H311zM321 984H331V987H321zM371 984H381V987H371zM361 997H371V1000H361zM351 1003H361V1006H351z"/>
<path fill="#465dfb" d="M361 823H371V827H361zM311 859H321V862H311zM381 862H392V865H381zM301 894H311V897H301zM301 897H311V901H301zM301 901H311V904H301zM301 904H311V907H301zM301 917H311V920H301zM301 920H311V923H301zM301 923H311V926H301zM301 926H311V929H301zM381 958H392V962H381zM311 962H321V965H311zM371 981H381V984H371zM331 994H341V997H331zM341 1000H351V1003H341z"/>
<path fill="#4661fc" d="M341 820H351V823H341zM331 827H341V830H331zM321 840H331V843H321zM371 840H381V843H371zM381 865H392V868H381zM301 907H311V910H301zM301 910H311V913H301zM301 913H311V917H301zM381 955H392V958H381zM311 958H321V962H311zM321 981H331V984H321zM361 994H371V997H361zM351 1000H361V1003H351z"/>
<path fill="#4464fd" d="M351 820H361V823H351zM361 827H371V830H361zM371 843H381V846H371zM311 862H321V865H311zM381 868H392V872H381zM381 952H392V955H381zM321 978H331V981H321zM371 978H381V981H371zM331 990H341V994H331z"/>
<path fill="#4367fd" d="M341 823H351V827H341zM331 830H341V833H331zM321 843H331V846H321zM311 865H321V868H311zM381 872H392V875H381zM381 949H392V952H381zM311 955H321V958H311zM361 990H371V994H361zM341 997H361V1000H341z"/>
<path fill="#416bfe" d="M351 823H361V827H351zM361 830H371V833H361zM321 846H331V849H321zM371 846H381V849H371zM311 868H321V872H311zM381 875H392V878H381zM381 942H392V945H381zM381 945H392V949H381zM311 952H321V955H311zM321 974H331V978H321zM371 974H381V978H371z"/>
<path fill="#3f6eff" d="M331 833H341V836H331zM311 872H321V875H311zM381 878H392V881H381zM381 881H392V884H381zM381 939H392V942H381zM311 949H321V952H311zM371 971H381V974H371zM331 987H341V990H331zM341 994H351V997H341z"/>
<path fill="#3c72ff" d="M341 827H351V830H341zM361 833H371V836H361zM321 849H331V852H321zM371 849H381V852H371zM311 875H321V878H311zM381 884H392V888H381zM381 936H392V939H381zM311 945H321V949H311zM321 971H331V974H321zM361 987H371V990H361zM351 994H361V997H351z"/>
<path fill="#3876fe" d="M351 827H361V830H351zM311 878H321V881H311zM381 888H392V891H381zM381 891H392V894H381zM381 929H392V933H381zM381 933H392V936H381zM311 942H321V945H311zM371 968H381V971H371zM331 984H341V987H331z"/>
<path fill="#3579fd" d="M331 836H341V840H331zM321 852H331V856H321zM371 852H381V856H371zM311 881H321V884H311zM381 894H392V897H381zM381 897H392V901H381zM381 923H392V926H381zM381 926H392V929H381zM311 939H321V942H311zM321 968H331V971H321zM361 984H371V987H361zM341 990H351V994H341z"/>
<path fill="#317dfc" d="M341 830H351V833H341zM361 836H371V840H361zM371 856H381V859H371zM311 884H321V888H311zM311 888H321V891H311zM381 901H392V904H381zM381 904H392V907H381zM381 907H392V910H381zM381 910H392V913H381zM381 913H392V917H381zM381 917H392V920H381zM381 920H392V923H381zM311 933H321V936H311zM311 936H321V939H311zM371 965H381V968H371zM331 981H341V984H331zM351 990H361V994H351z"/>
<path fill="#3080fa" d="M351 830H361V833H351zM331 840H341V843H331zM321 856H331V859H321zM311 891H321V894H311zM311 929H321V933H311zM321 965H331V968H321z"/>
<path fill="#2e83f9" d="M341 833H351V836H341zM361 840H371V843H361zM371 859H381V862H371zM311 894H321V897H311zM311 897H321V901H311zM311 923H321V926H311zM311 926H321V929H311zM371 962H381V965H371zM361 981H371V984H361zM341 987H351V990H341z"/>
<path fill="#2e86f7" d="M321 859H331V862H321zM311 901H321V904H311zM311 904H321V907H311zM311 907H321V910H311zM311 910H321V913H311zM311 913H321V917H311zM311 917H321V920H311zM311 920H321V923H311zM321 962H331V965H321zM331 978H341V981H331zM351 987H361V990H351z"/>
<path fill="#2d8af5" d="M351 833H361V836H351zM331 843H341V846H331zM371 862H381V865H371zM321 958H331V962H321zM371 958H381V962H371zM361 978H371V981H361z"/>
<path fill="#2d8df2" d="M361 843H371V846H361zM321 862H331V865H321zM341 984H351V987H341z"/>
<path fill="#2c90f0" d="M341 836H351V840H341zM331 846H341V849H331zM371 865H381V868H371zM321 955H331V958H321zM371 955H381V958H371zM331 974H341V978H331zM351 984H361V987H351z"/>
<path fill="#2a93ee" d="M351 836H361V840H351zM321 865H331V868H321zM361 974H371V978H361z"/>
<path fill="#2896ec" d="M361 846H371V849H361zM371 868H381V872H371zM321 952H331V955H321zM371 952H381V955H371zM341 981H351V984H341z"/>
<path fill="#2698ea" d="M341 840H351V843H341zM331 849H341V852H331zM321 868H331V872H321zM371 949H381V952H371zM331 971H341V974H331zM351 981H361V984H351z"/>
<path fill="#259be8" d="M351 840H361V843H351zM371 872H381V875H371zM321 949H331V952H321zM361 971H371V974H361z"/>
<path fill="#249ee6" d="M361 849H371V852H361zM321 872H331V875H321zM371 945H381V949H371zM331 968H341V971H331zM341 978H351V981H341z"/>
<path fill="#23a1e5" d="M341 843H351V846H341zM331 852H341V856H331zM321 875H331V878H321zM371 875H381V878H371zM321 945H331V949H321z"/>
<path fill="#21a3e3" d="M371 878H381V881H371zM371 942H381V945H371zM361 968H371V971H361zM351 978H361V981H351z"/>
<path fill="#1fa6e2" d="M351 843H361V846H351zM361 852H371V856H361zM321 878H331V881H321zM321 942H331V945H321zM331 965H341V968H331z"/>
<path fill="#1da9e0" d="M331 856H341V859H331zM371 881H381V884H371zM321 939H331V942H321zM371 939H381V942H371zM341 974H351V978H341z"/>
<path fill="#1babde" d="M341 846H351V849H341zM321 881H331V884H321zM371 884H381V888H371zM371 936H381V939H371z"/>
<path fill="#18addb" d="M361 856H371V859H361zM321 884H331V888H321zM371 933H381V936H371zM321 936H331V939H321zM361 965H371V968H361zM351 974H361V978H351z"/>
<path fill="#14b0d8" d="M351 846H361V849H351zM331 859H341V862H331zM371 888H381V891H371zM321 933H331V936H321zM331 962H341V965H331z"/>
<path fill="#10b2d5" d="M321 888H331V891H321zM371 891H381V894H371zM371 929H381V933H371zM341 971H351V974H341z"/>
<path fill="#0ab4d2" d="M341 849H351V852H341zM321 891H331V894H321zM371 894H381V897H371zM371 926H381V929H371zM321 929H331V933H321zM361 962H371V965H361zM351 971H361V974H351z"/>
<path fill="#05b6ce" d="M361 859H371V862H361zM331 862H341V865H331zM321 894H331V897H321zM371 897H381V901H371zM371 901H381V904H371zM371 920H381V923H371zM371 923H381V926H371zM321 926H331V929H321zM331 958H341V962H331z"/>
<path fill="#02b7cb" d="M351 849H361V852H351zM321 897H331V901H321zM321 901H331V904H321zM371 904H381V907H371zM371 907H381V910H371zM371 910H381V913H371zM371 913H381V917H371zM371 917H381V920H371zM321 920H331V923H321zM321 923H331V926H321zM341 968H351V971H341z"/>
<path fill="#01b9c7" d="M321 904H331V907H321zM321 907H331V910H321zM321 910H331V913H321zM321 913H331V917H321zM321 917H331V920H321zM361 958H371V962H361z"/>
<path fill="#02bbc3" d="M341 852H351V856H341zM361 862H371V865H361zM331 865H341V868H331zM331 955H341V958H331zM351 968H361V971H351z"/>
<path fill="#0ebdbb" d="M351 852H361V856H351zM361 955H371V958H361zM341 965H351V968H341z"/>
<path fill="#16bfb7" d="M361 865H371V868H361zM331 952H341V955H331z"/>
<path fill="#1dc0b3" d="M341 856H351V859H341zM331 868H341V872H331z"/>
<path fill="#23c1af" d="M361 952H371V955H361zM351 965H361V968H351z"/>
<path fill="#28c3ab" d="M351 856H361V859H351zM361 868H371V872H361zM331 872H341V875H331zM331 949H341V952H331zM341 962H351V965H341z"/>
<path fill="#30c5a2" d="M341 859H351V862H341z"/>
<path fill="#33c69d" d="M361 872H371V875H361zM331 875H341V878H331zM331 945H341V949H331zM361 949H371V952H361zM351 962H361V965H351z"/>
<path fill="#36c898" d="M351 859H361V862H351zM341 958H351V962H341z"/>
<path fill="#3ac993" d="M331 942H341V945H331z"/>
<path fill="#3fca8e" d="M341 862H351V865H341zM361 875H371V878H361zM331 878H341V881H331zM361 945H371V949H361z"/>
<path fill="#45cb88" d="M351 958H361V962H351z"/>
<path fill="#4ccb83" d="M351 862H361V865H351zM331 939H341V942H331z"/>
<path fill="#53cc7d" d="M361 878H371V881H361zM331 881H341V884H331zM361 942H371V945H361zM341 955H351V958H341z"/>
<path fill="#5bcc77" d="M341 865H351V868H341zM331 936H341V939H331z"/>
<path fill="#62cd70" d="M331 884H341V888H331zM361 939H371V942H361zM351 955H361V958H351z"/>
<path fill="#6acd6a" d="M351 865H361V868H351zM361 881H371V884H361z"/>
<path fill="#72cd63" d="M331 888H341V891H331zM331 933H341V936H331zM341 952H351V955H341z"/>
<path fill="#7bcc5d" d="M341 868H351V872H341zM361 936H371V939H361z"/>
<path fill="#83cc57" d="M361 884H371V888H361zM331 891H341V894H331zM331 929H341V933H331zM351 952H361V955H351z"/>
<path fill="#8ccb50" d="M361 933H371V936H361z"/>
<path fill="#94ca4a" d="M351 868H361V872H351zM361 888H371V891H361zM331 894H341V897H331zM331 926H341V929H331zM341 949H351V952H341z"/>
<path fill="#9cc943" d="M341 872H351V875H341zM331 897H341V901H331zM331 923H341V926H331z"/>
<path fill="#a4c83e" d="M361 891H371V894H361zM331 920H341V923H331zM361 929H371V933H361z"/>
<path fill="#acc738" d="M331 901H341V904H331zM331 904H341V907H331zM331 917H341V920H331zM361 926H371V929H361zM341 945H351V949H341zM351 949H361V952H351z"/>
<path fill="#b4c533" d="M351 872H361V875H351zM341 875H351V878H341zM361 894H371V897H361zM331 907H341V910H331zM331 910H341V913H331zM331 913H341V917H331z"/>
<path fill="#bcc42f" d="M361 897H371V901H361zM361 923H371V926H361z"/>
<path fill="#c3c22b" d="M361 920H371V923H361z"/>
<path fill="#cac129" d="M361 901H371V904H361zM361 904H371V907H361zM361 917H371V920H361zM341 942H351V945H341zM351 945H361V949H351z"/>
<path fill="#d1bf27" d="M351 875H361V878H351zM341 878H351V881H341zM361 907H371V910H361zM361 910H371V913H361zM361 913H371V917H361z"/>
<path fill="#ddbd29" d="M351 942H361V945H351z"/>
<path fill="#e3bb2c" d="M341 939H351V942H341z"/>
<path fill="#e9bb30" d="M351 878H361V881H351zM341 881H351V884H341z"/>
<path fill="#f3ba39" d="M341 936H351V939H341zM351 939H361V942H351z"/>
<path fill="#f8ba3d" d="M351 881H361V884H351zM341 884H351V888H341z"/>
<path fill="#febf3c" d="M341 933H351V936H341z"/>
<path fill="#fec239" d="M341 888H351V891H341zM351 936H361V939H351z"/>
<path fill="#fec537" d="M351 884H361V888H351z"/>
<path fill="#fec934" d="M341 891H351V894H341zM341 929H351V933H341z"/>
<path fill="#fdcc32" d="M351 933H361V936H351z"/>
<path fill="#fcd030" d="M351 888H361V891H351zM341 926H351V929H341z"/>
<path fill="#fbd42e" d="M341 894H351V897H341z"/>
<path fill="#f9d72c" d="M351 891H361V894H351zM341 897H351V901H341zM341 923H351V926H341zM351 929H361V933H351z"/>
<path fill="#f6df29" d="M341 901H351V904H341zM341 920H351V923H341zM351 926H361V929H351z"/>
<path fill="#f5e227" d="M351 894H361V897H351zM341 904H351V907H341zM341 913H351V917H341zM341 917H351V920H341z"/>
<path fill="#f5e626" d="M341 907H351V910H341zM341 910H351V913H341zM351 923H361V926H351z"/>
<path fill="#f5ea24" d="M351 897H361V901H351z"/>
<path fill="#f5ed22" d="M351 901H361V904H351zM351 920H361V923H351z"/>
<path fill="#f6f11f" d="M351 904H361V907H351zM351 917H361V920H351z"/>
<path fill="#f7f41c" d="M351 907H361V910H351zM351 910H361V913H351zM351 913H361V917H351z"/>
</g>
<path d="M160.6 797.8V1054.6M261 797.8V1054.6M361.4 797.8V1054.6M461.8 797.8V1054.6M562.2 797.8V1054.6M110.4 1028.9H612.4M110.4 977.6H612.4M110.4 926.2H612.4M110.4 874.8H612.4M110.4 823.5H612.4" fill="none" stroke="#f2f0fa" stroke-opacity=".88" stroke-width="1.25" stroke-dasharray="2.3 4.7" stroke-dashoffset="3.75"/>
<path d="M160.6 1054.6v-5M160.6 797.8v5M261 1054.6v-5M261 797.8v5M361.4 1054.6v-5M361.4 797.8v5M461.8 1054.6v-5M461.8 797.8v5M562.2 1054.6v-5M562.2 797.8v5M110.4 1028.9h5M612.4 1028.9h-5M110.4 977.6h5M612.4 977.6h-5M110.4 926.2h5M612.4 926.2h-5M110.4 874.8h5M612.4 874.8h-5M110.4 823.5h5M612.4 823.5h-5" fill="none" stroke="#262626" stroke-width="1.1"/>
<rect x="110.4" y="797.8" width="502" height="256.8" fill="none" stroke="#262626" stroke-opacity=".8" stroke-width="1.1"/>
<g font-size="27.5" fill="#262626">
<text x="160.6" y="1093.6" text-anchor="middle">-40</text>
<text x="261" y="1093.6" text-anchor="middle">-20</text>
<text x="361.4" y="1093.6" text-anchor="middle">0</text>
<text x="461.8" y="1093.6" text-anchor="middle">20</text>
<text x="562.2" y="1093.6" text-anchor="middle">40</text>
<text x="99.3" y="1039.8" text-anchor="end">-40</text>
<text x="99.3" y="988.5" text-anchor="end">-20</text>
<text x="99.3" y="937.1" text-anchor="end">0</text>
<text x="99.3" y="885.7" text-anchor="end">20</text>
<text x="99.3" y="834.4" text-anchor="end">40</text>
</g>
<text x="360.9" y="1132.9" text-anchor="middle" font-size="30" fill="#262626">X (mm)</text>
<text transform="translate(45.5 928) rotate(-90)" text-anchor="middle" font-size="30" fill="#262626">Y (mm)</text>
<path d="M164.5 798.5V1053.9" stroke="#fff" stroke-width="5.3" fill="none"/>
<path d="M137.6 926.4H299.3" stroke="#fff" stroke-width="3.6" fill="none"/>
<path d="M315.1 926.4l-24.8 -10.4l4.3 10.4l-4.3 10.4z" fill="#fff"/>
<text transform="translate(255.7 914.2) scale(.92 1)" fill="#fff" font-weight="bold" font-size="65.8">C</text>
<text fill="#fff" font-weight="bold" font-size="31.6" text-anchor="end" transform="translate(255.7 882.8) scale(.97 1)">10</text>
<text x="183.3" y="1038" fill="#fff" font-size="41.4">PMMA</text>
<rect x="632" y="797.8" width="37.3" height="256.8" fill="url(#pg)" stroke="#3c3c3c" stroke-width="1.1"/>
<g font-size="24.75" fill="#262626">
<text x="678.6" y="1005.6">2</text>
<text x="678.6" y="946.9">4</text>
<text x="678.6" y="888.1">6</text>
<text x="678.6" y="829.4">8</text>
</g>
<path d="M669.3 996.4h-4.5M669.3 937.7h-4.5M669.3 878.9h-4.5M669.3 820.2h-4.5" fill="none" stroke="#262626" stroke-width="1.3"/>
<text fill="#262626" font-size="24"><tspan x="670.6" y="787.4" font-size="28.5">×</tspan><tspan x="689.7" y="783.7" textLength="24.6" lengthAdjust="spacingAndGlyphs">10</tspan><tspan x="716.3" y="773.2" font-size="21">5</tspan></text>
<text transform="translate(726.4 926.7) rotate(-90)" text-anchor="middle" font-size="24.6" fill="#262626">Coincidence events</text>
</g>
<g id="p4">
<g shape-rendering="crispEdges">
<rect x="871.4" y="797.8" width="502" height="256.8" fill="#3f29af"/>
<path fill="#3e26a8" d="M871.4 797.8H912V801H871.4zM1333 797.8H1373.4V801H1333zM871.4 801H912V804H871.4zM1333 801H1373.4V804H1333zM871.4 804H912V807H871.4zM1333 804H1373.4V807H1333zM871.4 807H912V811H871.4zM1333 807H1373.4V811H1333zM871.4 811H912V814H871.4zM1333 811H1373.4V814H1333zM871.4 814H912V817H871.4zM1333 814H1373.4V817H1333zM871.4 817H912V820H871.4zM1333 817H1373.4V820H1333zM871.4 820H912V823H871.4zM1333 820H1373.4V823H1333zM871.4 823H912V827H871.4zM1333 823H1373.4V827H1333zM871.4 827H912V830H871.4zM1333 827H1373.4V830H1333zM871.4 830H912V833H871.4zM1333 830H1373.4V833H1333zM871.4 833H912V836H871.4zM1333 833H1373.4V836H1333zM871.4 836H912V840H871.4zM1333 836H1373.4V840H1333zM871.4 840H912V843H871.4zM1333 840H1373.4V843H1333zM871.4 843H912V846H871.4zM1333 843H1373.4V846H1333zM871.4 846H912V849H871.4zM1333 846H1373.4V849H1333zM871.4 849H912V852H871.4zM1333 849H1373.4V852H1333zM871.4 852H912V856H871.4zM1333 852H1373.4V856H1333zM871.4 856H912V859H871.4zM1333 856H1373.4V859H1333zM871.4 859H912V862H871.4zM1333 859H1373.4V862H1333zM871.4 862H912V865H871.4zM1333 862H1373.4V865H1333zM871.4 865H912V868H871.4zM1333 865H1373.4V868H1333zM871.4 868H912V872H871.4zM1333 868H1373.4V872H1333zM871.4 872H912V875H871.4zM1333 872H1373.4V875H1333zM871.4 875H912V878H871.4zM1333 875H1373.4V878H1333zM871.4 878H912V881H871.4zM1333 878H1373.4V881H1333zM871.4 881H912V884H871.4zM1333 881H1373.4V884H1333zM871.4 884H912V888H871.4zM1333 884H1373.4V888H1333zM871.4 888H912V891H871.4zM1333 888H1373.4V891H1333zM871.4 891H912V894H871.4zM1333 891H1373.4V894H1333zM871.4 894H912V897H871.4zM1333 894H1373.4V897H1333zM871.4 897H912V901H871.4zM1333 897H1373.4V901H1333zM871.4 901H912V904H871.4zM1333 901H1373.4V904H1333zM871.4 904H912V907H871.4zM1333 904H1373.4V907H1333zM871.4 907H912V910H871.4zM1333 907H1373.4V910H1333zM871.4 910H912V913H871.4zM1333 910H1373.4V913H1333zM871.4 913H912V917H871.4zM1333 913H1373.4V917H1333zM871.4 917H912V920H871.4zM1333 917H1373.4V920H1333zM871.4 920H912V923H871.4zM1333 920H1373.4V923H1333zM871.4 923H912V926H871.4zM1333 923H1373.4V926H1333zM871.4 926H912V929H871.4zM1333 926H1373.4V929H1333zM871.4 929H912V933H871.4zM1333 929H1373.4V933H1333zM871.4 933H912V936H871.4zM1333 933H1373.4V936H1333zM871.4 936H912V939H871.4zM1333 936H1373.4V939H1333zM871.4 939H912V942H871.4zM1333 939H1373.4V942H1333zM871.4 942H912V945H871.4zM1333 942H1373.4V945H1333zM871.4 945H912V949H871.4zM1333 945H1373.4V949H1333zM871.4 949H912V952H871.4zM1333 949H1373.4V952H1333zM871.4 952H912V955H871.4zM1333 952H1373.4V955H1333zM871.4 955H912V958H871.4zM1333 955H1373.4V958H1333zM871.4 958H912V962H871.4zM1333 958H1373.4V962H1333zM871.4 962H912V965H871.4zM1333 962H1373.4V965H1333zM871.4 965H912V968H871.4zM1333 965H1373.4V968H1333zM871.4 968H912V971H871.4zM1333 968H1373.4V971H1333zM871.4 971H912V974H871.4zM1333 971H1373.4V974H1333zM871.4 974H912V978H871.4zM1333 974H1373.4V978H1333zM871.4 978H912V981H871.4zM1333 978H1373.4V981H1333zM871.4 981H912V984H871.4zM1333 981H1373.4V984H1333zM871.4 984H912V987H871.4zM1333 984H1373.4V987H1333zM871.4 987H912V990H871.4zM1333 987H1373.4V990H1333zM871.4 990H912V994H871.4zM1333 990H1373.4V994H1333zM871.4 994H912V997H871.4zM1333 994H1373.4V997H1333zM871.4 997H912V1000H871.4zM1333 997H1373.4V1000H1333zM871.4 1000H912V1003H871.4zM1333 1000H1373.4V1003H1333zM871.4 1003H912V1006H871.4zM1333 1003H1373.4V1006H1333zM871.4 1006H912V1010H871.4zM1333 1006H1373.4V1010H1333zM871.4 1010H912V1013H871.4zM1333 1010H1373.4V1013H1333zM871.4 1013H912V1016H871.4zM1333 1013H1373.4V1016H1333zM871.4 1016H912V1019H871.4zM1333 1016H1373.4V1019H1333zM871.4 1019H912V1022H871.4zM1333 1019H1373.4V1022H1333zM871.4 1022H912V1026H871.4zM1333 1022H1373.4V1026H1333zM871.4 1026H912V1029H871.4zM1333 1026H1373.4V1029H1333zM871.4 1029H912V1032H871.4zM1333 1029H1373.4V1032H1333zM871.4 1032H912V1035H871.4zM1333 1032H1373.4V1035H1333zM871.4 1035H912V1039H871.4zM1333 1035H1373.4V1039H1333zM871.4 1039H912V1042H871.4zM1333 1039H1373.4V1042H1333zM871.4 1042H912V1045H871.4zM1333 1042H1373.4V1045H1333zM871.4 1045H912V1048H871.4zM1333 1045H1373.4V1048H1333zM871.4 1048H912V1051H871.4zM1333 1048H1373.4V1051H1333zM871.4 1051H912V1054.6H871.4zM1333 1051H1373.4V1054.6H1333z"/>
<path fill="#402bb6" d="M992 797.8H1022V801H992zM1223 797.8H1253V801H1223zM992 801H1022V804H992zM1223 801H1253V804H1223zM992 804H1022V807H992zM1223 804H1253V807H1223zM992 807H1022V811H992zM1223 807H1253V811H1223zM992 811H1022V814H992zM1223 811H1253V814H1223zM992 814H1022V817H992zM1223 814H1253V817H1223zM992 817H1022V820H992zM1223 817H1253V820H1223zM992 820H1022V823H992zM1223 820H1253V823H1223zM992 823H1022V827H992zM1223 823H1253V827H1223zM992 827H1022V830H992zM1223 827H1253V830H1223zM992 830H1022V833H992zM1223 830H1253V833H1223zM992 833H1022V836H992zM1223 833H1253V836H1223zM992 836H1022V840H992zM1223 836H1253V840H1223zM992 840H1022V843H992zM1223 840H1253V843H1223zM992 843H1022V846H992zM1223 843H1253V846H1223zM992 846H1022V849H992zM1223 846H1253V849H1223zM992 849H1022V852H992zM1223 849H1253V852H1223zM992 852H1022V856H992zM1223 852H1253V856H1223zM992 856H1022V859H992zM1223 856H1253V859H1223zM992 859H1022V862H992zM1223 859H1253V862H1223zM992 862H1022V865H992zM1223 862H1253V865H1223zM992 865H1022V868H992zM1223 865H1253V868H1223zM992 868H1022V872H992zM1223 868H1253V872H1223zM992 872H1022V875H992zM1223 872H1253V875H1223zM992 875H1022V878H992zM1223 875H1253V878H1223zM992 878H1022V881H992zM1223 878H1253V881H1223zM992 881H1022V884H992zM1223 881H1253V884H1223zM992 884H1022V888H992zM1223 884H1253V888H1223zM992 888H1022V891H992zM1223 888H1253V891H1223zM992 891H1022V894H992zM1223 891H1253V894H1223zM992 894H1022V897H992zM1223 894H1253V897H1223zM992 897H1022V901H992zM1223 897H1253V901H1223zM992 901H1022V904H992zM1223 901H1253V904H1223zM992 904H1022V907H992zM1223 904H1253V907H1223zM992 907H1022V910H992zM1223 907H1253V910H1223zM992 910H1022V913H992zM1223 910H1253V913H1223zM992 913H1022V917H992zM1223 913H1253V917H1223zM992 917H1022V920H992zM1223 917H1253V920H1223zM992 920H1022V923H992zM1223 920H1253V923H1223zM992 923H1022V926H992zM1223 923H1253V926H1223zM992 926H1022V929H992zM1223 926H1253V929H1223zM992 929H1022V933H992zM1223 929H1253V933H1223zM992 933H1022V936H992zM1223 933H1253V936H1223zM992 936H1022V939H992zM1223 936H1253V939H1223zM992 939H1022V942H992zM1223 939H1253V942H1223zM992 942H1022V945H992zM1223 942H1253V945H1223zM992 945H1022V949H992zM1223 945H1253V949H1223zM992 949H1022V952H992zM1223 949H1253V952H1223zM992 952H1022V955H992zM1223 952H1253V955H1223zM992 955H1022V958H992zM1223 955H1253V958H1223zM992 958H1022V962H992zM1223 958H1253V962H1223zM992 962H1022V965H992zM1223 962H1253V965H1223zM992 965H1022V968H992zM1223 965H1253V968H1223zM992 968H1022V971H992zM1223 968H1253V971H1223zM992 971H1022V974H992zM1223 971H1253V974H1223zM992 974H1022V978H992zM1223 974H1253V978H1223zM992 978H1022V981H992zM1223 978H1253V981H1223zM992 981H1022V984H992zM1223 981H1253V984H1223zM992 984H1022V987H992zM1223 984H1253V987H1223zM992 987H1022V990H992zM1223 987H1253V990H1223zM992 990H1022V994H992zM1223 990H1253V994H1223zM992 994H1022V997H992zM1223 994H1253V997H1223zM992 997H1022V1000H992zM1223 997H1253V1000H1223zM992 1000H1022V1003H992zM1223 1000H1253V1003H1223zM992 1003H1022V1006H992zM1223 1003H1253V1006H1223zM992 1006H1022V1010H992zM1223 1006H1253V1010H1223zM992 1010H1022V1013H992zM1223 1010H1253V1013H1223zM992 1013H1022V1016H992zM1223 1013H1253V1016H1223zM992 1016H1022V1019H992zM1223 1016H1253V1019H1223zM992 1019H1022V1022H992zM1223 1019H1253V1022H1223zM992 1022H1022V1026H992zM1223 1022H1253V1026H1223zM992 1026H1022V1029H992zM1223 1026H1253V1029H1223zM992 1029H1022V1032H992zM1223 1029H1253V1032H1223zM992 1032H1022V1035H992zM1223 1032H1253V1035H1223zM992 1035H1022V1039H992zM1223 1035H1253V1039H1223zM992 1039H1022V1042H992zM1223 1039H1253V1042H1223zM992 1042H1022V1045H992zM1223 1042H1253V1045H1223zM992 1045H1022V1048H992zM1223 1045H1253V1048H1223zM992 1048H1022V1051H992zM1223 1048H1253V1051H1223zM992 1051H1022V1054.6H992zM1223 1051H1253V1054.6H1223z"/>
<path fill="#412dbd" d="M1022 797.8H1052V801H1022zM1203 797.8H1223V801H1203zM1022 801H1042V804H1022zM1203 801H1223V804H1203zM1022 804H1042V807H1022zM1203 804H1223V807H1203zM1022 807H1042V811H1022zM1203 807H1223V811H1203zM1022 811H1042V814H1022zM1203 811H1223V814H1203zM1022 814H1042V817H1022zM1203 814H1223V817H1203zM1022 817H1042V820H1022zM1203 817H1223V820H1203zM1022 820H1042V823H1022zM1203 820H1223V823H1203zM1022 823H1042V827H1022zM1203 823H1223V827H1203zM1022 827H1042V830H1022zM1203 827H1223V830H1203zM1022 830H1042V833H1022zM1203 830H1223V833H1203zM1022 833H1042V836H1022zM1203 833H1223V836H1203zM1022 836H1042V840H1022zM1203 836H1223V840H1203zM1022 840H1042V843H1022zM1203 840H1223V843H1203zM1022 843H1042V846H1022zM1203 843H1223V846H1203zM1022 846H1042V849H1022zM1203 846H1223V849H1203zM1022 849H1042V852H1022zM1213 849H1223V852H1213zM1022 852H1042V856H1022zM1213 852H1223V856H1213zM1022 856H1042V859H1022zM1213 856H1223V859H1213zM1022 859H1042V862H1022zM1213 859H1223V862H1213zM1022 862H1042V865H1022zM1213 862H1223V865H1213zM1022 865H1042V868H1022zM1213 865H1223V868H1213zM1022 868H1042V872H1022zM1213 868H1223V872H1213zM1022 872H1042V875H1022zM1213 872H1223V875H1213zM1022 875H1042V878H1022zM1213 875H1223V878H1213zM1022 878H1042V881H1022zM1213 878H1223V881H1213zM1022 881H1042V884H1022zM1213 881H1223V884H1213zM1022 884H1042V888H1022zM1213 884H1223V888H1213zM1022 888H1042V891H1022zM1213 888H1223V891H1213zM1022 891H1042V894H1022zM1213 891H1223V894H1213zM1022 894H1042V897H1022zM1213 894H1223V897H1213zM1022 897H1042V901H1022zM1213 897H1223V901H1213zM1022 901H1042V904H1022zM1213 901H1223V904H1213zM1022 904H1042V907H1022zM1213 904H1223V907H1213zM1022 907H1042V910H1022zM1213 907H1223V910H1213zM1022 910H1042V913H1022zM1213 910H1223V913H1213zM1022 913H1042V917H1022zM1213 913H1223V917H1213zM1022 917H1042V920H1022zM1213 917H1223V920H1213zM1022 920H1042V923H1022zM1213 920H1223V923H1213zM1022 923H1042V926H1022zM1213 923H1223V926H1213zM1022 926H1042V929H1022zM1213 926H1223V929H1213zM1022 929H1042V933H1022zM1213 929H1223V933H1213zM1022 933H1042V936H1022zM1213 933H1223V936H1213zM1022 936H1042V939H1022zM1213 936H1223V939H1213zM1022 939H1042V942H1022zM1213 939H1223V942H1213zM1022 942H1042V945H1022zM1213 942H1223V945H1213zM1022 945H1042V949H1022zM1213 945H1223V949H1213zM1022 949H1042V952H1022zM1213 949H1223V952H1213zM1022 952H1042V955H1022zM1213 952H1223V955H1213zM1022 955H1042V958H1022zM1213 955H1223V958H1213zM1022 958H1042V962H1022zM1213 958H1223V962H1213zM1022 962H1042V965H1022zM1213 962H1223V965H1213zM1022 965H1042V968H1022zM1213 965H1223V968H1213zM1022 968H1042V971H1022zM1213 968H1223V971H1213zM1022 971H1042V974H1022zM1213 971H1223V974H1213zM1022 974H1042V978H1022zM1213 974H1223V978H1213zM1022 978H1042V981H1022zM1213 978H1223V981H1213zM1022 981H1042V984H1022zM1203 981H1223V984H1203zM1022 984H1042V987H1022zM1203 984H1223V987H1203zM1022 987H1042V990H1022zM1203 987H1223V990H1203zM1022 990H1042V994H1022zM1203 990H1223V994H1203zM1022 994H1042V997H1022zM1203 994H1223V997H1203zM1022 997H1042V1000H1022zM1203 997H1223V1000H1203zM1022 1000H1042V1003H1022zM1203 1000H1223V1003H1203zM1022 1003H1042V1006H1022zM1203 1003H1223V1006H1203zM1022 1006H1042V1010H1022zM1203 1006H1223V1010H1203zM1022 1010H1042V1013H1022zM1203 1010H1223V1013H1203zM1022 1013H1042V1016H1022zM1203 1013H1223V1016H1203zM1022 1016H1042V1019H1022zM1203 1016H1223V1019H1203zM1022 1019H1042V1022H1022zM1203 1019H1223V1022H1203zM1022 1022H1042V1026H1022zM1203 1022H1223V1026H1203zM1022 1026H1042V1029H1022zM1203 1026H1223V1029H1203zM1022 1029H1042V1032H1022zM1203 1029H1223V1032H1203zM1022 1032H1042V1035H1022zM1203 1032H1223V1035H1203zM1022 1035H1042V1039H1022zM1203 1035H1223V1039H1203zM1022 1039H1042V1042H1022zM1203 1039H1223V1042H1203zM1022 1042H1042V1045H1022zM1203 1042H1223V1045H1203zM1022 1045H1042V1048H1022zM1203 1045H1223V1048H1203zM1022 1048H1052V1051H1022zM1203 1048H1223V1051H1203zM1022 1051H1052V1054.6H1022zM1203 1051H1223V1054.6H1203z"/>
<path fill="#4230c3" d="M1052 797.8H1062V801H1052zM1193 797.8H1203V801H1193zM1042 801H1062V804H1042zM1193 801H1203V804H1193zM1042 804H1062V807H1042zM1193 804H1203V807H1193zM1042 807H1062V811H1042zM1193 807H1203V811H1193zM1042 811H1052V814H1042zM1193 811H1203V814H1193zM1042 814H1052V817H1042zM1193 814H1203V817H1193zM1042 817H1052V820H1042zM1193 817H1203V820H1193zM1042 820H1052V823H1042zM1193 820H1203V823H1193zM1042 823H1052V827H1042zM1193 823H1203V827H1193zM1042 827H1052V830H1042zM1193 827H1203V830H1193zM1042 830H1052V833H1042zM1193 830H1203V833H1193zM1042 833H1052V836H1042zM1193 833H1203V836H1193zM1042 836H1052V840H1042zM1042 840H1052V843H1042zM1042 843H1052V846H1042zM1042 846H1052V849H1042zM1042 849H1052V852H1042zM1203 849H1213V852H1203zM1042 852H1052V856H1042zM1203 852H1213V856H1203zM1042 856H1052V859H1042zM1203 856H1213V859H1203zM1042 859H1052V862H1042zM1203 859H1213V862H1203zM1042 862H1052V865H1042zM1203 862H1213V865H1203zM1042 865H1052V868H1042zM1203 865H1213V868H1203zM1042 868H1052V872H1042zM1203 868H1213V872H1203zM1042 872H1052V875H1042zM1203 872H1213V875H1203zM1042 875H1052V878H1042zM1203 875H1213V878H1203zM1042 878H1052V881H1042zM1203 878H1213V881H1203zM1042 881H1052V884H1042zM1203 881H1213V884H1203zM1042 884H1052V888H1042zM1203 884H1213V888H1203zM1042 888H1052V891H1042zM1203 888H1213V891H1203zM1042 891H1052V894H1042zM1203 891H1213V894H1203zM1042 894H1052V897H1042zM1203 894H1213V897H1203zM1042 897H1052V901H1042zM1203 897H1213V901H1203zM1042 901H1052V904H1042zM1203 901H1213V904H1203zM1042 904H1052V907H1042zM1203 904H1213V907H1203zM1042 907H1052V910H1042zM1203 907H1213V910H1203zM1042 910H1052V913H1042zM1203 910H1213V913H1203zM1042 913H1052V917H1042zM1203 913H1213V917H1203zM1042 917H1052V920H1042zM1203 917H1213V920H1203zM1042 920H1052V923H1042zM1203 920H1213V923H1203zM1042 923H1052V926H1042zM1203 923H1213V926H1203zM1042 926H1052V929H1042zM1203 926H1213V929H1203zM1042 929H1052V933H1042zM1203 929H1213V933H1203zM1042 933H1052V936H1042zM1203 933H1213V936H1203zM1042 936H1052V939H1042zM1203 936H1213V939H1203zM1042 939H1052V942H1042zM1203 939H1213V942H1203zM1042 942H1052V945H1042zM1203 942H1213V945H1203zM1042 945H1052V949H1042zM1203 945H1213V949H1203zM1042 949H1052V952H1042zM1203 949H1213V952H1203zM1042 952H1052V955H1042zM1203 952H1213V955H1203zM1042 955H1052V958H1042zM1203 955H1213V958H1203zM1042 958H1052V962H1042zM1203 958H1213V962H1203zM1042 962H1052V965H1042zM1203 962H1213V965H1203zM1042 965H1052V968H1042zM1203 965H1213V968H1203zM1042 968H1052V971H1042zM1203 968H1213V971H1203zM1042 971H1052V974H1042zM1203 971H1213V974H1203zM1042 974H1052V978H1042zM1203 974H1213V978H1203zM1042 978H1052V981H1042zM1203 978H1213V981H1203zM1042 981H1052V984H1042zM1042 984H1052V987H1042zM1042 987H1052V990H1042zM1042 990H1052V994H1042zM1042 994H1052V997H1042zM1042 997H1052V1000H1042zM1042 1000H1052V1003H1042zM1193 1000H1203V1003H1193zM1042 1003H1052V1006H1042zM1193 1003H1203V1006H1193zM1042 1006H1052V1010H1042zM1193 1006H1203V1010H1193zM1042 1010H1052V1013H1042zM1193 1010H1203V1013H1193zM1042 1013H1052V1016H1042zM1193 1013H1203V1016H1193zM1042 1016H1052V1019H1042zM1193 1016H1203V1019H1193zM1042 1019H1052V1022H1042zM1193 1019H1203V1022H1193zM1042 1022H1052V1026H1042zM1193 1022H1203V1026H1193zM1042 1026H1052V1029H1042zM1193 1026H1203V1029H1193zM1042 1029H1052V1032H1042zM1193 1029H1203V1032H1193zM1042 1032H1052V1035H1042zM1193 1032H1203V1035H1193zM1042 1035H1052V1039H1042zM1193 1035H1203V1039H1193zM1042 1039H1062V1042H1042zM1193 1039H1203V1042H1193zM1042 1042H1062V1045H1042zM1193 1042H1203V1045H1193zM1042 1045H1062V1048H1042zM1193 1045H1203V1048H1193zM1052 1048H1062V1051H1052zM1193 1048H1203V1051H1193zM1052 1051H1062V1054.6H1052zM1193 1051H1203V1054.6H1193z"/>
<path fill="#4332ca" d="M1062 797.8H1072V801H1062zM1183 797.8H1193V801H1183zM1183 801H1193V804H1183zM1183 804H1193V807H1183zM1183 807H1193V811H1183zM1052 811H1062V814H1052zM1183 811H1193V814H1183zM1052 814H1062V817H1052zM1052 817H1062V820H1052zM1052 820H1062V823H1052zM1052 823H1062V827H1052zM1052 827H1062V830H1052zM1052 830H1062V833H1052zM1052 833H1062V836H1052zM1052 836H1062V840H1052zM1193 836H1203V840H1193zM1052 840H1062V843H1052zM1193 840H1203V843H1193zM1052 843H1062V846H1052zM1193 843H1203V846H1193zM1052 846H1062V849H1052zM1193 846H1203V849H1193zM1052 849H1062V852H1052zM1193 849H1203V852H1193zM1052 852H1062V856H1052zM1193 852H1203V856H1193zM1052 856H1062V859H1052zM1193 856H1203V859H1193zM1052 859H1062V862H1052zM1193 859H1203V862H1193zM1052 862H1062V865H1052zM1193 862H1203V865H1193zM1052 865H1062V868H1052zM1193 865H1203V868H1193zM1052 868H1062V872H1052zM1193 868H1203V872H1193zM1052 872H1062V875H1052zM1193 872H1203V875H1193zM1052 875H1062V878H1052zM1193 875H1203V878H1193zM1052 878H1062V881H1052zM1193 878H1203V881H1193zM1052 881H1062V884H1052zM1193 881H1203V884H1193zM1052 884H1062V888H1052zM1193 884H1203V888H1193zM1052 888H1062V891H1052zM1193 888H1203V891H1193zM1052 891H1062V894H1052zM1193 891H1203V894H1193zM1052 894H1062V897H1052zM1193 894H1203V897H1193zM1052 897H1062V901H1052zM1193 897H1203V901H1193zM1052 901H1062V904H1052zM1193 901H1203V904H1193zM1052 904H1062V907H1052zM1193 904H1203V907H1193zM1052 907H1062V910H1052zM1193 907H1203V910H1193zM1052 910H1062V913H1052zM1193 910H1203V913H1193zM1052 913H1062V917H1052zM1193 913H1203V917H1193zM1052 917H1062V920H1052zM1193 917H1203V920H1193zM1052 920H1062V923H1052zM1193 920H1203V923H1193zM1052 923H1062V926H1052zM1193 923H1203V926H1193zM1052 926H1062V929H1052zM1193 926H1203V929H1193zM1052 929H1062V933H1052zM1193 929H1203V933H1193zM1052 933H1062V936H1052zM1193 933H1203V936H1193zM1052 936H1062V939H1052zM1193 936H1203V939H1193zM1052 939H1062V942H1052zM1193 939H1203V942H1193zM1052 942H1062V945H1052zM1193 942H1203V945H1193zM1052 945H1062V949H1052zM1193 945H1203V949H1193zM1052 949H1062V952H1052zM1193 949H1203V952H1193zM1052 952H1062V955H1052zM1193 952H1203V955H1193zM1052 955H1062V958H1052zM1193 955H1203V958H1193zM1052 958H1062V962H1052zM1193 958H1203V962H1193zM1052 962H1062V965H1052zM1193 962H1203V965H1193zM1052 965H1062V968H1052zM1193 965H1203V968H1193zM1052 968H1062V971H1052zM1193 968H1203V971H1193zM1052 971H1062V974H1052zM1193 971H1203V974H1193zM1052 974H1062V978H1052zM1193 974H1203V978H1193zM1052 978H1062V981H1052zM1193 978H1203V981H1193zM1052 981H1062V984H1052zM1193 981H1203V984H1193zM1052 984H1062V987H1052zM1193 984H1203V987H1193zM1052 987H1062V990H1052zM1193 987H1203V990H1193zM1052 990H1062V994H1052zM1193 990H1203V994H1193zM1052 994H1062V997H1052zM1193 994H1203V997H1193zM1052 997H1062V1000H1052zM1193 997H1203V1000H1193zM1052 1000H1062V1003H1052zM1052 1003H1062V1006H1052zM1052 1006H1062V1010H1052zM1052 1010H1062V1013H1052zM1052 1013H1062V1016H1052zM1052 1016H1062V1019H1052zM1052 1019H1062V1022H1052zM1052 1022H1062V1026H1052zM1052 1026H1062V1029H1052zM1052 1029H1062V1032H1052zM1052 1032H1062V1035H1052zM1183 1032H1193V1035H1183zM1052 1035H1062V1039H1052zM1183 1035H1193V1039H1183zM1183 1039H1193V1042H1183zM1183 1042H1193V1045H1183zM1183 1045H1193V1048H1183zM1183 1048H1193V1051H1183zM1062 1051H1072V1054.6H1062zM1183 1051H1193V1054.6H1183z"/>
<path fill="#4434d0" d="M1062 801H1072V804H1062zM1062 804H1072V807H1062zM1062 807H1072V811H1062zM1062 811H1072V814H1062zM1062 814H1072V817H1062zM1183 814H1193V817H1183zM1062 817H1072V820H1062zM1183 817H1193V820H1183zM1062 820H1072V823H1062zM1183 820H1193V823H1183zM1062 823H1072V827H1062zM1183 823H1193V827H1183zM1062 827H1072V830H1062zM1183 827H1193V830H1183zM1183 830H1193V833H1183zM1183 833H1193V836H1183zM1183 836H1193V840H1183zM1183 840H1193V843H1183zM1183 843H1193V846H1183zM1183 846H1193V849H1183zM1183 849H1193V852H1183zM1183 852H1193V856H1183zM1183 968H1193V971H1183zM1183 971H1193V974H1183zM1183 974H1193V978H1183zM1183 978H1193V981H1183zM1183 981H1193V984H1183zM1183 984H1193V987H1183zM1183 987H1193V990H1183zM1183 990H1193V994H1183zM1183 994H1193V997H1183zM1183 997H1193V1000H1183zM1183 1000H1193V1003H1183zM1183 1003H1193V1006H1183zM1183 1006H1193V1010H1183zM1062 1010H1072V1013H1062zM1183 1010H1193V1013H1183zM1062 1013H1072V1016H1062zM1183 1013H1193V1016H1183zM1062 1016H1072V1019H1062zM1183 1016H1193V1019H1183zM1062 1019H1072V1022H1062zM1183 1019H1193V1022H1183zM1062 1022H1072V1026H1062zM1183 1022H1193V1026H1183zM1062 1026H1072V1029H1062zM1183 1026H1193V1029H1183zM1062 1029H1072V1032H1062zM1183 1029H1193V1032H1183zM1062 1032H1072V1035H1062zM1062 1035H1072V1039H1062zM1062 1039H1072V1042H1062zM1062 1042H1072V1045H1062zM1062 1045H1072V1048H1062zM1062 1048H1072V1051H1062z"/>
<path fill="#4537d6" d="M1072 797.8H1082V801H1072zM1173 797.8H1183V801H1173zM1072 801H1082V804H1072zM1173 801H1183V804H1173zM1173 804H1183V807H1173zM1173 807H1183V811H1173zM1173 811H1183V814H1173zM1173 814H1183V817H1173zM1062 830H1072V833H1062zM1062 833H1072V836H1062zM1062 836H1072V840H1062zM1062 840H1072V843H1062zM1062 843H1072V846H1062zM1062 846H1072V849H1062zM1062 849H1072V852H1062zM1062 852H1072V856H1062zM1062 856H1072V859H1062zM1183 856H1193V859H1183zM1062 859H1072V862H1062zM1183 859H1193V862H1183zM1062 862H1072V865H1062zM1183 862H1193V865H1183zM1062 865H1072V868H1062zM1183 865H1193V868H1183zM1062 868H1072V872H1062zM1183 868H1193V872H1183zM1062 872H1072V875H1062zM1183 872H1193V875H1183zM1062 875H1072V878H1062zM1183 875H1193V878H1183zM1062 878H1072V881H1062zM1183 878H1193V881H1183zM1183 881H1193V884H1183zM1183 884H1193V888H1183zM1183 888H1193V891H1183zM1183 891H1193V894H1183zM1183 894H1193V897H1183zM1183 897H1193V901H1183zM1183 901H1193V904H1183zM1183 904H1193V907H1183zM1183 907H1193V910H1183zM1183 910H1193V913H1183zM1183 913H1193V917H1183zM1183 917H1193V920H1183zM1183 920H1193V923H1183zM1062 923H1072V926H1062zM1183 923H1193V926H1183zM1062 926H1072V929H1062zM1183 926H1193V929H1183zM1062 929H1072V933H1062zM1183 929H1193V933H1183zM1062 933H1072V936H1062zM1183 933H1193V936H1183zM1062 936H1072V939H1062zM1183 936H1193V939H1183zM1062 939H1072V942H1062zM1183 939H1193V942H1183zM1062 942H1072V945H1062zM1183 942H1193V945H1183zM1062 945H1072V949H1062zM1183 945H1193V949H1183zM1062 949H1072V952H1062zM1183 949H1193V952H1183zM1062 952H1072V955H1062zM1183 952H1193V955H1183zM1062 955H1072V958H1062zM1183 955H1193V958H1183zM1062 958H1072V962H1062zM1183 958H1193V962H1183zM1062 962H1072V965H1062zM1183 962H1193V965H1183zM1062 965H1072V968H1062zM1183 965H1193V968H1183zM1062 968H1072V971H1062zM1062 971H1072V974H1062zM1062 974H1072V978H1062zM1062 978H1072V981H1062zM1062 981H1072V984H1062zM1062 984H1072V987H1062zM1062 987H1072V990H1062zM1062 990H1072V994H1062zM1062 994H1072V997H1062zM1062 997H1072V1000H1062zM1062 1000H1072V1003H1062zM1062 1003H1072V1006H1062zM1062 1006H1072V1010H1062zM1173 1029H1183V1032H1173zM1173 1032H1183V1035H1173zM1173 1035H1183V1039H1173zM1173 1039H1183V1042H1173zM1072 1042H1082V1045H1072zM1173 1042H1183V1045H1173zM1072 1045H1082V1048H1072zM1173 1045H1183V1048H1173zM1072 1048H1082V1051H1072zM1173 1048H1183V1051H1173zM1072 1051H1082V1054.6H1072zM1173 1051H1183V1054.6H1173z"/>
<path fill="#463adb" d="M1072 804H1082V807H1072zM1072 807H1082V811H1072zM1072 811H1082V814H1072zM1072 814H1082V817H1072zM1072 817H1082V820H1072zM1173 817H1183V820H1173zM1072 820H1082V823H1072zM1173 820H1183V823H1173zM1173 823H1183V827H1173zM1173 827H1183V830H1173zM1173 830H1183V833H1173zM1173 833H1183V836H1173zM1062 881H1072V884H1062zM1062 884H1072V888H1062zM1062 888H1072V891H1062zM1062 891H1072V894H1062zM1062 894H1072V897H1062zM1062 897H1072V901H1062zM1062 901H1072V904H1062zM1062 904H1072V907H1062zM1062 907H1072V910H1062zM1062 910H1072V913H1062zM1062 913H1072V917H1062zM1062 917H1072V920H1062zM1062 920H1072V923H1062zM1173 997H1183V1000H1173zM1173 1000H1183V1003H1173zM1173 1003H1183V1006H1173zM1173 1006H1183V1010H1173zM1173 1010H1183V1013H1173zM1173 1013H1183V1016H1173zM1173 1016H1183V1019H1173zM1072 1019H1082V1022H1072zM1173 1019H1183V1022H1173zM1072 1022H1082V1026H1072zM1173 1022H1183V1026H1173zM1072 1026H1082V1029H1072zM1173 1026H1183V1029H1173zM1072 1029H1082V1032H1072zM1072 1032H1082V1035H1072zM1072 1035H1082V1039H1072zM1072 1039H1082V1042H1072z"/>
<path fill="#463de0" d="M1163 797.8H1173V801H1163zM1163 801H1173V804H1163zM1163 804H1173V807H1163zM1072 823H1082V827H1072zM1072 827H1082V830H1072zM1072 830H1082V833H1072zM1072 833H1082V836H1072zM1072 836H1082V840H1072zM1173 836H1183V840H1173zM1072 840H1082V843H1072zM1173 840H1183V843H1173zM1173 843H1183V846H1173zM1173 846H1183V849H1173zM1173 849H1183V852H1173zM1173 852H1183V856H1173zM1173 856H1183V859H1173zM1173 859H1183V862H1173zM1173 862H1183V865H1173zM1173 865H1183V868H1173zM1173 868H1183V872H1173zM1173 936H1183V939H1173zM1173 939H1183V942H1173zM1173 942H1183V945H1173zM1173 945H1183V949H1173zM1173 949H1183V952H1173zM1173 952H1183V955H1173zM1173 955H1183V958H1173zM1173 958H1183V962H1173zM1173 962H1183V965H1173zM1173 965H1183V968H1173zM1173 968H1183V971H1173zM1173 971H1183V974H1173zM1173 974H1183V978H1173zM1173 978H1183V981H1173zM1173 981H1183V984H1173zM1173 984H1183V987H1173zM1072 987H1082V990H1072zM1173 987H1183V990H1173zM1072 990H1082V994H1072zM1173 990H1183V994H1173zM1072 994H1082V997H1072zM1173 994H1183V997H1173zM1072 997H1082V1000H1072zM1072 1000H1082V1003H1072zM1072 1003H1082V1006H1072zM1072 1006H1082V1010H1072zM1072 1010H1082V1013H1072zM1072 1013H1082V1016H1072zM1072 1016H1082V1019H1072zM1163 1042H1173V1045H1163zM1163 1045H1173V1048H1163zM1163 1048H1173V1051H1163zM1082 1051H1092V1054.6H1082zM1163 1051H1173V1054.6H1163z"/>
<path fill="#4740e4" d="M1082 797.8H1092V801H1082zM1082 801H1092V804H1082zM1082 804H1092V807H1082zM1163 807H1173V811H1163zM1163 811H1173V814H1163zM1163 814H1173V817H1163zM1072 843H1082V846H1072zM1072 846H1082V849H1072zM1072 849H1082V852H1072zM1072 852H1082V856H1072zM1072 856H1082V859H1072zM1072 859H1082V862H1072zM1072 862H1082V865H1072zM1072 865H1082V868H1072zM1072 868H1082V872H1072zM1072 872H1082V875H1072zM1173 872H1183V875H1173zM1072 875H1082V878H1072zM1173 875H1183V878H1173zM1173 878H1183V881H1173zM1173 881H1183V884H1173zM1173 884H1183V888H1173zM1173 888H1183V891H1173zM1173 891H1183V894H1173zM1173 894H1183V897H1173zM1173 897H1183V901H1173zM1173 901H1183V904H1173zM1173 904H1183V907H1173zM1173 907H1183V910H1173zM1173 910H1183V913H1173zM1173 913H1183V917H1173zM1173 917H1183V920H1173zM1173 920H1183V923H1173zM1072 923H1082V926H1072zM1173 923H1183V926H1173zM1072 926H1082V929H1072zM1173 926H1183V929H1173zM1072 929H1082V933H1072zM1173 929H1183V933H1173zM1072 933H1082V936H1072zM1173 933H1183V936H1173zM1072 936H1082V939H1072zM1072 939H1082V942H1072zM1072 942H1082V945H1072zM1072 945H1082V949H1072zM1072 949H1082V952H1072zM1072 952H1082V955H1072zM1072 955H1082V958H1072zM1072 958H1082V962H1072zM1072 962H1082V965H1072zM1072 965H1082V968H1072zM1072 968H1082V971H1072zM1072 971H1082V974H1072zM1072 974H1082V978H1072zM1072 978H1082V981H1072zM1072 981H1082V984H1072zM1072 984H1082V987H1072zM1163 1026H1173V1029H1163zM1163 1029H1173V1032H1163zM1163 1032H1173V1035H1163zM1163 1035H1173V1039H1163zM1082 1039H1092V1042H1082zM1163 1039H1173V1042H1163zM1082 1042H1092V1045H1082zM1082 1045H1092V1048H1082zM1082 1048H1092V1051H1082z"/>
<path fill="#4743e7" d="M1082 807H1092V811H1082zM1082 811H1092V814H1082zM1082 814H1092V817H1082zM1082 817H1092V820H1082zM1163 817H1173V820H1163zM1163 820H1173V823H1163zM1163 823H1173V827H1163zM1163 827H1173V830H1163zM1072 878H1082V881H1072zM1072 881H1082V884H1072zM1072 884H1082V888H1072zM1072 888H1082V891H1072zM1072 891H1082V894H1072zM1072 894H1082V897H1072zM1072 897H1082V901H1072zM1072 901H1082V904H1072zM1072 904H1082V907H1072zM1072 907H1082V910H1072zM1072 910H1082V913H1072zM1072 913H1082V917H1072zM1072 917H1082V920H1072zM1072 920H1082V923H1072zM1163 1006H1173V1010H1163zM1163 1010H1173V1013H1163zM1163 1013H1173V1016H1163zM1163 1016H1173V1019H1163zM1163 1019H1173V1022H1163zM1082 1022H1092V1026H1082zM1163 1022H1173V1026H1163zM1082 1026H1092V1029H1082zM1082 1029H1092V1032H1082zM1082 1032H1092V1035H1082zM1082 1035H1092V1039H1082z"/>
<path fill="#4747eb" d="M1082 820H1092V823H1082zM1082 823H1092V827H1082zM1082 827H1092V830H1082zM1163 830H1173V833H1163zM1163 833H1173V836H1163zM1163 836H1173V840H1163zM1163 840H1173V843H1163zM1163 843H1173V846H1163zM1163 981H1173V984H1163zM1163 984H1173V987H1163zM1163 987H1173V990H1163zM1163 990H1173V994H1163zM1163 994H1173V997H1163zM1163 997H1173V1000H1163zM1163 1000H1173V1003H1163zM1163 1003H1173V1006H1163zM1082 1006H1092V1010H1082zM1082 1010H1092V1013H1082zM1082 1013H1092V1016H1082zM1082 1016H1092V1019H1082zM1082 1019H1092V1022H1082z"/>
<path fill="#484aee" d="M1153 797.8H1163V801H1153zM1082 830H1092V833H1082zM1082 833H1092V836H1082zM1082 836H1092V840H1082zM1082 840H1092V843H1082zM1082 843H1092V846H1082zM1163 846H1173V849H1163zM1163 849H1173V852H1163zM1163 852H1173V856H1163zM1163 856H1173V859H1163zM1163 859H1173V862H1163zM1163 862H1173V865H1163zM1163 865H1173V868H1163zM1163 939H1173V942H1163zM1163 942H1173V945H1163zM1163 945H1173V949H1163zM1163 949H1173V952H1163zM1163 952H1173V955H1163zM1163 955H1173V958H1163zM1163 958H1173V962H1163zM1163 962H1173V965H1163zM1163 965H1173V968H1163zM1163 968H1173V971H1163zM1163 971H1173V974H1163zM1163 974H1173V978H1163zM1163 978H1173V981H1163zM1082 984H1092V987H1082zM1082 987H1092V990H1082zM1082 990H1092V994H1082zM1082 994H1092V997H1082zM1082 997H1092V1000H1082zM1082 1000H1092V1003H1082zM1082 1003H1092V1006H1082zM1153 1048H1163V1051H1153zM1153 1051H1163V1054.6H1153z"/>
<path fill="#484df0" d="M1153 801H1163V804H1153zM1153 804H1163V807H1153zM1082 846H1092V849H1082zM1082 849H1092V852H1082zM1082 852H1092V856H1082zM1082 856H1092V859H1082zM1082 859H1092V862H1082zM1163 868H1173V872H1163zM1163 872H1173V875H1163zM1163 875H1173V878H1163zM1163 878H1173V881H1163zM1163 881H1173V884H1163zM1163 884H1173V888H1163zM1163 888H1173V891H1163zM1163 891H1173V894H1163zM1163 894H1173V897H1163zM1163 897H1173V901H1163zM1163 901H1173V904H1163zM1163 904H1173V907H1163zM1163 907H1173V910H1163zM1163 910H1173V913H1163zM1163 913H1173V917H1163zM1163 917H1173V920H1163zM1163 920H1173V923H1163zM1163 923H1173V926H1163zM1163 926H1173V929H1163zM1163 929H1173V933H1163zM1163 933H1173V936H1163zM1163 936H1173V939H1163zM1082 952H1092V955H1082zM1082 955H1092V958H1082zM1082 958H1092V962H1082zM1082 962H1092V965H1082zM1082 965H1092V968H1082zM1082 968H1092V971H1082zM1082 971H1092V974H1082zM1082 974H1092V978H1082zM1082 978H1092V981H1082zM1082 981H1092V984H1082zM1153 1042H1163V1045H1153zM1153 1045H1163V1048H1153z"/>
<path fill="#4850f3" d="M1092 797.8H1102V801H1092zM1092 801H1102V804H1092zM1153 807H1163V811H1153zM1153 811H1163V814H1153zM1082 862H1092V865H1082zM1082 865H1092V868H1082zM1082 868H1092V872H1082zM1082 872H1092V875H1082zM1082 875H1092V878H1082zM1082 878H1092V881H1082zM1082 881H1092V884H1082zM1082 884H1092V888H1082zM1082 888H1092V891H1082zM1082 891H1092V894H1082zM1082 894H1092V897H1082zM1082 897H1092V901H1082zM1082 901H1092V904H1082zM1082 904H1092V907H1082zM1082 907H1092V910H1082zM1082 910H1092V913H1082zM1082 913H1092V917H1082zM1082 917H1092V920H1082zM1082 920H1092V923H1082zM1082 923H1092V926H1082zM1082 926H1092V929H1082zM1082 929H1092V933H1082zM1082 933H1092V936H1082zM1082 936H1092V939H1082zM1082 939H1092V942H1082zM1082 942H1092V945H1082zM1082 945H1092V949H1082zM1082 949H1092V952H1082zM1153 1032H1163V1035H1153zM1153 1035H1163V1039H1153zM1153 1039H1163V1042H1153zM1092 1045H1102V1048H1092zM1092 1048H1102V1051H1092zM1092 1051H1102V1054.6H1092z"/>
<path fill="#4854f5" d="M1092 804H1102V807H1092zM1153 814H1163V817H1153zM1153 817H1163V820H1153zM1153 1022H1163V1026H1153zM1153 1026H1163V1029H1153zM1153 1029H1163V1032H1153zM1092 1039H1102V1042H1092zM1092 1042H1102V1045H1092z"/>
<path fill="#4757f7" d="M1092 807H1102V811H1092zM1092 811H1102V814H1092zM1153 820H1163V823H1153zM1153 823H1163V827H1153zM1153 1013H1163V1016H1153zM1153 1016H1163V1019H1153zM1153 1019H1163V1022H1153zM1092 1032H1102V1035H1092zM1092 1035H1102V1039H1092z"/>
<path fill="#475af9" d="M1092 814H1102V817H1092zM1092 817H1102V820H1092zM1153 827H1163V830H1153zM1153 830H1163V833H1153zM1153 833H1163V836H1153zM1153 1000H1163V1003H1153zM1153 1003H1163V1006H1153zM1153 1006H1163V1010H1153zM1153 1010H1163V1013H1153zM1092 1022H1102V1026H1092zM1092 1026H1102V1029H1092zM1092 1029H1102V1032H1092z"/>
<path fill="#465dfb" d="M1092 820H1102V823H1092zM1092 823H1102V827H1092zM1153 836H1163V840H1153zM1153 840H1163V843H1153zM1153 987H1163V990H1153zM1153 990H1163V994H1153zM1153 994H1163V997H1153zM1153 997H1163V1000H1153zM1092 1016H1102V1019H1092zM1092 1019H1102V1022H1092z"/>
<path fill="#4661fc" d="M1092 827H1102V830H1092zM1092 830H1102V833H1092zM1153 843H1163V846H1153zM1153 846H1163V849H1153zM1153 849H1163V852H1153zM1153 852H1163V856H1153zM1153 968H1163V971H1153zM1153 971H1163V974H1153zM1153 974H1163V978H1153zM1153 978H1163V981H1153zM1153 981H1163V984H1153zM1153 984H1163V987H1153zM1092 1006H1102V1010H1092zM1092 1010H1102V1013H1092zM1092 1013H1102V1016H1092z"/>
<path fill="#4464fd" d="M1092 833H1102V836H1092zM1092 836H1102V840H1092zM1153 856H1163V859H1153zM1153 859H1163V862H1153zM1153 862H1163V865H1153zM1153 865H1163V868H1153zM1153 942H1163V945H1153zM1153 945H1163V949H1153zM1153 949H1163V952H1153zM1153 952H1163V955H1153zM1153 955H1163V958H1153zM1153 958H1163V962H1153zM1153 962H1163V965H1153zM1153 965H1163V968H1153zM1092 994H1102V997H1092zM1092 997H1102V1000H1092zM1092 1000H1102V1003H1092zM1092 1003H1102V1006H1092z"/>
<path fill="#4367fd" d="M1092 840H1102V843H1092zM1092 843H1102V846H1092zM1153 868H1163V872H1153zM1153 872H1163V875H1153zM1153 875H1163V878H1153zM1153 878H1163V881H1153zM1153 881H1163V884H1153zM1153 884H1163V888H1153zM1153 888H1163V891H1153zM1153 891H1163V894H1153zM1153 907H1163V910H1153zM1153 910H1163V913H1153zM1153 913H1163V917H1153zM1153 917H1163V920H1153zM1153 920H1163V923H1153zM1153 923H1163V926H1153zM1153 926H1163V929H1153zM1153 929H1163V933H1153zM1153 933H1163V936H1153zM1153 936H1163V939H1153zM1153 939H1163V942H1153zM1092 981H1102V984H1092zM1092 984H1102V987H1092zM1092 987H1102V990H1092zM1092 990H1102V994H1092z"/>
<path fill="#416bfe" d="M1092 846H1102V849H1092zM1092 849H1102V852H1092zM1092 852H1102V856H1092zM1153 894H1163V897H1153zM1153 897H1163V901H1153zM1153 901H1163V904H1153zM1153 904H1163V907H1153zM1092 962H1102V965H1092zM1092 965H1102V968H1092zM1092 968H1102V971H1092zM1092 971H1102V974H1092zM1092 974H1102V978H1092zM1092 978H1102V981H1092z"/>
<path fill="#3f6eff" d="M1142 797.8H1153V801H1142zM1092 856H1102V859H1092zM1092 859H1102V862H1092zM1092 862H1102V865H1092zM1092 865H1102V868H1092zM1092 939H1102V942H1092zM1092 942H1102V945H1092zM1092 945H1102V949H1092zM1092 949H1102V952H1092zM1092 952H1102V955H1092zM1092 955H1102V958H1092zM1092 958H1102V962H1092zM1142 1051H1153V1054.6H1142z"/>
<path fill="#3c72ff" d="M1142 801H1153V804H1142zM1092 868H1102V872H1092zM1092 872H1102V875H1092zM1092 875H1102V878H1092zM1092 878H1102V881H1092zM1092 881H1102V884H1092zM1092 884H1102V888H1092zM1092 888H1102V891H1092zM1092 910H1102V913H1092zM1092 913H1102V917H1092zM1092 917H1102V920H1092zM1092 920H1102V923H1092zM1092 923H1102V926H1092zM1092 926H1102V929H1092zM1092 929H1102V933H1092zM1092 933H1102V936H1092zM1092 936H1102V939H1092zM1142 1048H1153V1051H1142z"/>
<path fill="#3876fe" d="M1092 891H1102V894H1092zM1092 894H1102V897H1092zM1092 897H1102V901H1092zM1092 901H1102V904H1092zM1092 904H1102V907H1092zM1092 907H1102V910H1092zM1142 1042H1153V1045H1142zM1142 1045H1153V1048H1142z"/>
<path fill="#3579fd" d="M1142 804H1153V807H1142zM1142 1039H1153V1042H1142zM1102 1051H1112V1054.6H1102z"/>
<path fill="#317dfc" d="M1102 797.8H1112V801H1102zM1142 807H1153V811H1142zM1142 1035H1153V1039H1142zM1102 1048H1112V1051H1102z"/>
<path fill="#3080fa" d="M1102 801H1112V804H1102zM1142 811H1153V814H1142zM1142 1032H1153V1035H1142zM1102 1045H1112V1048H1102z"/>
<path fill="#2e83f9" d="M1102 804H1112V807H1102zM1142 814H1153V817H1142zM1142 1026H1153V1029H1142zM1142 1029H1153V1032H1142zM1102 1042H1112V1045H1102z"/>
<path fill="#2e86f7" d="M1142 817H1153V820H1142zM1142 1022H1153V1026H1142zM1102 1039H1112V1042H1102z"/>
<path fill="#2d8af5" d="M1102 807H1112V811H1102zM1142 820H1153V823H1142zM1142 1019H1153V1022H1142zM1102 1035H1112V1039H1102z"/>
<path fill="#2d8df2" d="M1102 811H1112V814H1102zM1142 823H1153V827H1142zM1142 1013H1153V1016H1142zM1142 1016H1153V1019H1142zM1102 1032H1112V1035H1102z"/>
<path fill="#2c90f0" d="M1102 814H1112V817H1102zM1142 827H1153V830H1142zM1142 1010H1153V1013H1142zM1102 1029H1112V1032H1102z"/>
<path fill="#2a93ee" d="M1142 830H1153V833H1142zM1142 1003H1153V1006H1142zM1142 1006H1153V1010H1142zM1102 1026H1112V1029H1102z"/>
<path fill="#2896ec" d="M1102 817H1112V820H1102zM1142 833H1153V836H1142zM1142 997H1153V1000H1142zM1142 1000H1153V1003H1142zM1102 1022H1112V1026H1102z"/>
<path fill="#2698ea" d="M1102 820H1112V823H1102zM1142 836H1153V840H1142zM1142 840H1153V843H1142zM1142 990H1153V994H1142zM1142 994H1153V997H1142zM1102 1016H1112V1019H1102zM1102 1019H1112V1022H1102z"/>
<path fill="#259be8" d="M1102 823H1112V827H1102zM1142 843H1153V846H1142zM1142 984H1153V987H1142zM1142 987H1153V990H1142zM1102 1013H1112V1016H1102z"/>
<path fill="#249ee6" d="M1102 827H1112V830H1102zM1142 846H1153V849H1142zM1142 974H1153V978H1142zM1142 978H1153V981H1142zM1142 981H1153V984H1142zM1102 1010H1112V1013H1102z"/>
<path fill="#23a1e5" d="M1102 830H1112V833H1102zM1142 849H1153V852H1142zM1142 852H1153V856H1142zM1142 965H1153V968H1142zM1142 968H1153V971H1142zM1142 971H1153V974H1142zM1102 1003H1112V1006H1102zM1102 1006H1112V1010H1102z"/>
<path fill="#21a3e3" d="M1102 833H1112V836H1102zM1142 856H1153V859H1142zM1142 859H1153V862H1142zM1142 955H1153V958H1142zM1142 958H1153V962H1142zM1142 962H1153V965H1142zM1102 1000H1112V1003H1102z"/>
<path fill="#1fa6e2" d="M1102 836H1112V840H1102zM1142 862H1153V865H1142zM1142 865H1153V868H1142zM1142 942H1153V945H1142zM1142 945H1153V949H1142zM1142 949H1153V952H1142zM1142 952H1153V955H1142zM1102 994H1112V997H1102zM1102 997H1112V1000H1102z"/>
<path fill="#1da9e0" d="M1102 840H1112V843H1102zM1142 868H1153V872H1142zM1142 872H1153V875H1142zM1142 926H1153V929H1142zM1142 929H1153V933H1142zM1142 933H1153V936H1142zM1142 936H1153V939H1142zM1142 939H1153V942H1142zM1102 990H1112V994H1102zM1132 1051H1142V1054.6H1132z"/>
<path fill="#1babde" d="M1132 797.8H1142V801H1132zM1102 843H1112V846H1102zM1142 875H1153V878H1142zM1142 878H1153V881H1142zM1142 881H1153V884H1142zM1142 884H1153V888H1142zM1142 888H1153V891H1142zM1142 907H1153V910H1142zM1142 910H1153V913H1142zM1142 913H1153V917H1142zM1142 917H1153V920H1142zM1142 920H1153V923H1142zM1142 923H1153V926H1142zM1102 984H1112V987H1102zM1102 987H1112V990H1102z"/>
<path fill="#18addb" d="M1102 846H1112V849H1102zM1142 891H1153V894H1142zM1142 894H1153V897H1142zM1142 897H1153V901H1142zM1142 901H1153V904H1142zM1142 904H1153V907H1142zM1102 974H1112V978H1102zM1102 978H1112V981H1102zM1102 981H1112V984H1102zM1132 1048H1142V1051H1132z"/>
<path fill="#14b0d8" d="M1132 801H1142V804H1132zM1102 849H1112V852H1102zM1102 852H1112V856H1102zM1102 968H1112V971H1102zM1102 971H1112V974H1102z"/>
<path fill="#10b2d5" d="M1102 856H1112V859H1102zM1102 958H1112V962H1102zM1102 962H1112V965H1102zM1102 965H1112V968H1102zM1132 1045H1142V1048H1132zM1112 1051H1122V1054.6H1112z"/>
<path fill="#0ab4d2" d="M1112 797.8H1122V801H1112zM1102 859H1112V862H1102zM1102 862H1112V865H1102zM1102 949H1112V952H1102zM1102 952H1112V955H1102zM1102 955H1112V958H1102zM1132 1042H1142V1045H1132z"/>
<path fill="#05b6ce" d="M1132 804H1142V807H1132zM1102 865H1112V868H1102zM1102 868H1112V872H1102zM1102 936H1112V939H1102zM1102 939H1112V942H1102zM1102 942H1112V945H1102zM1102 945H1112V949H1102zM1112 1048H1122V1051H1112z"/>
<path fill="#02b7cb" d="M1112 801H1122V804H1112zM1102 872H1112V875H1102zM1102 875H1112V878H1102zM1102 923H1112V926H1102zM1102 926H1112V929H1102zM1102 929H1112V933H1102zM1102 933H1112V936H1102zM1132 1039H1142V1042H1132z"/>
<path fill="#01b9c7" d="M1132 807H1142V811H1132zM1102 878H1112V881H1102zM1102 881H1112V884H1102zM1102 884H1112V888H1102zM1102 888H1112V891H1102zM1102 891H1112V894H1102zM1102 904H1112V907H1102zM1102 907H1112V910H1102zM1102 910H1112V913H1102zM1102 913H1112V917H1102zM1102 917H1112V920H1102zM1102 920H1112V923H1102zM1132 1035H1142V1039H1132zM1112 1045H1122V1048H1112z"/>
<path fill="#02bbc3" d="M1102 894H1112V897H1102zM1102 897H1112V901H1102zM1102 901H1112V904H1102z"/>
<path fill="#08bcbf" d="M1112 804H1122V807H1112zM1132 811H1142V814H1132zM1132 1032H1142V1035H1132zM1112 1042H1122V1045H1112z"/>
<path fill="#0ebdbb" d="M1112 1039H1122V1042H1112z"/>
<path fill="#16bfb7" d="M1112 807H1122V811H1112zM1132 814H1142V817H1132zM1132 1029H1142V1032H1132z"/>
<path fill="#1dc0b3" d="M1132 1026H1142V1029H1132zM1112 1035H1122V1039H1112z"/>
<path fill="#23c1af" d="M1122 797.8H1132V801H1122zM1132 817H1142V820H1132zM1122 1051H1132V1054.6H1122z"/>
<path fill="#28c3ab" d="M1112 811H1122V814H1112zM1132 1022H1142V1026H1132zM1112 1032H1122V1035H1112z"/>
<path fill="#2cc4a6" d="M1132 820H1142V823H1132zM1132 1019H1142V1022H1132zM1122 1048H1132V1051H1122z"/>
<path fill="#30c5a2" d="M1122 801H1132V804H1122zM1112 814H1122V817H1112zM1132 1016H1142V1019H1132zM1112 1029H1122V1032H1112z"/>
<path fill="#33c69d" d="M1132 823H1142V827H1132zM1112 1026H1122V1029H1112zM1122 1045H1132V1048H1122z"/>
<path fill="#36c898" d="M1112 817H1122V820H1112zM1132 1013H1142V1016H1132z"/>
<path fill="#3ac993" d="M1122 804H1132V807H1122zM1132 827H1142V830H1132zM1132 1010H1142V1013H1132zM1112 1022H1122V1026H1112zM1122 1042H1132V1045H1122z"/>
<path fill="#3fca8e" d="M1132 1006H1142V1010H1132zM1112 1019H1122V1022H1112z"/>
<path fill="#45cb88" d="M1112 820H1122V823H1112zM1132 830H1142V833H1132zM1132 1003H1142V1006H1132zM1122 1039H1132V1042H1122z"/>
<path fill="#4ccb83" d="M1122 807H1132V811H1122zM1132 1000H1142V1003H1132zM1112 1016H1122V1019H1112z"/>
<path fill="#53cc7d" d="M1112 823H1122V827H1112zM1132 833H1142V836H1132zM1112 1013H1122V1016H1112zM1122 1035H1132V1039H1122z"/>
<path fill="#5bcc77" d="M1132 836H1142V840H1132zM1132 997H1142V1000H1132z"/>
<path fill="#62cd70" d="M1122 811H1132V814H1122zM1112 827H1122V830H1112zM1132 994H1142V997H1132zM1112 1010H1122V1013H1112zM1122 1032H1132V1035H1122z"/>
<path fill="#6acd6a" d="M1132 840H1142V843H1132zM1132 987H1142V990H1132zM1132 990H1142V994H1132zM1112 1006H1122V1010H1112z"/>
<path fill="#72cd63" d="M1112 830H1122V833H1112zM1132 843H1142V846H1132zM1132 984H1142V987H1132zM1112 1003H1122V1006H1112zM1122 1029H1132V1032H1122z"/>
<path fill="#7bcc5d" d="M1122 814H1132V817H1122zM1132 981H1142V984H1132z"/>
<path fill="#83cc57" d="M1112 833H1122V836H1112zM1132 846H1142V849H1132zM1132 978H1142V981H1132zM1112 1000H1122V1003H1112zM1122 1026H1132V1029H1122z"/>
<path fill="#8ccb50" d="M1132 849H1142V852H1132zM1132 971H1142V974H1132zM1132 974H1142V978H1132zM1112 997H1122V1000H1112z"/>
<path fill="#94ca4a" d="M1122 817H1132V820H1122zM1112 836H1122V840H1112zM1132 852H1142V856H1132zM1132 968H1142V971H1132zM1112 994H1122V997H1112zM1122 1022H1132V1026H1122z"/>
<path fill="#9cc943" d="M1112 840H1122V843H1112zM1132 856H1142V859H1132zM1132 962H1142V965H1132zM1132 965H1142V968H1132zM1112 990H1122V994H1112z"/>
<path fill="#a4c83e" d="M1122 820H1132V823H1122zM1132 955H1142V958H1132zM1132 958H1142V962H1132zM1112 987H1122V990H1112zM1122 1019H1132V1022H1122z"/>
<path fill="#acc738" d="M1112 843H1122V846H1112zM1132 859H1142V862H1132zM1132 949H1142V952H1132zM1132 952H1142V955H1132zM1112 984H1122V987H1112z"/>
<path fill="#b4c533" d="M1112 846H1122V849H1112zM1132 862H1142V865H1132zM1132 942H1142V945H1132zM1132 945H1142V949H1132zM1112 981H1122V984H1112zM1122 1016H1132V1019H1122z"/>
<path fill="#bcc42f" d="M1122 823H1132V827H1122zM1132 865H1142V868H1132zM1132 868H1142V872H1132zM1132 936H1142V939H1132zM1132 939H1142V942H1132zM1112 978H1122V981H1112z"/>
<path fill="#c3c22b" d="M1112 849H1122V852H1112zM1132 872H1142V875H1132zM1132 929H1142V933H1132zM1132 933H1142V936H1132zM1112 971H1122V974H1112zM1112 974H1122V978H1112zM1122 1013H1132V1016H1122z"/>
<path fill="#cac129" d="M1112 852H1122V856H1112zM1132 875H1142V878H1132zM1132 878H1142V881H1132zM1132 923H1142V926H1132zM1132 926H1142V929H1132zM1112 968H1122V971H1112zM1122 1010H1132V1013H1122z"/>
<path fill="#d1bf27" d="M1122 827H1132V830H1122zM1132 881H1142V884H1132zM1132 884H1142V888H1132zM1132 910H1142V913H1132zM1132 913H1142V917H1132zM1132 917H1142V920H1132zM1132 920H1142V923H1132zM1112 962H1122V965H1112zM1112 965H1122V968H1112z"/>
<path fill="#d7be28" d="M1112 856H1122V859H1112zM1132 888H1142V891H1132zM1132 891H1142V894H1132zM1132 894H1142V897H1132zM1132 897H1142V901H1132zM1132 901H1142V904H1132zM1132 904H1142V907H1132zM1132 907H1142V910H1132zM1112 958H1122V962H1112zM1122 1006H1132V1010H1122z"/>
<path fill="#ddbd29" d="M1122 830H1132V833H1122zM1112 859H1122V862H1112zM1112 952H1122V955H1112zM1112 955H1122V958H1112z"/>
<path fill="#e3bb2c" d="M1112 862H1122V865H1112zM1112 945H1122V949H1112zM1112 949H1122V952H1112zM1122 1003H1132V1006H1122z"/>
<path fill="#e9bb30" d="M1122 833H1132V836H1122zM1112 865H1122V868H1112zM1112 939H1122V942H1112zM1112 942H1122V945H1112zM1122 1000H1132V1003H1122z"/>
<path fill="#eeba34" d="M1112 868H1122V872H1112zM1112 933H1122V936H1112zM1112 936H1122V939H1112z"/>
<path fill="#f3ba39" d="M1112 872H1122V875H1112zM1112 926H1122V929H1112zM1112 929H1122V933H1112zM1122 997H1132V1000H1122z"/>
<path fill="#f8ba3d" d="M1122 836H1132V840H1122zM1112 875H1122V878H1112zM1112 878H1122V881H1112zM1112 920H1122V923H1112zM1112 923H1122V926H1112zM1122 994H1132V997H1122z"/>
<path fill="#fcbc3d" d="M1112 881H1122V884H1112zM1112 884H1122V888H1112zM1112 888H1122V891H1112zM1112 910H1122V913H1112zM1112 913H1122V917H1112zM1112 917H1122V920H1112zM1122 990H1132V994H1122z"/>
<path fill="#febf3c" d="M1122 840H1132V843H1122zM1112 891H1122V894H1112zM1112 894H1122V897H1112zM1112 897H1122V901H1112zM1112 901H1122V904H1112zM1112 904H1122V907H1112zM1112 907H1122V910H1112z"/>
<path fill="#fec239" d="M1122 987H1132V990H1122z"/>
<path fill="#fec537" d="M1122 843H1132V846H1122zM1122 984H1132V987H1122z"/>
<path fill="#fec934" d="M1122 981H1132V984H1122z"/>
<path fill="#fdcc32" d="M1122 846H1132V849H1122zM1122 978H1132V981H1122z"/>
<path fill="#fcd030" d="M1122 849H1132V852H1122zM1122 974H1132V978H1122z"/>
<path fill="#fbd42e" d="M1122 971H1132V974H1122z"/>
<path fill="#f9d72c" d="M1122 852H1132V856H1122zM1122 965H1132V968H1122zM1122 968H1132V971H1122z"/>
<path fill="#f7db2b" d="M1122 962H1132V965H1122z"/>
<path fill="#f6df29" d="M1122 856H1132V859H1122zM1122 958H1132V962H1122z"/>
<path fill="#f5e227" d="M1122 859H1132V862H1122zM1122 952H1132V955H1122zM1122 955H1132V958H1122z"/>
<path fill="#f5e626" d="M1122 862H1132V865H1122zM1122 949H1132V952H1122z"/>
<path fill="#f5ea24" d="M1122 942H1132V945H1122zM1122 945H1132V949H1122z"/>
<path fill="#f5ed22" d="M1122 865H1132V868H1122zM1122 939H1132V942H1122z"/>
<path fill="#f6f11f" d="M1122 868H1132V872H1122zM1122 933H1132V936H1122zM1122 936H1132V939H1122z"/>
<path fill="#f7f41c" d="M1122 872H1132V875H1122zM1122 929H1132V933H1122z"/>
<path fill="#f8f718" d="M1122 875H1132V878H1122zM1122 878H1132V881H1122zM1122 923H1132V926H1122zM1122 926H1132V929H1122z"/>
<path fill="#f9fb15" d="M1122 881H1132V884H1122zM1122 884H1132V888H1122zM1122 888H1132V891H1122zM1122 891H1132V894H1122zM1122 894H1132V897H1122zM1122 897H1132V901H1122zM1122 901H1132V904H1122zM1122 904H1132V907H1122zM1122 907H1132V910H1122zM1122 910H1132V913H1122zM1122 913H1132V917H1122zM1122 917H1132V920H1122zM1122 920H1132V923H1122z"/>
</g>
<path d="M921.6 797.8V1054.6M1022 797.8V1054.6M1122.4 797.8V1054.6M1222.8 797.8V1054.6M1323.2 797.8V1054.6M871.4 1028.9H1373.4M871.4 977.6H1373.4M871.4 926.2H1373.4M871.4 874.8H1373.4M871.4 823.5H1373.4" fill="none" stroke="#f2f0fa" stroke-opacity=".88" stroke-width="1.25" stroke-dasharray="2.3 4.7" stroke-dashoffset="3.75"/>
<path d="M921.6 1054.6v-5M921.6 797.8v5M1022 1054.6v-5M1022 797.8v5M1122.4 1054.6v-5M1122.4 797.8v5M1222.8 1054.6v-5M1222.8 797.8v5M1323.2 1054.6v-5M1323.2 797.8v5M871.4 1028.9h5M1373.4 1028.9h-5M871.4 977.6h5M1373.4 977.6h-5M871.4 926.2h5M1373.4 926.2h-5M871.4 874.8h5M1373.4 874.8h-5M871.4 823.5h5M1373.4 823.5h-5" fill="none" stroke="#262626" stroke-width="1.1"/>
<rect x="871.4" y="797.8" width="502" height="256.8" fill="none" stroke="#262626" stroke-opacity=".8" stroke-width="1.1"/>
<g font-size="27.5" fill="#262626">
<text x="921.6" y="1093.6" text-anchor="middle">-40</text>
<text x="1022" y="1093.6" text-anchor="middle">-20</text>
<text x="1122.4" y="1093.6" text-anchor="middle">0</text>
<text x="1222.8" y="1093.6" text-anchor="middle">20</text>
<text x="1323.2" y="1093.6" text-anchor="middle">40</text>
<text x="859.3" y="1039.8" text-anchor="end">-40</text>
<text x="859.3" y="988.5" text-anchor="end">-20</text>
<text x="859.3" y="937.1" text-anchor="end">0</text>
<text x="859.3" y="885.7" text-anchor="end">20</text>
<text x="859.3" y="834.4" text-anchor="end">40</text>
</g>
<text x="1121.9" y="1132.9" text-anchor="middle" font-size="30" fill="#262626">X (mm)</text>
<text transform="translate(806.5 928) rotate(-90)" text-anchor="middle" font-size="30" fill="#262626">Y (mm)</text>
<path d="M924.9 798.5V1053.9" stroke="#fff" stroke-width="5.3" fill="none"/>
<path d="M930.8 926.4H1093" stroke="#fff" stroke-width="3.6" fill="none"/>
<path d="M1108.8 926.4l-24.8 -10.4l4.3 10.4l-4.3 10.4z" fill="#fff"/>
<text transform="translate(1044.5 918.3) scale(.92 1)" fill="#fff" font-weight="bold" font-size="65.8">C</text>
<text fill="#fff" font-weight="bold" font-size="31.6" text-anchor="end" transform="translate(1044.5 886.9) scale(.97 1)">11</text>
<text x="946.6" y="1042" fill="#fff" font-size="41.4">PMMA</text>
<rect x="1392.8" y="797.8" width="37.3" height="256.8" fill="url(#pg)" stroke="#3c3c3c" stroke-width="1.1"/>
<g font-size="24.75" fill="#262626">
<text x="1439.4" y="1063.8">0</text>
<text x="1439.4" y="986.1">1</text>
<text x="1439.4" y="908.4">2</text>
<text x="1439.4" y="830.7">3</text>
</g>
<path d="M1430.1 1054.6h-4.5M1430.1 976.9h-4.5M1430.1 899.2h-4.5M1430.1 821.5h-4.5" fill="none" stroke="#262626" stroke-width="1.3"/>
<text fill="#262626" font-size="24"><tspan x="1431.4" y="787.4" font-size="28.5">×</tspan><tspan x="1450.5" y="783.7" textLength="24.6" lengthAdjust="spacingAndGlyphs">10</tspan><tspan x="1477.1" y="773.2" font-size="21">6</tspan></text>
<text transform="translate(1486.4 926.7) rotate(-90)" text-anchor="middle" font-size="24.6" fill="#262626">Coincidence events</text>
</g>
<g id="p5">
<g shape-rendering="crispEdges">
<rect x="110.4" y="1177.2" width="502" height="256.8" fill="#4230c3"/>
<path fill="#3e26a8" d="M110.4 1177.2H151V1184H110.4zM110.4 1184H151V1190H110.4zM110.4 1190H151V1197H110.4zM110.4 1197H151V1203H110.4zM110.4 1203H151V1209H110.4zM110.4 1209H151V1216H110.4zM110.4 1216H151V1222H110.4zM110.4 1222H151V1229H110.4zM110.4 1229H151V1235H110.4zM110.4 1235H151V1241H110.4zM110.4 1241H151V1248H110.4zM110.4 1248H151V1254H110.4zM110.4 1254H151V1261H110.4zM110.4 1261H151V1267H110.4zM110.4 1267H151V1274H110.4zM110.4 1274H151V1280H110.4zM110.4 1280H151V1286H110.4zM110.4 1286H151V1293H110.4zM110.4 1293H151V1299H110.4zM110.4 1299H151V1306H110.4zM110.4 1306H151V1312H110.4zM110.4 1312H151V1318H110.4zM110.4 1318H151V1325H110.4zM110.4 1325H151V1331H110.4zM110.4 1331H151V1338H110.4zM110.4 1338H151V1344H110.4zM110.4 1344H151V1351H110.4zM110.4 1351H151V1357H110.4zM110.4 1357H151V1363H110.4zM110.4 1363H151V1370H110.4zM110.4 1370H151V1376H110.4zM110.4 1376H151V1383H110.4zM110.4 1383H151V1389H110.4zM110.4 1389H151V1396H110.4zM110.4 1396H151V1402H110.4zM110.4 1402H151V1408H110.4zM110.4 1408H151V1415H110.4zM110.4 1415H151V1421H110.4zM110.4 1421H151V1428H110.4zM110.4 1428H151V1434H110.4z"/>
<path fill="#3f29af" d="M151 1177.2H161V1184H151zM151 1184H161V1190H151zM151 1190H161V1197H151zM151 1197H161V1203H151zM151 1203H161V1209H151zM151 1209H161V1216H151zM151 1216H161V1222H151zM151 1222H161V1229H151zM151 1229H161V1235H151zM151 1235H161V1241H151zM151 1241H161V1248H151zM151 1248H161V1254H151zM151 1254H161V1261H151zM151 1261H161V1267H151zM151 1267H161V1274H151zM151 1318H161V1325H151zM151 1325H161V1331H151zM151 1331H161V1338H151zM151 1338H161V1344H151zM151 1344H161V1351H151zM151 1351H161V1357H151zM151 1357H161V1363H151zM151 1363H161V1370H151zM151 1370H161V1376H151zM151 1376H161V1383H151zM151 1383H161V1389H151zM151 1389H161V1396H151zM151 1396H161V1402H151zM151 1402H161V1408H151zM151 1408H161V1415H151zM151 1415H171V1421H151zM151 1421H171V1428H151zM151 1428H171V1434H151z"/>
<path fill="#402bb6" d="M161 1177.2H171V1184H161zM161 1184H171V1190H161zM161 1190H171V1197H161zM161 1197H171V1203H161zM161 1203H171V1209H161zM161 1209H171V1216H161zM151 1274H161V1280H151zM151 1280H161V1286H151zM151 1286H161V1293H151zM151 1293H161V1299H151zM151 1299H161V1306H151zM151 1306H161V1312H151zM151 1312H161V1318H151zM161 1383H171V1389H161zM161 1389H171V1396H161zM161 1396H171V1402H161zM161 1402H171V1408H161zM161 1408H171V1415H161zM171 1428H181V1434H171z"/>
<path fill="#412dbd" d="M171 1177.2H181V1184H171zM552 1177.2H612.4V1184H552zM171 1184H181V1190H171zM582 1184H612.4V1190H582zM171 1190H181V1197H171zM161 1216H171V1222H161zM161 1222H171V1229H161zM161 1229H171V1235H161zM161 1357H171V1363H161zM161 1363H171V1370H161zM161 1370H171V1376H161zM161 1376H171V1383H161zM171 1402H181V1408H171zM602 1402H612.4V1408H602zM171 1408H181V1415H171zM572 1408H612.4V1415H572zM171 1415H191V1421H171zM532 1415H612.4V1421H532zM171 1421H201V1428H171zM492 1421H612.4V1428H492zM181 1428H241V1434H181zM442 1428H612.4V1434H442z"/>
<path fill="#4332ca" d="M231 1177.2H281V1184H231zM402 1177.2H422V1184H402zM201 1184H251V1190H201zM412 1184H442V1190H412zM191 1190H221V1197H191zM422 1190H472V1197H422zM181 1197H201V1203H181zM432 1197H512V1203H432zM452 1203H542V1209H452zM171 1209H181V1216H171zM482 1209H562V1216H482zM171 1216H181V1222H171zM502 1216H592V1222H502zM532 1222H602V1229H532zM552 1229H612.4V1235H552zM572 1235H612.4V1241H572zM582 1241H612.4V1248H582zM602 1248H612.4V1254H602zM161 1254H171V1261H161zM161 1261H171V1267H161zM161 1267H171V1274H161zM161 1274H171V1280H161zM161 1318H171V1325H161zM161 1325H171V1331H161zM161 1331H171V1338H161zM602 1338H612.4V1344H602zM592 1344H612.4V1351H592zM582 1351H612.4V1357H582zM562 1357H612.4V1363H562zM542 1363H612.4V1370H542zM522 1370H602V1376H522zM171 1376H181V1383H171zM492 1376H582V1383H492zM171 1383H181V1389H171zM462 1383H552V1389H462zM181 1389H191V1396H181zM442 1389H532V1396H442zM181 1396H201V1402H181zM432 1396H492V1402H432zM191 1402H231V1408H191zM422 1402H462V1408H422zM211 1408H261V1415H211zM402 1408H432V1415H402zM251 1415H291V1421H251zM392 1415H422V1421H392zM281 1421H311V1428H281zM381 1421H402V1428H381zM301 1428H392V1434H301z"/>
<path fill="#4434d0" d="M281 1177.2H301V1184H281zM251 1184H281V1190H251zM402 1184H412V1190H402zM221 1190H261V1197H221zM412 1190H422V1197H412zM201 1197H231V1203H201zM422 1197H432V1203H422zM181 1203H201V1209H181zM422 1203H452V1209H422zM181 1209H191V1216H181zM442 1209H482V1216H442zM452 1216H502V1222H452zM171 1222H181V1229H171zM472 1222H532V1229H472zM492 1229H552V1235H492zM512 1235H572V1241H512zM532 1241H582V1248H532zM542 1248H602V1254H542zM562 1254H612.4V1261H562zM572 1261H612.4V1267H572zM582 1267H612.4V1274H582zM582 1274H612.4V1280H582zM161 1280H171V1286H161zM592 1280H612.4V1286H592zM161 1286H171V1293H161zM592 1286H612.4V1293H592zM161 1293H171V1299H161zM592 1293H612.4V1299H592zM161 1299H171V1306H161zM592 1299H612.4V1306H592zM161 1306H171V1312H161zM592 1306H612.4V1312H592zM161 1312H171V1318H161zM592 1312H612.4V1318H592zM582 1318H612.4V1325H582zM572 1325H612.4V1331H572zM562 1331H612.4V1338H562zM552 1338H602V1344H552zM542 1344H592V1351H542zM522 1351H582V1357H522zM502 1357H562V1363H502zM171 1363H181V1370H171zM482 1363H542V1370H482zM171 1370H181V1376H171zM462 1370H522V1376H462zM442 1376H492V1383H442zM181 1383H191V1389H181zM432 1383H462V1389H432zM191 1389H211V1396H191zM422 1389H442V1396H422zM201 1396H241V1402H201zM412 1396H432V1402H412zM231 1402H271V1408H231zM402 1402H422V1408H402zM261 1408H291V1415H261zM392 1408H402V1415H392zM291 1415H311V1421H291zM371 1415H392V1421H371zM311 1421H381V1428H311z"/>
<path fill="#4537d6" d="M301 1177.2H311V1184H301zM392 1177.2H402V1184H392zM281 1184H301V1190H281zM261 1190H281V1197H261zM402 1190H412V1197H402zM231 1197H261V1203H231zM412 1197H422V1203H412zM201 1203H231V1209H201zM412 1203H422V1209H412zM191 1209H211V1216H191zM422 1209H442V1216H422zM181 1216H191V1222H181zM432 1216H452V1222H432zM442 1222H472V1229H442zM171 1229H181V1235H171zM452 1229H492V1235H452zM171 1235H181V1241H171zM462 1235H512V1241H462zM482 1241H532V1248H482zM492 1248H542V1254H492zM512 1254H562V1261H512zM522 1261H572V1267H522zM532 1267H582V1274H532zM542 1274H582V1280H542zM552 1280H592V1286H552zM552 1286H592V1293H552zM552 1293H592V1299H552zM552 1299H592V1306H552zM552 1306H592V1312H552zM542 1312H592V1318H542zM542 1318H582V1325H542zM532 1325H572V1331H532zM522 1331H562V1338H522zM502 1338H552V1344H502zM492 1344H542V1351H492zM472 1351H522V1357H472zM171 1357H181V1363H171zM462 1357H502V1363H462zM442 1363H482V1370H442zM432 1370H462V1376H432zM181 1376H191V1383H181zM422 1376H442V1383H422zM191 1383H211V1389H191zM412 1383H432V1389H412zM211 1389H241V1396H211zM412 1389H422V1396H412zM241 1396H271V1402H241zM402 1396H412V1402H402zM271 1402H291V1408H271zM381 1402H402V1408H381zM291 1408H311V1415H291zM371 1408H392V1415H371zM311 1415H371V1421H311z"/>
<path fill="#463adb" d="M311 1177.2H321V1184H311zM301 1184H311V1190H301zM392 1184H402V1190H392zM281 1190H291V1197H281zM261 1197H281V1203H261zM402 1197H412V1203H402zM231 1203H251V1209H231zM211 1209H231V1216H211zM412 1209H422V1216H412zM191 1216H201V1222H191zM422 1216H432V1222H422zM181 1222H191V1229H181zM422 1222H442V1229H422zM432 1229H452V1235H432zM442 1235H462V1241H442zM171 1241H181V1248H171zM452 1241H482V1248H452zM462 1248H492V1254H462zM472 1254H512V1261H472zM482 1261H522V1267H482zM492 1267H532V1274H492zM502 1274H542V1280H502zM502 1280H552V1286H502zM512 1286H552V1293H512zM512 1293H552V1299H512zM512 1299H552V1306H512zM512 1306H552V1312H512zM502 1312H542V1318H502zM502 1318H542V1325H502zM492 1325H532V1331H492zM482 1331H522V1338H482zM472 1338H502V1344H472zM462 1344H492V1351H462zM171 1351H181V1357H171zM452 1351H472V1357H452zM442 1357H462V1363H442zM432 1363H442V1370H432zM181 1370H191V1376H181zM422 1370H432V1376H422zM191 1376H211V1383H191zM412 1376H422V1383H412zM211 1383H241V1389H211zM402 1383H412V1389H402zM241 1389H261V1396H241zM402 1389H412V1396H402zM271 1396H291V1402H271zM392 1396H402V1402H392zM291 1402H311V1408H291zM371 1402H381V1408H371zM311 1408H331V1415H311zM351 1408H371V1415H351z"/>
<path fill="#463de0" d="M321 1177.2H331V1184H321zM381 1177.2H392V1184H381zM311 1184H321V1190H311zM291 1190H311V1197H291zM392 1190H402V1197H392zM281 1197H291V1203H281zM251 1203H271V1209H251zM402 1203H412V1209H402zM231 1209H251V1216H231zM201 1216H221V1222H201zM412 1216H422V1222H412zM191 1222H201V1229H191zM181 1229H191V1235H181zM422 1229H432V1235H422zM432 1235H442V1241H432zM442 1241H452V1248H442zM171 1248H181V1254H171zM442 1248H462V1254H442zM452 1254H472V1261H452zM462 1261H482V1267H462zM462 1267H492V1274H462zM472 1274H502V1280H472zM472 1280H502V1286H472zM482 1286H512V1293H482zM482 1293H512V1299H482zM482 1299H512V1306H482zM482 1306H512V1312H482zM472 1312H502V1318H472zM472 1318H502V1325H472zM462 1325H492V1331H462zM452 1331H482V1338H452zM171 1338H181V1344H171zM452 1338H472V1344H452zM171 1344H181V1351H171zM442 1344H462V1351H442zM432 1351H452V1357H432zM181 1357H191V1363H181zM432 1357H442V1363H432zM181 1363H191V1370H181zM422 1363H432V1370H422zM191 1370H211V1376H191zM412 1370H422V1376H412zM211 1376H231V1383H211zM402 1376H412V1383H402zM241 1383H261V1389H241zM261 1389H281V1396H261zM392 1389H402V1396H392zM291 1396H301V1402H291zM381 1396H392V1402H381zM311 1402H321V1408H311zM361 1402H371V1408H361zM331 1408H351V1415H331z"/>
<path fill="#4740e4" d="M331 1177.2H341V1184H331zM321 1184H331V1190H321zM381 1184H392V1190H381zM291 1197H301V1203H291zM392 1197H402V1203H392zM271 1203H281V1209H271zM251 1209H261V1216H251zM402 1209H412V1216H402zM221 1216H241V1222H221zM201 1222H221V1229H201zM412 1222H422V1229H412zM191 1229H201V1235H191zM181 1235H191V1241H181zM422 1235H432V1241H422zM432 1241H442V1248H432zM432 1248H442V1254H432zM171 1254H181V1261H171zM442 1254H452V1261H442zM171 1261H181V1267H171zM442 1261H462V1267H442zM452 1267H462V1274H452zM452 1274H472V1280H452zM452 1280H472V1286H452zM462 1286H482V1293H462zM462 1293H482V1299H462zM462 1299H482V1306H462zM462 1306H482V1312H462zM452 1312H472V1318H452zM452 1318H472V1325H452zM442 1325H462V1331H442zM171 1331H181V1338H171zM442 1331H452V1338H442zM432 1338H452V1344H432zM432 1344H442V1351H432zM181 1351H191V1357H181zM422 1351H432V1357H422zM422 1357H432V1363H422zM191 1363H211V1370H191zM412 1363H422V1370H412zM211 1370H231V1376H211zM402 1370H412V1376H402zM231 1376H251V1383H231zM261 1383H271V1389H261zM392 1383H402V1389H392zM281 1389H291V1396H281zM381 1389H392V1396H381zM301 1396H311V1402H301zM371 1396H381V1402H371zM321 1402H361V1408H321z"/>
<path fill="#4743e7" d="M341 1177.2H351V1184H341zM371 1177.2H381V1184H371zM311 1190H321V1197H311zM301 1197H311V1203H301zM281 1203H291V1209H281zM392 1203H402V1209H392zM261 1209H281V1216H261zM241 1216H261V1222H241zM402 1216H412V1222H402zM221 1222H231V1229H221zM201 1229H211V1235H201zM412 1229H422V1235H412zM191 1235H201V1241H191zM181 1241H191V1248H181zM422 1241H432V1248H422zM422 1248H432V1254H422zM432 1254H442V1261H432zM432 1261H442V1267H432zM171 1267H181V1274H171zM442 1267H452V1274H442zM171 1274H181V1280H171zM442 1274H452V1280H442zM442 1280H452V1286H442zM442 1286H462V1293H442zM442 1293H462V1299H442zM442 1299H462V1306H442zM442 1306H462V1312H442zM442 1312H452V1318H442zM171 1318H181V1325H171zM442 1318H452V1325H442zM171 1325H181V1331H171zM432 1325H442V1331H432zM432 1331H442V1338H432zM181 1344H191V1351H181zM422 1344H432V1351H422zM191 1357H201V1363H191zM412 1357H422V1363H412zM211 1363H221V1370H211zM402 1363H412V1370H402zM231 1370H241V1376H231zM251 1376H271V1383H251zM392 1376H402V1383H392zM271 1383H291V1389H271zM381 1383H392V1389H381zM291 1389H301V1396H291zM371 1389H381V1396H371zM311 1396H321V1402H311zM361 1396H371V1402H361z"/>
<path fill="#4747eb" d="M351 1177.2H371V1184H351zM331 1184H341V1190H331zM321 1190H331V1197H321zM381 1190H392V1197H381zM311 1197H321V1203H311zM291 1203H301V1209H291zM281 1209H291V1216H281zM261 1216H271V1222H261zM231 1222H251V1229H231zM402 1222H412V1229H402zM211 1229H231V1235H211zM201 1235H211V1241H201zM412 1235H422V1241H412zM191 1241H201V1248H191zM412 1241H422V1248H412zM181 1248H191V1254H181zM422 1254H432V1261H422zM432 1267H442V1274H432zM432 1274H442V1280H432zM171 1280H181V1286H171zM432 1280H442V1286H432zM171 1286H181V1293H171zM171 1293H181V1299H171zM171 1299H181V1306H171zM171 1306H181V1312H171zM432 1306H442V1312H432zM171 1312H181V1318H171zM432 1312H442V1318H432zM432 1318H442V1325H432zM422 1331H432V1338H422zM181 1338H191V1344H181zM422 1338H432V1344H422zM191 1351H201V1357H191zM412 1351H422V1357H412zM201 1357H221V1363H201zM221 1363H241V1370H221zM241 1370H261V1376H241zM392 1370H402V1376H392zM271 1376H281V1383H271zM291 1383H301V1389H291zM301 1389H311V1396H301zM321 1396H361V1402H321z"/>
<path fill="#484aee" d="M371 1184H381V1190H371zM301 1203H311V1209H301zM291 1209H301V1216H291zM392 1209H402V1216H392zM271 1216H281V1222H271zM251 1222H261V1229H251zM231 1229H241V1235H231zM402 1229H412V1235H402zM211 1235H221V1241H211zM201 1241H211V1248H201zM191 1248H201V1254H191zM412 1248H422V1254H412zM181 1254H191V1261H181zM422 1261H432V1267H422zM422 1267H432V1274H422zM432 1286H442V1293H432zM432 1293H442V1299H432zM432 1299H442V1306H432zM422 1318H432V1325H422zM422 1325H432V1331H422zM181 1331H191V1338H181zM412 1338H422V1344H412zM191 1344H201V1351H191zM412 1344H422V1351H412zM201 1351H211V1357H201zM221 1357H231V1363H221zM402 1357H412V1363H402zM241 1363H251V1370H241zM392 1363H402V1370H392zM261 1370H271V1376H261zM281 1376H291V1383H281zM381 1376H392V1383H381zM371 1383H381V1389H371zM311 1389H321V1396H311zM361 1389H371V1396H361z"/>
<path fill="#484df0" d="M341 1184H351V1190H341zM381 1197H392V1203H381zM281 1216H291V1222H281zM392 1216H402V1222H392zM261 1222H271V1229H261zM241 1229H251V1235H241zM221 1235H231V1241H221zM402 1235H412V1241H402zM211 1241H221V1248H211zM412 1254H422V1261H412zM181 1261H191V1267H181zM422 1274H432V1280H422zM422 1280H432V1286H422zM422 1286H432V1293H422zM422 1293H432V1299H422zM422 1299H432V1306H422zM422 1306H432V1312H422zM422 1312H432V1318H422zM181 1325H191V1331H181zM412 1331H422V1338H412zM191 1338H201V1344H191zM201 1344H211V1351H201zM211 1351H221V1357H211zM402 1351H412V1357H402zM231 1357H241V1363H231zM251 1363H261V1370H251zM271 1370H281V1376H271zM381 1370H392V1376H381zM291 1376H301V1383H291zM301 1383H311V1389H301zM321 1389H331V1396H321zM351 1389H361V1396H351z"/>
<path fill="#4850f3" d="M351 1184H371V1190H351zM331 1190H341V1197H331zM321 1197H331V1203H321zM311 1203H321V1209H311zM301 1209H311V1216H301zM291 1216H301V1222H291zM271 1222H281V1229H271zM251 1229H261V1235H251zM231 1235H251V1241H231zM221 1241H231V1248H221zM402 1241H412V1248H402zM201 1248H211V1254H201zM191 1254H201V1261H191zM412 1261H422V1267H412zM181 1267H191V1274H181zM412 1267H422V1274H412zM181 1274H191V1280H181zM181 1318H191V1325H181zM412 1325H422V1331H412zM191 1331H201V1338H191zM201 1338H211V1344H201zM211 1344H221V1351H211zM402 1344H412V1351H402zM221 1351H231V1357H221zM241 1357H251V1363H241zM392 1357H402V1363H392zM261 1363H271V1370H261zM281 1370H291V1376H281zM371 1376H381V1383H371zM311 1383H321V1389H311zM361 1383H371V1389H361zM331 1389H351V1396H331z"/>
<path fill="#4854f5" d="M371 1190H381V1197H371zM381 1203H392V1209H381zM281 1222H291V1229H281zM392 1222H402V1229H392zM261 1229H271V1235H261zM251 1235H261V1241H251zM231 1241H241V1248H231zM211 1248H221V1254H211zM201 1254H211V1261H201zM191 1261H201V1267H191zM412 1274H422V1280H412zM181 1280H191V1286H181zM412 1280H422V1286H412zM181 1286H191V1293H181zM181 1293H191V1299H181zM181 1299H191V1306H181zM181 1306H191V1312H181zM412 1306H422V1312H412zM181 1312H191V1318H181zM412 1312H422V1318H412zM412 1318H422V1325H412zM191 1325H201V1331H191zM402 1338H412V1344H402zM221 1344H231V1351H221zM231 1351H251V1357H231zM392 1351H402V1357H392zM251 1357H261V1363H251zM271 1363H281V1370H271zM381 1363H392V1370H381zM301 1376H311V1383H301z"/>
<path fill="#4757f7" d="M341 1190H351V1197H341zM311 1209H321V1216H311zM301 1216H311V1222H301zM271 1229H281V1235H271zM241 1241H251V1248H241zM221 1248H231V1254H221zM402 1248H412V1254H402zM211 1254H221V1261H211zM201 1261H211V1267H201zM191 1267H201V1274H191zM191 1274H201V1280H191zM412 1286H422V1293H412zM412 1293H422V1299H412zM412 1299H422V1306H412zM191 1318H201V1325H191zM201 1331H211V1338H201zM402 1331H412V1338H402zM211 1338H221V1344H211zM231 1344H241V1351H231zM251 1351H261V1357H251zM261 1357H271V1363H261zM281 1363H291V1370H281zM291 1370H301V1376H291zM371 1370H381V1376H371zM321 1383H331V1389H321zM351 1383H361V1389H351z"/>
<path fill="#475af9" d="M361 1190H371V1197H361zM331 1197H341V1203H331zM321 1203H331V1209H321zM291 1222H301V1229H291zM281 1229H291V1235H281zM392 1229H402V1235H392zM261 1235H271V1241H261zM251 1241H261V1248H251zM231 1248H241V1254H231zM221 1254H231V1261H221zM402 1254H412V1261H402zM211 1261H221V1267H211zM402 1261H412V1267H402zM201 1267H211V1274H201zM191 1280H201V1286H191zM191 1286H201V1293H191zM191 1299H201V1306H191zM191 1306H201V1312H191zM191 1312H201V1318H191zM201 1325H211V1331H201zM402 1325H412V1331H402zM211 1331H221V1338H211zM221 1338H231V1344H221zM241 1344H251V1351H241zM392 1344H402V1351H392zM271 1357H281V1363H271zM381 1357H392V1363H381zM301 1370H311V1376H301zM311 1376H321V1383H311zM361 1376H371V1383H361zM331 1383H351V1389H331z"/>
<path fill="#465dfb" d="M351 1190H361V1197H351zM371 1197H381V1203H371zM381 1209H392V1216H381zM271 1235H281V1241H271zM261 1241H271V1248H261zM241 1248H251V1254H241zM231 1254H241V1261H231zM211 1267H221V1274H211zM402 1267H412V1274H402zM201 1274H211V1280H201zM191 1293H201V1299H191zM201 1312H211V1318H201zM201 1318H211V1325H201zM402 1318H412V1325H402zM211 1325H221V1331H211zM221 1331H231V1338H221zM231 1338H241V1344H231zM251 1344H261V1351H251zM261 1351H271V1357H261zM281 1357H291V1363H281zM291 1363H301V1370H291z"/>
<path fill="#4661fc" d="M311 1216H321V1222H311zM301 1222H311V1229H301zM291 1229H301V1235H291zM281 1235H291V1241H281zM392 1235H402V1241H392zM251 1248H261V1254H251zM221 1261H231V1267H221zM211 1274H221V1280H211zM402 1274H412V1280H402zM201 1280H211V1286H201zM402 1280H412V1286H402zM201 1286H211V1293H201zM201 1293H211V1299H201zM201 1299H211V1306H201zM402 1299H412V1306H402zM201 1306H211V1312H201zM402 1306H412V1312H402zM402 1312H412V1318H402zM211 1318H221V1325H211zM221 1325H231V1331H221zM231 1331H241V1338H231zM241 1338H251V1344H241zM392 1338H402V1344H392zM271 1351H281V1357H271zM381 1351H392V1357H381zM371 1363H381V1370H371zM321 1376H331V1383H321zM351 1376H361V1383H351z"/>
<path fill="#4464fd" d="M341 1197H351V1203H341zM331 1203H341V1209H331zM321 1209H331V1216H321zM381 1216H392V1222H381zM271 1241H281V1248H271zM392 1241H402V1248H392zM261 1248H271V1254H261zM241 1254H251V1261H241zM231 1261H241V1267H231zM221 1267H231V1274H221zM211 1280H221V1286H211zM402 1286H412V1293H402zM402 1293H412V1299H402zM211 1306H221V1312H211zM211 1312H221V1318H211zM221 1318H231V1325H221zM241 1331H251V1338H241zM392 1331H402V1338H392zM251 1338H261V1344H251zM261 1344H271V1351H261zM291 1357H301V1363H291zM301 1363H311V1370H301zM311 1370H321V1376H311zM361 1370H371V1376H361zM331 1376H351V1383H331z"/>
<path fill="#4367fd" d="M361 1197H371V1203H361zM371 1203H381V1209H371zM251 1254H261V1261H251zM241 1261H251V1267H241zM231 1267H241V1274H231zM221 1274H231V1280H221zM211 1286H221V1293H211zM211 1293H221V1299H211zM211 1299H221V1306H211zM221 1312H231V1318H221zM231 1325H241V1331H231zM392 1325H402V1331H392zM261 1338H271V1344H261zM271 1344H281V1351H271zM281 1351H291V1357H281z"/>
<path fill="#416bfe" d="M351 1197H361V1203H351zM311 1222H321V1229H311zM301 1229H311V1235H301zM291 1235H301V1241H291zM281 1241H291V1248H281zM271 1248H281V1254H271zM392 1248H402V1254H392zM261 1254H271V1261H261zM251 1261H261V1267H251zM241 1267H251V1274H241zM231 1274H241V1280H231zM221 1280H231V1286H221zM221 1286H231V1293H221zM221 1293H231V1299H221zM221 1299H231V1306H221zM221 1306H231V1312H221zM231 1318H241V1325H231zM241 1325H251V1331H241zM251 1331H261V1338H251zM381 1344H392V1351H381zM371 1357H381V1363H371zM321 1370H331V1376H321z"/>
<path fill="#3f6eff" d="M381 1222H392V1229H381zM392 1254H402V1261H392zM231 1280H241V1286H231zM231 1306H241V1312H231zM231 1312H241V1318H231zM241 1318H251V1325H241zM392 1318H402V1325H392zM251 1325H261V1331H251zM261 1331H271V1338H261zM271 1338H281V1344H271zM281 1344H291V1351H281zM291 1351H301V1357H291zM301 1357H311V1363H301zM311 1363H321V1370H311zM361 1363H371V1370H361zM351 1370H361V1376H351z"/>
<path fill="#3c72ff" d="M321 1216H331V1222H321zM291 1241H301V1248H291zM281 1248H291V1254H281zM271 1254H281V1261H271zM261 1261H271V1267H261zM392 1261H402V1267H392zM251 1267H261V1274H251zM241 1274H251V1280H241zM231 1286H241V1293H231zM231 1293H241V1299H231zM231 1299H241V1306H231zM241 1312H251V1318H241zM392 1312H402V1318H392zM381 1338H392V1344H381zM331 1370H341V1376H331z"/>
<path fill="#3876fe" d="M341 1203H351V1209H341zM331 1209H341V1216H331zM371 1209H381V1216H371zM301 1235H311V1241H301zM392 1267H402V1274H392zM251 1274H261V1280H251zM241 1280H251V1286H241zM241 1286H251V1293H241zM241 1293H251V1299H241zM241 1299H251V1306H241zM241 1306H251V1312H241zM392 1306H402V1312H392zM251 1318H261V1325H251zM261 1325H271V1331H261zM271 1331H281V1338H271zM281 1338H291V1344H281zM371 1351H381V1357H371zM341 1370H351V1376H341z"/>
<path fill="#3579fd" d="M361 1203H371V1209H361zM311 1229H321V1235H311zM381 1229H392V1235H381zM281 1254H291V1261H281zM271 1261H281V1267H271zM261 1267H271V1274H261zM392 1274H402V1280H392zM251 1280H261V1286H251zM392 1280H402V1286H392zM392 1286H402V1293H392zM392 1293H402V1299H392zM392 1299H402V1306H392zM251 1312H261V1318H251zM261 1318H271V1325H261zM291 1344H301V1351H291zM301 1351H311V1357H301zM321 1363H331V1370H321z"/>
<path fill="#317dfc" d="M351 1203H361V1209H351zM291 1248H301V1254H291zM261 1274H271V1280H261zM251 1286H261V1293H251zM251 1293H261V1299H251zM251 1299H261V1306H251zM251 1306H261V1312H251zM261 1312H271V1318H261zM271 1325H281V1331H271zM281 1331H291V1338H281zM381 1331H392V1338H381zM311 1357H321V1363H311z"/>
<path fill="#3080fa" d="M321 1222H331V1229H321zM381 1235H392V1241H381zM301 1241H311V1248H301zM281 1261H291V1267H281zM271 1267H281V1274H271zM261 1280H271V1286H261zM261 1306H271V1312H261zM271 1318H281V1325H271zM291 1338H301V1344H291zM361 1357H371V1363H361zM351 1363H361V1370H351z"/>
<path fill="#2e83f9" d="M371 1216H381V1222H371zM311 1235H321V1241H311zM291 1254H301V1261H291zM271 1274H281V1280H271zM261 1286H271V1293H261zM261 1293H271V1299H261zM261 1299H271V1306H261zM281 1325H291V1331H281zM381 1325H392V1331H381zM301 1344H311V1351H301zM371 1344H381V1351H371zM331 1363H341V1370H331z"/>
<path fill="#2e86f7" d="M341 1209H351V1216H341zM331 1216H341V1222H331zM281 1267H291V1274H281zM271 1280H281V1286H271zM271 1306H281V1312H271zM271 1312H281V1318H271zM341 1363H351V1370H341z"/>
<path fill="#2d8af5" d="M361 1209H371V1216H361zM381 1241H392V1248H381zM301 1248H311V1254H301zM291 1261H301V1267H291zM281 1274H291V1280H281zM271 1286H281V1293H271zM271 1293H281V1299H271zM271 1299H281V1306H271zM281 1318H291V1325H281zM381 1318H392V1325H381zM291 1331H301V1338H291zM311 1351H321V1357H311zM321 1357H331V1363H321z"/>
<path fill="#2d8df2" d="M321 1229H331V1235H321zM281 1312H291V1318H281zM301 1338H311V1344H301z"/>
<path fill="#2c90f0" d="M351 1209H361V1216H351zM311 1241H321V1248H311zM381 1248H392V1254H381zM301 1254H311V1261H301zM291 1267H301V1274H291zM281 1280H291V1286H281zM281 1286H291V1293H281zM281 1306H291V1312H281zM291 1325H301V1331H291zM371 1338H381V1344H371zM361 1351H371V1357H361zM351 1357H361V1363H351z"/>
<path fill="#2a93ee" d="M371 1222H381V1229H371zM281 1293H291V1299H281zM281 1299H291V1306H281zM381 1312H392V1318H381z"/>
<path fill="#2896ec" d="M331 1222H341V1229H331zM291 1274H301V1280H291zM291 1318H301V1325H291zM301 1331H311V1338H301zM311 1344H321V1351H311zM331 1357H341V1363H331z"/>
<path fill="#2698ea" d="M341 1216H351V1222H341zM381 1254H392V1261H381zM301 1261H311V1267H301zM291 1280H301V1286H291zM381 1306H392V1312H381zM291 1312H301V1318H291zM321 1351H331V1357H321zM341 1357H351V1363H341z"/>
<path fill="#259be8" d="M361 1216H371V1222H361zM321 1235H331V1241H321zM311 1248H321V1254H311zM381 1261H392V1267H381zM291 1286H301V1293H291zM291 1306H301V1312H291zM371 1331H381V1338H371z"/>
<path fill="#249ee6" d="M371 1229H381V1235H371zM291 1293H301V1299H291zM291 1299H301V1306H291zM381 1299H392V1306H381zM301 1325H311V1331H301zM361 1344H371V1351H361z"/>
<path fill="#23a1e5" d="M351 1216H361V1222H351zM301 1267H311V1274H301zM381 1267H392V1274H381zM381 1274H392V1280H381zM381 1293H392V1299H381zM311 1338H321V1344H311z"/>
<path fill="#21a3e3" d="M381 1280H392V1286H381zM381 1286H392V1293H381zM351 1351H361V1357H351z"/>
<path fill="#1fa6e2" d="M331 1229H341V1235H331zM311 1254H321V1261H311zM301 1274H311V1280H301zM301 1318H311V1325H301zM371 1325H381V1331H371zM331 1351H341V1357H331z"/>
<path fill="#1da9e0" d="M321 1241H331V1248H321zM301 1312H311V1318H301zM321 1344H331V1351H321z"/>
<path fill="#1babde" d="M341 1222H351V1229H341zM361 1222H371V1229H361zM371 1235H381V1241H371zM301 1280H311V1286H301zM311 1331H321V1338H311zM341 1351H351V1357H341z"/>
<path fill="#18addb" d="M311 1261H321V1267H311zM301 1286H311V1293H301zM301 1293H311V1299H301zM301 1299H311V1306H301zM301 1306H311V1312H301zM361 1338H371V1344H361z"/>
<path fill="#10b2d5" d="M351 1222H361V1229H351zM371 1318H381V1325H371z"/>
<path fill="#0ab4d2" d="M371 1241H381V1248H371zM321 1248H331V1254H321zM311 1325H321V1331H311zM321 1338H331V1344H321zM351 1344H361V1351H351z"/>
<path fill="#05b6ce" d="M331 1235H341V1241H331zM311 1267H321V1274H311zM331 1344H341V1351H331z"/>
<path fill="#01b9c7" d="M341 1229H351V1235H341zM361 1229H371V1235H361zM371 1312H381V1318H371zM311 1318H321V1325H311zM341 1344H351V1351H341z"/>
<path fill="#02bbc3" d="M371 1248H381V1254H371zM311 1274H321V1280H311zM361 1331H371V1338H361z"/>
<path fill="#08bcbf" d="M311 1312H321V1318H311z"/>
<path fill="#0ebdbb" d="M321 1254H331V1261H321zM311 1280H321V1286H311zM321 1331H331V1338H321z"/>
<path fill="#16bfb7" d="M351 1229H361V1235H351zM331 1241H341V1248H331zM311 1306H321V1312H311zM371 1306H381V1312H371z"/>
<path fill="#1dc0b3" d="M371 1254H381V1261H371zM311 1286H321V1293H311zM311 1293H321V1299H311zM311 1299H321V1306H311zM331 1338H341V1344H331zM351 1338H361V1344H351z"/>
<path fill="#28c3ab" d="M341 1235H351V1241H341zM361 1235H371V1241H361zM321 1261H331V1267H321zM371 1299H381V1306H371z"/>
<path fill="#2cc4a6" d="M371 1261H381V1267H371zM321 1325H331V1331H321zM361 1325H371V1331H361zM341 1338H351V1344H341z"/>
<path fill="#33c69d" d="M371 1267H381V1274H371zM371 1293H381V1299H371z"/>
<path fill="#36c898" d="M331 1248H341V1254H331zM371 1274H381V1280H371zM371 1286H381V1293H371z"/>
<path fill="#3ac993" d="M351 1235H361V1241H351zM321 1267H331V1274H321zM371 1280H381V1286H371zM331 1331H341V1338H331z"/>
<path fill="#3fca8e" d="M361 1241H371V1248H361zM321 1318H331V1325H321zM351 1331H361V1338H351z"/>
<path fill="#4ccb83" d="M341 1241H351V1248H341zM361 1318H371V1325H361z"/>
<path fill="#53cc7d" d="M321 1274H331V1280H321z"/>
<path fill="#5bcc77" d="M321 1312H331V1318H321zM341 1331H351V1338H341z"/>
<path fill="#62cd70" d="M331 1254H341V1261H331z"/>
<path fill="#6acd6a" d="M361 1248H371V1254H361zM321 1280H331V1286H321zM331 1325H341V1331H331z"/>
<path fill="#72cd63" d="M351 1241H361V1248H351zM321 1306H331V1312H321z"/>
<path fill="#7bcc5d" d="M321 1286H331V1293H321zM361 1312H371V1318H361z"/>
<path fill="#83cc57" d="M321 1293H331V1299H321zM321 1299H331V1306H321zM351 1325H361V1331H351z"/>
<path fill="#8ccb50" d="M341 1248H351V1254H341z"/>
<path fill="#94ca4a" d="M331 1261H341V1267H331z"/>
<path fill="#9cc943" d="M361 1254H371V1261H361z"/>
<path fill="#a4c83e" d="M331 1318H341V1325H331zM341 1325H351V1331H341z"/>
<path fill="#acc738" d="M361 1306H371V1312H361z"/>
<path fill="#b4c533" d="M351 1248H361V1254H351z"/>
<path fill="#bcc42f" d="M331 1267H341V1274H331z"/>
<path fill="#c3c22b" d="M361 1261H371V1267H361zM351 1318H361V1325H351z"/>
<path fill="#cac129" d="M341 1254H351V1261H341z"/>
<path fill="#d1bf27" d="M361 1299H371V1306H361zM331 1312H341V1318H331z"/>
<path fill="#ddbd29" d="M361 1267H371V1274H361zM331 1274H341V1280H331zM341 1318H351V1325H341z"/>
<path fill="#e3bb2c" d="M351 1254H361V1261H351zM361 1293H371V1299H361z"/>
<path fill="#e9bb30" d="M361 1274H371V1280H361z"/>
<path fill="#eeba34" d="M361 1280H371V1286H361zM361 1286H371V1293H361zM331 1306H341V1312H331z"/>
<path fill="#f3ba39" d="M341 1261H351V1267H341zM331 1280H341V1286H331zM351 1312H361V1318H351z"/>
<path fill="#fcbc3d" d="M331 1286H341V1293H331zM331 1299H341V1306H331z"/>
<path fill="#febf3c" d="M331 1293H341V1299H331zM341 1312H351V1318H341z"/>
<path fill="#fec239" d="M351 1261H361V1267H351z"/>
<path fill="#fec934" d="M341 1267H351V1274H341z"/>
<path fill="#fdcc32" d="M351 1306H361V1312H351z"/>
<path fill="#fbd42e" d="M351 1267H361V1274H351zM341 1306H351V1312H341z"/>
<path fill="#f7db2b" d="M341 1274H351V1280H341z"/>
<path fill="#f6df29" d="M351 1299H361V1306H351z"/>
<path fill="#f5e227" d="M351 1274H361V1280H351z"/>
<path fill="#f5e626" d="M341 1280H351V1286H341zM341 1299H351V1306H341z"/>
<path fill="#f5ed22" d="M351 1280H361V1286H351zM341 1286H351V1293H341zM341 1293H361V1299H341z"/>
<path fill="#f6f11f" d="M351 1286H361V1293H351z"/>
</g>
<path d="M160.6 1177.2V1434M261 1177.2V1434M361.4 1177.2V1434M461.8 1177.2V1434M562.2 1177.2V1434M110.4 1408.4H612.4M110.4 1357H612.4M110.4 1305.7H612.4M110.4 1254.3H612.4M110.4 1202.9H612.4" fill="none" stroke="#f2f0fa" stroke-opacity=".88" stroke-width="1.25" stroke-dasharray="2.3 4.7" stroke-dashoffset="3.75"/>
<path d="M160.6 1434v-5M160.6 1177.2v5M261 1434v-5M261 1177.2v5M361.4 1434v-5M361.4 1177.2v5M461.8 1434v-5M461.8 1177.2v5M562.2 1434v-5M562.2 1177.2v5M110.4 1408.4h5M612.4 1408.4h-5M110.4 1357h5M612.4 1357h-5M110.4 1305.7h5M612.4 1305.7h-5M110.4 1254.3h5M612.4 1254.3h-5M110.4 1202.9h5M612.4 1202.9h-5" fill="none" stroke="#262626" stroke-width="1.1"/>
<rect x="110.4" y="1177.2" width="502" height="256.8" fill="none" stroke="#262626" stroke-opacity=".8" stroke-width="1.1"/>
<g font-size="27.5" fill="#262626">
<text x="160.6" y="1473" text-anchor="middle">-40</text>
<text x="261" y="1473" text-anchor="middle">-20</text>
<text x="361.4" y="1473" text-anchor="middle">0</text>
<text x="461.8" y="1473" text-anchor="middle">20</text>
<text x="562.2" y="1473" text-anchor="middle">40</text>
<text x="99.3" y="1419.3" text-anchor="end">-40</text>
<text x="99.3" y="1367.9" text-anchor="end">-20</text>
<text x="99.3" y="1316.6" text-anchor="end">0</text>
<text x="99.3" y="1265.2" text-anchor="end">20</text>
<text x="99.3" y="1213.8" text-anchor="end">40</text>
</g>
<text x="360.9" y="1512.3" text-anchor="middle" font-size="30" fill="#262626">X (mm)</text>
<text transform="translate(45.5 1307.5) rotate(-90)" text-anchor="middle" font-size="30" fill="#262626">Y (mm)</text>
<path d="M164.5 1178V1433.3" stroke="#fff" stroke-width="5.3" fill="none"/>
<path d="M128.1 1306H290.1" stroke="#fff" stroke-width="3.6" fill="none"/>
<path d="M305.9 1306l-24.8 -10.4l4.3 10.4l-4.3 10.4z" fill="#fff"/>
<text transform="translate(254.5 1293.2) scale(.92 1)" fill="#fff" font-weight="bold" font-size="65.8">C</text>
<text fill="#fff" font-weight="bold" font-size="31.6" text-anchor="end" transform="translate(254.5 1261.8) scale(.97 1)">12</text>
<text x="185" y="1420.4" fill="#fff" font-size="41.4">PMMA</text>
<rect x="632" y="1177.2" width="37.3" height="256.8" fill="url(#pg)" stroke="#3c3c3c" stroke-width="1.1"/>
<g font-size="24.75" fill="#262626">
<text x="678.6" y="1443.2">0</text>
<text x="678.6" y="1366.1">2</text>
<text x="678.6" y="1288.9">4</text>
<text x="678.6" y="1211.7">6</text>
</g>
<path d="M669.3 1434h-4.5M669.3 1356.9h-4.5M669.3 1279.7h-4.5M669.3 1202.5h-4.5" fill="none" stroke="#262626" stroke-width="1.3"/>
<text fill="#262626" font-size="24"><tspan x="670.6" y="1166.8" font-size="28.5">×</tspan><tspan x="689.7" y="1163.2" textLength="24.6" lengthAdjust="spacingAndGlyphs">10</tspan><tspan x="716.3" y="1152.7" font-size="21">4</tspan></text>
<text transform="translate(726.4 1306.2) rotate(-90)" text-anchor="middle" font-size="24.6" fill="#262626">Coincidence events</text>
</g>
<text x="-3.2" y="43.7" font-size="48.5" fill="#1a1a1a">(a)</text>
<text x="-1.7" y="804.1" font-size="48.5" fill="#1a1a1a">(b)</text>
</svg></body></html>
